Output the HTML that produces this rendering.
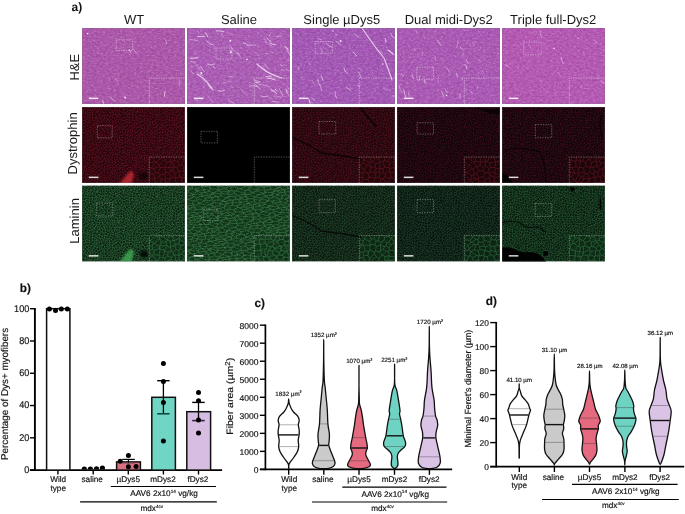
<!DOCTYPE html>
<html><head><meta charset="utf-8"><title>Figure</title>
<style>
html,body{margin:0;padding:0;background:#fff;}
body{width:685px;height:514px;overflow:hidden;}
svg{display:block;font-family:'Liberation Sans', sans-serif;text-rendering:geometricPrecision;}
g.ch text{stroke:#111;stroke-width:0.16px;}
</style></head><body>
<svg width="685" height="514" viewBox="0 0 685 514">
<rect width="685" height="514" fill="#fff"/>
<defs>
<filter id="grain" x="0" y="0" width="100%" height="100%" color-interpolation-filters="sRGB"><feTurbulence type="fractalNoise" baseFrequency="0.3 0.5" numOctaves="3" seed="2" result="n"/><feColorMatrix in="n" type="matrix" values="0 0 0 0 0.4  0 0 0 0 0.12  0 0 0 0 0.42  -3 0 0 0 1.7"/></filter>
<filter id="mott" x="0" y="0" width="100%" height="100%" color-interpolation-filters="sRGB"><feTurbulence type="fractalNoise" baseFrequency="0.35 0.6" numOctaves="3" seed="12" result="n"/><feColorMatrix in="n" type="matrix" values="0 0 0 0 1  0 0 0 0 0.85  0 0 0 0 1  0 3 0 0 -1.45"/></filter>
<filter id="speck" x="0" y="0" width="100%" height="100%" color-interpolation-filters="sRGB"><feTurbulence type="fractalNoise" baseFrequency="0.7" numOctaves="2" seed="6" result="n"/><feColorMatrix in="n" type="matrix" values="0 0 0 0 1  0 0 0 0 0.92  0 0 0 0 1  9 0 0 0 -6.1"/></filter>
<filter id="speck2" x="0" y="0" width="100%" height="100%" color-interpolation-filters="sRGB"><feTurbulence type="fractalNoise" baseFrequency="0.5" numOctaves="2" seed="13" result="n"/><feColorMatrix in="n" type="matrix" values="0 0 0 0 1  0 0 0 0 0.92  0 0 0 0 1  9 0 0 0 -5.9"/></filter>
<filter id="dgrain" x="0" y="0" width="100%" height="100%" color-interpolation-filters="sRGB"><feTurbulence type="fractalNoise" baseFrequency="0.9" numOctaves="1" seed="21" result="n"/><feColorMatrix in="n" type="matrix" values="0 0 0 0 0  0 0 0 0 0  0 0 0 0 0  3 0 0 0 -1.2"/></filter>
<filter id="blur1"><feGaussianBlur stdDeviation="1.2"/></filter>
<filter id="blur2"><feGaussianBlur stdDeviation="2.5"/></filter>
<pattern id="pR" width="40" height="40" patternUnits="userSpaceOnUse"><path d="M29.8 22.9L27.4 22.8M29.8 22.9L30.3 24.5M27.9 24.9L27.4 22.8M27.9 24.9L29.9 25.4M30.3 24.5L29.9 25.4M31.0 14.9L29.5 12.9M31.0 14.9L32.0 14.6M32.0 14.6L32.2 12.8M29.5 12.9L32.2 12.8M29.9 36.2L30.7 33.7M29.9 36.2L30.0 36.3M30.7 33.7L33.2 34.6M30.0 36.3L32.3 37.2M32.3 37.2L33.3 34.7M33.2 34.6L33.3 34.7M31.6 39.6L32.5 37.8M31.6 39.6L32.7 41.7M32.5 37.8L34.3 38.1M34.3 38.1L35.2 40.1M35.2 40.1L32.7 41.7M25.2 21.1L25.5 21.8M25.2 21.1L26.9 19.2M25.5 21.8L26.5 22.5M26.5 22.5L26.8 22.5M26.8 22.5L28.3 20.1M28.3 20.1L26.9 19.2M25.5 21.8L22.9 23.2M22.9 23.2L22.7 24.1M26.5 22.5L25.7 24.6M25.7 24.6L22.7 24.1M31.8 31.9L32.3 30.0M31.8 31.9L30.3 32.8M32.3 30.0L32.0 29.8M32.0 29.8L29.7 30.0M30.3 32.8L29.9 32.6M29.9 32.6L29.0 30.6M29.0 30.6L29.7 30.0M30.7 33.7L30.3 32.8M33.1 32.4L33.2 34.6M33.1 32.4L31.8 31.9M31.6 27.3L30.1 26.9M31.6 27.3L32.0 29.8M30.1 26.9L29.7 30.0M29.9 36.2L27.4 35.5M27.8 33.9L27.4 35.5M27.8 33.9L29.9 32.6M33.3 17.0L32.5 14.8M33.3 17.0L35.0 17.3M35.0 17.3L35.5 14.8M32.5 14.8L34.4 14.2M35.5 14.8L34.4 14.2M4.4 3.3L5.9 2.2M4.4 3.3L5.4 6.0M7.1 3.1L7.0 5.4M7.1 3.1L6.3 2.4M6.3 2.4L5.9 2.2M5.4 6.0L7.0 5.4M0.1 -0.7L1.6 0.1M0.1 -0.7L-1.5 -0.0M-1.7 1.3L-0.2 2.6M1.6 0.1L-0.2 2.6M0.1 -0.7L-0.0 -1.2M24.3 11.0L23.2 10.6M24.3 11.0L25.3 8.7M24.6 7.9L25.3 8.7M24.6 7.9L22.8 8.9M23.2 10.6L22.8 8.9M22.5 5.0L21.3 1.8M22.5 5.0L22.2 5.1M22.2 5.1L19.8 5.5M19.8 2.0L21.3 1.8M19.8 2.0L19.1 4.4M19.1 4.4L19.8 5.5M19.4 6.4L21.9 7.9M19.4 6.4L19.0 7.1M19.0 7.1L20.0 9.6M20.0 9.6L22.0 8.7M21.9 7.9L22.0 8.7M22.2 5.1L21.9 7.9M19.8 5.5L19.4 6.4M17.4 7.2L19.0 7.1M17.4 7.2L16.4 4.7M16.4 4.7L16.9 4.0M16.9 4.0L19.1 4.4M24.7 6.9L24.6 7.9M24.7 6.9L23.6 5.0M23.6 5.0L22.5 5.0M22.8 8.9L22.0 8.7M19.3 29.6L21.8 28.8M19.3 29.6L21.1 32.2M21.8 28.8L22.6 30.1M22.6 30.1L22.4 32.1M21.1 32.2L22.4 32.1M24.3 11.0L25.2 12.1M25.2 12.1L24.4 13.1M23.2 10.6L21.9 11.8M24.4 13.1L21.9 11.8M19.7 10.3L20.0 9.6M19.7 10.3L20.8 12.1M20.8 12.1L21.9 11.8M25.2 21.1L24.4 20.2M26.9 19.2L26.3 17.6M26.3 17.6L25.5 17.3M25.5 17.3L24.4 20.2M28.5 15.6L27.6 14.0M28.5 15.6L28.1 17.0M27.6 14.0L25.0 15.7M26.3 17.6L28.1 17.0M25.5 17.3L25.3 17.1M25.0 15.7L25.3 17.1M5.0 28.9L5.0 27.4M5.0 28.9L3.9 29.9M5.0 27.4L1.5 27.4M3.9 29.9L3.7 30.0M0.9 27.7L1.5 27.4M0.9 27.7L3.3 29.9M3.3 29.9L3.7 30.0M5.1 26.3L3.2 25.5M5.1 26.3L5.2 26.6M5.2 26.6L5.0 27.4M3.2 25.5L1.5 27.4M0.4 31.6L-0.1 31.6M0.4 31.6L3.3 29.9M-0.5 30.3L-0.1 31.6M-0.5 30.3L-0.1 27.6M-0.1 27.6L0.9 27.7M0.4 31.6L3.0 33.3M3.0 33.3L3.3 32.9M3.3 32.9L3.7 30.0M3.3 32.9L5.5 32.8M3.9 29.9L5.8 32.1M5.5 32.8L5.8 32.1M29.7 40.7L31.1 39.6M29.7 40.7L27.6 39.3M31.1 39.6L29.0 38.5M29.0 38.5L27.6 39.1M27.6 39.3L27.6 39.1M27.1 41.0L27.2 40.4M27.2 40.4L27.6 39.3M31.6 39.6L31.1 39.6M30.0 36.3L29.0 38.5M32.5 37.8L32.3 37.2M27.2 35.6L27.4 35.5M27.2 35.6L26.9 38.2M26.9 38.2L27.6 39.1M35.0 17.3L35.3 17.6M37.6 15.4L36.6 14.1M37.6 15.4L36.9 18.1M35.5 14.8L36.6 14.1M35.3 17.6L36.9 18.1M33.1 32.4L34.8 31.3M32.3 30.0L35.0 29.9M35.0 29.9L35.0 29.9M34.8 31.3L35.0 29.9M36.0 36.8L34.3 38.1M36.0 36.8L37.1 37.2M35.2 40.1L35.4 40.2M35.4 40.2L37.3 39.2M37.1 37.2L37.3 39.2M27.8 33.9L26.6 32.6M29.0 30.6L27.9 30.3M26.6 32.6L27.9 30.3M24.4 38.1L22.4 36.1M24.4 38.1L25.3 35.2M22.4 36.1L25.2 35.1M25.3 35.2L25.2 35.1M27.2 35.6L25.3 35.2M26.9 38.2L24.5 38.3M24.5 38.3L24.4 38.1M24.3 32.8L23.2 32.7M24.3 32.8L25.2 35.1M23.2 32.7L21.9 35.9M21.9 35.9L22.4 36.1M24.3 32.8L24.7 32.6M26.6 32.6L24.7 32.6M16.8 35.9L18.5 34.7M16.8 35.9L17.1 37.2M19.5 34.8L18.5 34.7M19.5 34.8L19.7 34.9M17.1 37.2L19.2 37.9M19.2 37.9L19.7 34.9M23.2 32.7L22.4 32.1M21.9 35.9L21.9 36.0M21.1 32.2L20.7 32.6M20.7 32.6L19.5 34.8M19.7 34.9L21.9 36.0M31.8 20.2L30.7 20.6M31.8 20.2L32.1 17.7M30.7 20.6L29.5 19.8M29.5 19.8L29.3 18.0M29.3 18.0L30.9 17.0M32.1 17.7L30.9 17.0M33.3 17.0L32.1 17.7M32.5 20.4L31.8 20.2M32.5 20.4L34.0 20.2M34.0 20.2L35.3 17.6M29.8 22.9L30.5 21.8M27.4 22.8L26.8 22.5M30.5 21.8L30.7 20.6M28.3 20.1L29.5 19.8M28.1 17.0L29.3 18.0M30.6 15.4L28.5 15.6M30.6 15.4L30.9 17.0M30.6 15.4L31.0 14.9M32.5 14.8L32.0 14.6M30.0 26.8L30.1 26.9M30.0 26.8L27.3 27.6M27.9 30.3L27.1 29.5M27.3 27.6L27.1 29.5M24.7 32.6L25.4 29.8M27.1 29.5L25.4 29.8M22.6 30.1L24.9 29.5M24.9 29.5L25.4 29.8M23.9 27.2L24.1 27.4M23.9 27.2L23.9 26.8M23.9 26.8L25.8 25.2M24.1 27.4L27.1 27.3M27.1 27.3L26.7 25.8M26.7 25.8L25.8 25.2M22.0 28.2L21.8 28.8M22.0 28.2L23.9 27.2M24.9 29.5L24.1 27.4M25.7 24.6L25.8 25.2M22.5 24.4L22.7 24.1M22.5 24.4L23.9 26.8M27.3 27.6L27.1 27.3M27.9 24.9L26.7 25.8M29.9 25.4L30.0 26.8M34.4 14.2L33.9 12.4M36.6 14.1L36.7 14.0M36.7 14.0L35.0 11.4M35.0 11.4L33.9 12.4M36.7 14.0L37.9 13.0M37.9 13.0L36.7 10.2M35.3 10.4L36.7 10.2M35.3 10.4L35.2 10.5M35.0 11.4L35.2 10.5M32.2 12.8L32.4 12.4M33.9 12.4L32.4 12.4M25.3 8.7L27.4 9.7M25.2 12.1L27.4 11.9M27.4 9.7L27.4 11.9M29.5 12.9L28.8 12.3M27.6 14.0L27.9 12.3M28.8 12.3L27.9 12.3M24.4 13.1L23.9 14.6M25.0 15.7L23.9 14.6M27.4 11.9L27.9 12.3M37.3 -0.8L38.5 -0.0M38.5 -0.0L40.1 -0.7M40.1 -0.7L40.0 -1.2M38.3 1.3L36.5 2.3M38.3 1.3L38.5 -0.0M35.4 0.2L36.5 2.3M35.4 0.2L37.3 -0.8M34.3 -1.9L35.2 0.1M35.2 0.1L35.4 0.2M41.6 0.1L39.8 2.6M41.6 0.1L40.1 -0.7M38.3 1.3L39.8 2.6M3.0 33.3L3.0 33.5M5.8 33.9L5.5 32.8M5.8 33.9L4.6 35.1M3.0 33.5L4.6 35.1M2.4 0.5L1.9 0.1M2.4 0.5L5.2 0.6M5.4 0.2L5.2 0.6M4.4 3.3L2.8 3.3M5.9 2.2L5.2 0.6M2.8 3.3L2.4 0.5M1.6 0.1L1.9 0.1M7.0 -0.7L8.7 -0.2M7.0 -0.7L5.4 0.2M8.7 -0.2L6.3 2.4M7.1 3.1L9.4 2.6M7.0 5.4L7.4 5.6M7.4 5.6L9.8 4.8M9.4 2.6L9.8 4.8M7.4 5.6L8.6 7.7M10.5 7.4L8.6 7.7M10.5 7.4L10.9 5.7M10.9 5.7L9.8 4.8M8.7 -0.2L8.7 -0.2M9.4 2.6L9.6 2.4M9.6 2.4L9.1 0.3M8.7 -0.2L9.1 0.3M16.4 4.7L15.2 5.0M16.9 4.0L16.7 3.2M15.2 5.0L14.2 3.1M14.2 3.1L14.8 2.4M16.7 3.2L14.8 2.4M19.8 2.0L19.7 1.9M19.7 1.9L17.0 2.6M16.7 3.2L17.0 2.6M19.7 -1.4L18.5 0.1M21.3 1.8L21.6 1.5M18.5 0.1L19.7 1.9M21.6 1.5L20.5 -1.4M5.4 6.0L5.1 6.4M8.6 7.7L7.6 9.2M5.1 6.4L5.2 7.0M5.2 7.0L7.3 9.2M7.3 9.2L7.6 9.2M19.7 10.3L18.1 10.6M17.1 12.4L18.1 10.6M17.1 12.4L18.4 13.8M20.8 12.1L20.7 12.5M20.7 12.5L18.4 13.8M25.3 17.1L22.2 17.9M23.9 14.6L23.0 14.7M23.0 14.7L22.0 17.7M22.0 17.7L22.2 17.9M24.4 20.2L22.1 19.9M22.2 17.9L22.1 19.9M22.9 23.2L22.3 22.1M22.3 22.1L21.8 20.1M21.8 20.1L22.1 19.9M2.3 23.9L3.2 25.5M2.3 23.9L0.8 24.7M-0.1 27.6L-0.2 27.5M0.8 24.7L0.2 25.6M-0.2 27.5L0.2 25.6M-0.2 3.2L2.2 4.0M-0.2 3.2L-1.7 4.8M-0.7 5.8L1.9 5.1M2.2 4.0L2.2 4.6M2.2 4.6L1.9 5.1M2.8 3.3L2.2 4.0M-0.2 2.6L-0.2 3.2M0.0 8.0L1.6 7.2M0.0 8.0L-0.7 5.8M1.6 7.2L1.9 5.1M4.3 6.3L5.1 6.4M4.3 6.3L2.2 4.6M1.6 7.2L2.5 7.5M2.5 7.5L4.3 6.3M12.3 37.7L9.8 37.8M12.3 37.7L12.6 40.0M12.6 40.0L9.1 40.3M9.1 40.3L8.7 39.8M8.7 39.8L9.8 37.8M12.3 37.7L12.4 37.7M12.4 37.7L12.7 35.0M9.5 37.5L9.8 37.8M9.5 37.5L9.6 35.2M9.6 35.2L12.7 35.0M15.2 34.9L16.1 35.6M15.2 34.9L12.9 34.7M16.1 35.6L14.3 37.8M14.3 37.8L12.4 37.7M12.9 34.7L12.7 35.0M14.7 38.0L16.7 38.0M14.7 38.0L15.3 40.4M16.7 38.0L16.9 40.1M15.3 40.4L16.9 40.1M16.9 40.1L16.9 40.1M16.1 35.6L16.8 35.9M14.3 37.8L14.7 38.0M17.1 37.2L16.7 38.0M12.6 40.0L12.8 40.3M12.8 40.3L14.5 40.8M14.5 40.8L15.3 40.4M18.5 40.1L16.9 40.1M18.5 40.1L19.7 38.6M19.7 38.6L19.2 37.9M30.5 21.8L32.9 23.4M32.5 20.4L33.2 23.0M32.9 23.4L33.2 23.0M30.3 24.5L32.6 24.4M32.9 23.4L32.6 24.4M31.6 27.3L33.2 26.7M33.2 26.7L33.1 25.1M32.6 24.4L33.1 25.1M34.0 20.2L34.6 20.7M33.2 23.0L34.8 22.7M34.6 20.7L34.8 22.7M35.7 24.3L33.1 25.1M35.7 24.3L35.8 23.5M34.8 22.7L35.8 23.5M33.2 26.7L34.8 27.7M35.7 24.3L36.1 25.3M36.1 25.3L34.8 27.7M35.0 29.9L34.9 27.8M34.8 27.7L34.9 27.8M39.5 30.3L39.9 31.6M39.5 30.3L36.4 29.9M39.9 31.6L39.3 32.4M36.4 29.9L36.0 30.0M36.0 30.0L38.2 32.5M39.3 32.4L38.2 32.5M23.8 39.4L21.2 38.2M23.8 39.4L23.8 39.7M23.8 39.7L23.8 39.8M23.8 39.8L22.6 41.1M20.5 38.6L21.2 38.2M20.5 38.6L21.6 41.5M24.5 38.3L23.8 39.4M21.9 36.0L21.2 38.2M27.2 40.4L23.8 39.7M25.8 42.1L23.8 39.8M19.7 38.6L20.5 38.6M38.3 41.3L38.5 40.0M38.5 40.0L40.1 39.3M40.1 39.3L41.6 40.1M37.3 39.2L38.5 40.0M35.2 10.5L32.3 10.1M32.4 12.4L31.7 10.7M32.3 10.1L31.7 10.7M28.8 12.3L31.1 10.7M31.7 10.7L31.1 10.7M29.0 -1.5L31.1 -0.4M31.6 -0.4L31.1 -0.4M35.2 0.1L32.7 1.7M31.6 -0.4L32.7 1.7M33.7 4.3L33.1 4.3M33.7 4.3L36.4 3.1M33.1 4.3L32.4 2.4M36.4 3.1L36.4 2.7M36.4 2.7L32.7 1.7M32.4 2.4L32.7 1.7M37.7 4.8L38.3 4.8M37.7 4.8L36.4 3.1M39.8 2.6L39.8 3.2M36.5 2.3L36.4 2.7M38.3 4.8L39.8 3.2M32.7 1.7L32.7 1.7M31.1 -0.4L29.7 0.7M29.7 0.7L29.3 2.5M29.3 2.5L29.6 2.8M29.6 2.8L32.4 2.4M-0.2 8.4L0.0 8.0M-0.0 38.8L1.9 36.2M-0.0 38.8L-1.0 36.8M-1.0 36.8L0.5 35.2M0.5 35.2L1.2 35.3M1.2 35.3L1.9 36.2M3.3 37.3L1.9 40.1M3.3 37.3L1.9 36.2M1.9 40.1L1.6 40.1M0.1 39.3L1.6 40.1M0.1 39.3L-0.0 38.8M-0.7 32.4L-0.0 34.4M0.5 35.2L-0.0 34.4M-0.1 31.6L-0.7 32.4M3.0 33.5L1.2 35.3M0.1 39.3L-1.5 40.0M-0.2 27.5L-1.1 27.3M15.2 5.0L15.0 5.2M14.2 3.1L12.5 3.6M12.5 3.6L12.4 4.8M15.0 5.2L12.4 4.8M11.7 2.4L9.6 2.4M11.7 2.4L12.5 3.6M10.9 5.7L12.2 5.1M12.2 5.1L12.4 4.8M9.1 0.3L12.6 0.0M11.7 2.4L12.8 0.3M14.8 2.4L14.5 0.8M14.5 0.8L12.8 0.3M12.8 0.3L12.6 0.0M10.5 7.4L10.9 7.9M8.2 9.9L7.6 9.2M8.2 9.9L10.6 10.0M10.6 10.0L10.9 7.9M23.6 5.0L24.8 3.6M21.6 1.5L22.6 1.1M22.6 1.1L24.8 3.6M8.2 9.9L8.4 11.8M8.4 11.8L7.7 12.3M7.7 12.3L5.5 11.3M7.3 9.2L5.3 10.6M5.3 10.6L5.5 11.3M5.2 7.0L3.7 9.9M5.3 10.6L3.7 9.9M-0.2 8.4L-0.2 8.6M-0.2 8.6L3.5 10.0M2.5 7.5L3.6 9.9M3.5 10.0L3.6 9.9M3.6 9.9L3.7 9.9M-0.7 9.4L0.4 12.2M-0.2 12.9L0.4 12.2M-0.2 8.6L-0.7 9.4M3.5 10.0L2.1 11.9M2.1 11.9L0.4 12.2M0.3 15.0L-0.4 15.8M0.3 15.0L-0.2 12.9M0.8 24.7L-1.1 22.3M0.2 25.6L-1.7 24.1M9.1 16.7L9.4 17.3M9.1 16.7L8.0 15.9M8.0 15.9L7.1 18.4M9.4 17.3L9.3 19.8M7.1 18.4L9.3 19.8M9.3 19.8L9.3 19.8M6.4 14.9L7.3 14.9M6.4 14.9L5.0 18.0M5.0 18.0L5.5 18.6M5.5 18.6L7.1 18.4M7.6 15.1L7.3 14.9M7.6 15.1L8.0 15.9M5.5 18.6L5.4 19.6M7.9 20.5L5.4 19.6M7.9 20.5L9.3 19.8M11.7 19.5L11.2 19.9M11.7 19.5L12.4 17.1M12.4 17.1L12.2 16.8M12.2 16.8L9.4 17.3M9.3 19.8L9.8 20.1M9.8 20.1L11.2 19.9M20.4 16.3L19.3 15.7M20.4 16.3L21.8 14.3M19.3 15.7L21.0 13.2M21.8 14.3L21.0 13.2M20.7 12.5L21.0 13.2M18.4 13.8L18.2 15.3M18.2 15.3L18.3 15.4M18.3 15.4L19.3 15.7M23.0 14.7L21.8 14.3M22.0 17.7L21.1 17.2M20.4 16.3L20.5 16.4M20.5 16.4L21.1 17.2M7.0 21.9L5.0 22.1M7.0 21.9L8.0 23.0M5.8 24.3L4.9 22.5M5.8 24.3L8.1 24.1M4.9 22.5L5.0 22.1M8.1 24.1L8.0 23.0M7.9 20.5L7.0 21.9M5.4 19.6L4.7 21.1M4.7 21.1L5.0 22.1M9.8 20.1L9.7 21.4M9.7 21.4L8.0 23.0M5.1 26.3L5.8 24.3M2.4 23.8L4.9 22.5M2.4 23.8L2.3 23.9M2.4 40.5L1.9 40.1M8.7 39.8L8.7 39.8M2.4 40.5L5.2 40.6M9.9 32.6L10.4 33.1M9.9 32.6L8.0 33.0M10.4 33.1L9.2 34.8M8.0 33.0L7.8 34.4M7.8 34.4L9.2 34.8M9.6 35.2L9.2 34.8M12.6 33.5L10.4 33.1M12.6 33.5L12.9 34.7M7.7 34.5L5.8 33.9M7.7 34.5L7.8 34.4M7.4 31.6L8.0 33.0M7.4 31.6L5.8 32.1M7.7 34.5L7.0 36.6M9.5 37.5L7.0 36.6M36.1 25.3L37.4 25.6M34.9 27.8L38.7 27.2M37.4 25.6L38.7 27.2M39.9 27.6L39.5 30.3M39.9 27.6L39.8 27.5M36.4 29.9L38.9 27.3M39.8 27.5L38.9 27.3M35.0 29.9L36.0 30.0M38.9 27.3L38.7 27.2M34.8 31.3L35.7 33.6M38.2 32.5L37.2 33.2M37.2 33.2L35.7 33.6M33.3 34.7L35.1 34.6M35.7 33.6L35.1 34.6M36.0 36.8L35.4 35.1M35.4 35.1L35.1 34.6M39.3 32.4L40.0 34.4M37.2 33.2L37.8 34.9M40.0 34.4L37.8 34.9M37.1 37.2L37.8 36.8M35.4 35.1L37.8 35.0M37.8 36.8L37.8 35.0M37.8 35.0L37.8 34.9M34.4 7.9L36.6 7.4M34.4 7.9L34.1 7.7M34.1 7.7L35.2 5.8M35.2 5.8L36.9 5.8M36.9 5.8L36.9 6.8M36.9 6.8L36.6 7.4M35.3 10.4L34.4 7.9M37.1 9.8L36.7 10.2M37.1 9.8L36.6 7.4M32.3 10.1L32.5 7.4M32.5 7.4L34.1 7.7M37.7 4.8L36.9 5.8M33.7 4.3L35.2 5.8M39.8 8.4L36.9 6.8M39.8 8.4L39.8 8.6M37.1 9.8L39.3 9.4M39.8 8.6L39.3 9.4M32.5 7.4L32.1 7.0M33.1 4.3L32.6 5.1M32.6 5.1L32.1 7.0M29.6 2.8L29.5 4.4M32.6 5.1L29.5 4.4M41.6 7.2L40.0 8.0M41.9 5.1L39.3 5.8M40.0 8.0L39.3 5.8M39.8 8.4L40.0 8.0M38.3 4.8L39.3 5.8M13.7 8.0L15.2 9.8M13.7 8.0L13.9 7.5M13.9 7.5L14.7 6.9M14.7 6.9L17.0 7.5M17.0 7.5L16.5 9.4M16.5 9.4L15.2 9.8M12.2 5.1L13.9 7.5M10.9 7.9L13.0 8.3M13.0 8.3L13.7 8.0M15.0 5.2L14.7 6.9M17.4 7.2L17.0 7.5M18.1 10.6L16.5 9.4M15.3 0.4L14.7 -2.0M15.3 0.4L16.9 0.1M16.9 0.1L16.9 0.1M16.9 0.1L16.7 -2.0M14.5 0.8L15.3 0.4M17.0 2.6L16.9 0.1M18.5 0.1L16.9 0.1M29.7 0.7L27.6 -0.7M27.6 -0.9L27.6 -0.7M5.5 14.5L5.2 12.7M5.5 14.5L3.3 14.9M5.2 12.7L2.6 12.5M3.3 14.9L2.6 12.5M7.7 12.3L7.3 14.9M6.4 14.9L5.5 14.5M5.5 11.3L5.2 12.7M2.5 15.7L2.8 17.5M2.5 15.7L3.3 14.9M2.8 17.5L5.0 18.0M2.1 11.9L2.6 12.5M2.5 15.7L0.3 15.0M-2.4 20.6L0.5 19.8M0.5 19.8L-0.9 17.9M2.8 17.5L2.6 17.8M-0.4 15.8L-0.7 17.7M2.6 17.8L-0.7 17.7M-0.7 17.7L-0.9 17.9M7.6 15.1L10.1 14.1M9.1 16.7L11.2 15.1M10.1 14.1L11.2 15.1M12.2 16.8L12.2 15.6M11.2 15.1L12.2 15.6M12.4 10.9L11.0 10.7M12.4 10.9L12.4 10.9M12.4 10.9L12.2 12.9M11.0 10.7L10.0 12.2M12.2 12.9L10.3 13.1M10.0 12.2L10.3 13.1M10.6 10.0L11.0 10.7M13.0 8.3L12.4 10.9M14.6 11.3L12.4 10.9M14.6 11.3L15.2 9.8M8.4 11.8L10.0 12.2M10.1 14.1L10.3 13.1M15.4 14.8L13.1 14.6M15.4 14.8L15.9 12.6M15.9 12.6L14.7 11.7M14.7 11.7L13.0 13.7M13.1 14.6L13.0 13.7M17.1 12.4L15.9 12.6M18.2 15.3L15.8 15.4M15.8 15.4L15.4 14.8M14.6 11.3L14.7 11.7M12.2 12.9L13.0 13.7M12.2 15.6L13.1 14.6M11.2 19.9L12.8 23.3M9.7 21.4L10.5 23.0M10.5 23.0L12.7 23.4M12.8 23.3L12.7 23.4M22.0 28.2L20.3 25.8M22.5 24.4L20.4 25.0M20.3 25.8L20.4 25.0M22.3 22.1L19.3 22.9M19.3 22.9L19.8 24.5M20.4 25.0L19.8 24.5M20.7 32.6L17.1 31.6M18.5 34.7L17.0 31.8M17.1 31.6L17.0 31.8M15.2 34.9L16.4 32.0M17.0 31.8L16.4 32.0M11.7 19.5L14.7 20.5M12.8 23.3L14.8 21.1M14.7 20.5L14.8 21.1M5.4 40.2L7.0 39.3M5.4 40.2L4.2 37.1M7.0 39.3L6.5 36.9M6.5 36.9L4.6 36.7M4.6 36.7L4.2 37.1M8.7 39.8L7.0 39.3M5.2 40.6L5.4 40.2M3.3 37.3L4.2 37.1M7.0 36.6L6.5 36.9M4.6 35.1L4.6 36.7M34.6 20.7L37.6 20.8M35.8 23.5L38.0 22.1M37.6 20.8L38.0 22.1M36.9 18.1L37.5 18.5M37.6 20.8L37.6 20.6M37.5 18.5L37.6 20.6M40.3 15.0L39.8 12.9M39.8 12.9L40.4 12.2M37.6 15.4L39.6 15.8M37.9 13.0L39.8 12.9M39.6 15.8L40.3 15.0M39.3 9.4L40.4 12.2M38.3 24.1L40.2 25.6M38.3 24.1L38.2 22.2M38.2 22.2L38.9 22.3M38.9 22.3L40.8 24.7M40.8 24.7L40.2 25.6M37.4 25.6L38.3 24.1M39.8 27.5L40.2 25.6M38.0 22.1L38.2 22.2M40.9 27.7L39.9 27.6M38.9 22.2L38.9 22.3M38.9 22.2L41.5 22.1M39.9 31.6L40.4 31.6M40.0 38.8L39.0 36.8M40.0 38.8L41.9 36.2M39.0 36.8L40.5 35.2M40.5 35.2L41.2 35.3M40.1 39.3L40.0 38.8M37.8 36.8L39.0 36.8M40.0 34.4L40.5 35.2M31.1 10.7L29.7 8.8M32.1 7.0L30.6 7.3M30.6 7.3L29.7 8.8M27.4 9.7L27.7 9.4M27.7 9.4L29.7 8.8M23.8 -0.2L25.8 2.1M23.8 -0.2L23.8 -0.3M23.8 -0.3L27.2 0.4M25.8 2.1L27.1 1.0M27.1 1.0L27.2 0.4M22.6 1.1L23.8 -0.2M24.8 3.6L25.4 3.3M25.4 3.3L25.8 2.1M23.8 -0.6L23.8 -0.3M28.9 2.4L26.5 3.9M28.9 2.4L27.1 1.0M26.5 3.9L25.4 3.3M29.3 2.5L28.9 2.4M27.6 -0.7L27.2 0.4M0.6 19.8L2.0 20.1M0.6 19.8L-1.1 22.2M1.5 22.1L2.1 20.3M1.5 22.1L-1.1 22.2M2.1 20.3L2.0 20.1M0.5 19.8L0.6 19.8M2.6 17.8L2.0 20.1M2.4 23.8L1.5 22.1M4.7 21.1L2.1 20.3M15.5 26.0L16.7 25.4M15.5 26.0L13.5 24.5M13.5 24.5L16.3 23.6M16.3 23.6L16.8 25.1M16.7 25.4L16.8 25.1M14.8 27.9L14.5 28.2M14.8 27.9L15.5 26.0M12.6 26.7L13.1 24.4M12.6 26.7L14.2 28.1M13.1 24.4L13.5 24.5M14.2 28.1L14.5 28.2M12.7 23.4L12.9 24.1M13.1 24.4L12.9 24.1M16.6 22.6L14.8 21.1M16.6 22.6L16.3 23.6M5.2 26.6L7.2 26.6M8.1 24.1L8.4 24.4M7.2 26.6L8.4 24.4M10.5 23.0L9.2 24.6M12.9 24.1L9.8 25.5M9.8 25.5L9.2 24.6M8.4 24.4L9.2 24.6M19.3 26.7L17.6 26.8M19.3 26.7L19.3 29.6M17.6 26.8L17.0 27.9M17.0 27.9L18.2 29.9M19.3 29.6L18.2 29.9M20.3 25.8L19.3 26.7M19.8 24.5L16.8 25.1M16.7 25.4L17.6 26.8M19.3 29.6L19.3 29.6M14.8 27.9L17.0 27.9M17.3 30.9L14.6 29.0M17.3 30.9L18.2 29.9M14.5 28.2L14.6 29.0M17.3 30.9L17.1 31.6M10.8 29.9L11.7 29.8M10.8 29.9L12.7 33.0M11.7 29.8L13.9 30.6M12.7 33.0L14.0 31.8M14.0 31.8L13.9 30.6M14.2 28.1L11.7 29.8M14.6 29.0L13.9 30.6M12.6 33.5L12.7 33.0M16.4 32.0L14.0 31.8M21.8 20.1L19.8 20.4M21.1 17.2L18.7 19.2M18.7 19.2L19.8 20.4M19.3 22.9L19.0 22.5M19.8 20.4L19.0 22.5M16.6 22.6L17.0 22.4M19.0 22.5L17.0 22.4M40.6 19.8L40.5 19.8M40.5 19.8L39.1 17.9M42.6 17.8L39.3 17.7M39.3 17.7L39.1 17.9M38.9 22.2L40.6 19.8M37.6 20.6L40.5 19.8M37.5 18.5L39.1 17.9M39.6 15.8L39.3 17.7M29.1 5.0L30.0 6.8M29.1 5.0L27.5 5.2M30.0 6.8L27.7 7.3M27.5 5.2L27.0 6.3M27.0 6.3L27.7 7.3M29.5 4.4L29.1 5.0M30.6 7.3L30.0 6.8M26.5 3.9L27.5 5.2M27.7 9.4L27.7 7.3M24.7 6.9L27.0 6.3M8.3 27.5L10.2 27.0M8.3 27.5L7.6 29.8M10.7 27.4L10.2 27.0M10.7 27.4L10.8 29.9M7.6 29.8L7.9 30.3M7.9 30.3L9.9 30.4M9.9 30.4L10.8 29.9M7.2 26.6L8.3 27.5M9.8 25.5L10.2 27.0M5.0 28.9L7.6 29.8M12.6 26.7L10.7 27.4M10.8 29.9L10.8 29.9M7.4 31.6L7.9 30.3M9.9 32.6L9.9 30.4M17.8 19.3L18.3 19.0M17.8 19.3L15.2 19.7M18.0 18.0L15.4 17.0M18.0 18.0L18.2 18.5M18.2 18.5L18.3 19.0M15.2 19.7L14.8 17.6M14.8 17.6L15.4 17.0M18.7 19.2L18.3 19.0M17.0 22.4L17.8 19.3M14.7 20.5L15.2 19.7M18.3 15.4L18.0 18.0M15.8 15.4L15.4 17.0M20.5 16.4L18.2 18.5M12.4 17.1L14.8 17.6" fill="none" stroke="#9a2038" stroke-width="0.55"/></pattern>
<pattern id="pG" width="40" height="40" patternUnits="userSpaceOnUse"><path d="M29.8 22.9L27.4 22.8M29.8 22.9L30.3 24.5M27.9 24.9L27.4 22.8M27.9 24.9L29.9 25.4M30.3 24.5L29.9 25.4M31.0 14.9L29.5 12.9M31.0 14.9L32.0 14.6M32.0 14.6L32.2 12.8M29.5 12.9L32.2 12.8M29.9 36.2L30.7 33.7M29.9 36.2L30.0 36.3M30.7 33.7L33.2 34.6M30.0 36.3L32.3 37.2M32.3 37.2L33.3 34.7M33.2 34.6L33.3 34.7M31.6 39.6L32.5 37.8M31.6 39.6L32.7 41.7M32.5 37.8L34.3 38.1M34.3 38.1L35.2 40.1M35.2 40.1L32.7 41.7M25.2 21.1L25.5 21.8M25.2 21.1L26.9 19.2M25.5 21.8L26.5 22.5M26.5 22.5L26.8 22.5M26.8 22.5L28.3 20.1M28.3 20.1L26.9 19.2M25.5 21.8L22.9 23.2M22.9 23.2L22.7 24.1M26.5 22.5L25.7 24.6M25.7 24.6L22.7 24.1M31.8 31.9L32.3 30.0M31.8 31.9L30.3 32.8M32.3 30.0L32.0 29.8M32.0 29.8L29.7 30.0M30.3 32.8L29.9 32.6M29.9 32.6L29.0 30.6M29.0 30.6L29.7 30.0M30.7 33.7L30.3 32.8M33.1 32.4L33.2 34.6M33.1 32.4L31.8 31.9M31.6 27.3L30.1 26.9M31.6 27.3L32.0 29.8M30.1 26.9L29.7 30.0M29.9 36.2L27.4 35.5M27.8 33.9L27.4 35.5M27.8 33.9L29.9 32.6M33.3 17.0L32.5 14.8M33.3 17.0L35.0 17.3M35.0 17.3L35.5 14.8M32.5 14.8L34.4 14.2M35.5 14.8L34.4 14.2M4.4 3.3L5.9 2.2M4.4 3.3L5.4 6.0M7.1 3.1L7.0 5.4M7.1 3.1L6.3 2.4M6.3 2.4L5.9 2.2M5.4 6.0L7.0 5.4M0.1 -0.7L1.6 0.1M0.1 -0.7L-1.5 -0.0M-1.7 1.3L-0.2 2.6M1.6 0.1L-0.2 2.6M0.1 -0.7L-0.0 -1.2M24.3 11.0L23.2 10.6M24.3 11.0L25.3 8.7M24.6 7.9L25.3 8.7M24.6 7.9L22.8 8.9M23.2 10.6L22.8 8.9M22.5 5.0L21.3 1.8M22.5 5.0L22.2 5.1M22.2 5.1L19.8 5.5M19.8 2.0L21.3 1.8M19.8 2.0L19.1 4.4M19.1 4.4L19.8 5.5M19.4 6.4L21.9 7.9M19.4 6.4L19.0 7.1M19.0 7.1L20.0 9.6M20.0 9.6L22.0 8.7M21.9 7.9L22.0 8.7M22.2 5.1L21.9 7.9M19.8 5.5L19.4 6.4M17.4 7.2L19.0 7.1M17.4 7.2L16.4 4.7M16.4 4.7L16.9 4.0M16.9 4.0L19.1 4.4M24.7 6.9L24.6 7.9M24.7 6.9L23.6 5.0M23.6 5.0L22.5 5.0M22.8 8.9L22.0 8.7M19.3 29.6L21.8 28.8M19.3 29.6L21.1 32.2M21.8 28.8L22.6 30.1M22.6 30.1L22.4 32.1M21.1 32.2L22.4 32.1M24.3 11.0L25.2 12.1M25.2 12.1L24.4 13.1M23.2 10.6L21.9 11.8M24.4 13.1L21.9 11.8M19.7 10.3L20.0 9.6M19.7 10.3L20.8 12.1M20.8 12.1L21.9 11.8M25.2 21.1L24.4 20.2M26.9 19.2L26.3 17.6M26.3 17.6L25.5 17.3M25.5 17.3L24.4 20.2M28.5 15.6L27.6 14.0M28.5 15.6L28.1 17.0M27.6 14.0L25.0 15.7M26.3 17.6L28.1 17.0M25.5 17.3L25.3 17.1M25.0 15.7L25.3 17.1M5.0 28.9L5.0 27.4M5.0 28.9L3.9 29.9M5.0 27.4L1.5 27.4M3.9 29.9L3.7 30.0M0.9 27.7L1.5 27.4M0.9 27.7L3.3 29.9M3.3 29.9L3.7 30.0M5.1 26.3L3.2 25.5M5.1 26.3L5.2 26.6M5.2 26.6L5.0 27.4M3.2 25.5L1.5 27.4M0.4 31.6L-0.1 31.6M0.4 31.6L3.3 29.9M-0.5 30.3L-0.1 31.6M-0.5 30.3L-0.1 27.6M-0.1 27.6L0.9 27.7M0.4 31.6L3.0 33.3M3.0 33.3L3.3 32.9M3.3 32.9L3.7 30.0M3.3 32.9L5.5 32.8M3.9 29.9L5.8 32.1M5.5 32.8L5.8 32.1M29.7 40.7L31.1 39.6M29.7 40.7L27.6 39.3M31.1 39.6L29.0 38.5M29.0 38.5L27.6 39.1M27.6 39.3L27.6 39.1M27.1 41.0L27.2 40.4M27.2 40.4L27.6 39.3M31.6 39.6L31.1 39.6M30.0 36.3L29.0 38.5M32.5 37.8L32.3 37.2M27.2 35.6L27.4 35.5M27.2 35.6L26.9 38.2M26.9 38.2L27.6 39.1M35.0 17.3L35.3 17.6M37.6 15.4L36.6 14.1M37.6 15.4L36.9 18.1M35.5 14.8L36.6 14.1M35.3 17.6L36.9 18.1M33.1 32.4L34.8 31.3M32.3 30.0L35.0 29.9M35.0 29.9L35.0 29.9M34.8 31.3L35.0 29.9M36.0 36.8L34.3 38.1M36.0 36.8L37.1 37.2M35.2 40.1L35.4 40.2M35.4 40.2L37.3 39.2M37.1 37.2L37.3 39.2M27.8 33.9L26.6 32.6M29.0 30.6L27.9 30.3M26.6 32.6L27.9 30.3M24.4 38.1L22.4 36.1M24.4 38.1L25.3 35.2M22.4 36.1L25.2 35.1M25.3 35.2L25.2 35.1M27.2 35.6L25.3 35.2M26.9 38.2L24.5 38.3M24.5 38.3L24.4 38.1M24.3 32.8L23.2 32.7M24.3 32.8L25.2 35.1M23.2 32.7L21.9 35.9M21.9 35.9L22.4 36.1M24.3 32.8L24.7 32.6M26.6 32.6L24.7 32.6M16.8 35.9L18.5 34.7M16.8 35.9L17.1 37.2M19.5 34.8L18.5 34.7M19.5 34.8L19.7 34.9M17.1 37.2L19.2 37.9M19.2 37.9L19.7 34.9M23.2 32.7L22.4 32.1M21.9 35.9L21.9 36.0M21.1 32.2L20.7 32.6M20.7 32.6L19.5 34.8M19.7 34.9L21.9 36.0M31.8 20.2L30.7 20.6M31.8 20.2L32.1 17.7M30.7 20.6L29.5 19.8M29.5 19.8L29.3 18.0M29.3 18.0L30.9 17.0M32.1 17.7L30.9 17.0M33.3 17.0L32.1 17.7M32.5 20.4L31.8 20.2M32.5 20.4L34.0 20.2M34.0 20.2L35.3 17.6M29.8 22.9L30.5 21.8M27.4 22.8L26.8 22.5M30.5 21.8L30.7 20.6M28.3 20.1L29.5 19.8M28.1 17.0L29.3 18.0M30.6 15.4L28.5 15.6M30.6 15.4L30.9 17.0M30.6 15.4L31.0 14.9M32.5 14.8L32.0 14.6M30.0 26.8L30.1 26.9M30.0 26.8L27.3 27.6M27.9 30.3L27.1 29.5M27.3 27.6L27.1 29.5M24.7 32.6L25.4 29.8M27.1 29.5L25.4 29.8M22.6 30.1L24.9 29.5M24.9 29.5L25.4 29.8M23.9 27.2L24.1 27.4M23.9 27.2L23.9 26.8M23.9 26.8L25.8 25.2M24.1 27.4L27.1 27.3M27.1 27.3L26.7 25.8M26.7 25.8L25.8 25.2M22.0 28.2L21.8 28.8M22.0 28.2L23.9 27.2M24.9 29.5L24.1 27.4M25.7 24.6L25.8 25.2M22.5 24.4L22.7 24.1M22.5 24.4L23.9 26.8M27.3 27.6L27.1 27.3M27.9 24.9L26.7 25.8M29.9 25.4L30.0 26.8M34.4 14.2L33.9 12.4M36.6 14.1L36.7 14.0M36.7 14.0L35.0 11.4M35.0 11.4L33.9 12.4M36.7 14.0L37.9 13.0M37.9 13.0L36.7 10.2M35.3 10.4L36.7 10.2M35.3 10.4L35.2 10.5M35.0 11.4L35.2 10.5M32.2 12.8L32.4 12.4M33.9 12.4L32.4 12.4M25.3 8.7L27.4 9.7M25.2 12.1L27.4 11.9M27.4 9.7L27.4 11.9M29.5 12.9L28.8 12.3M27.6 14.0L27.9 12.3M28.8 12.3L27.9 12.3M24.4 13.1L23.9 14.6M25.0 15.7L23.9 14.6M27.4 11.9L27.9 12.3M37.3 -0.8L38.5 -0.0M38.5 -0.0L40.1 -0.7M40.1 -0.7L40.0 -1.2M38.3 1.3L36.5 2.3M38.3 1.3L38.5 -0.0M35.4 0.2L36.5 2.3M35.4 0.2L37.3 -0.8M34.3 -1.9L35.2 0.1M35.2 0.1L35.4 0.2M41.6 0.1L39.8 2.6M41.6 0.1L40.1 -0.7M38.3 1.3L39.8 2.6M3.0 33.3L3.0 33.5M5.8 33.9L5.5 32.8M5.8 33.9L4.6 35.1M3.0 33.5L4.6 35.1M2.4 0.5L1.9 0.1M2.4 0.5L5.2 0.6M5.4 0.2L5.2 0.6M4.4 3.3L2.8 3.3M5.9 2.2L5.2 0.6M2.8 3.3L2.4 0.5M1.6 0.1L1.9 0.1M7.0 -0.7L8.7 -0.2M7.0 -0.7L5.4 0.2M8.7 -0.2L6.3 2.4M7.1 3.1L9.4 2.6M7.0 5.4L7.4 5.6M7.4 5.6L9.8 4.8M9.4 2.6L9.8 4.8M7.4 5.6L8.6 7.7M10.5 7.4L8.6 7.7M10.5 7.4L10.9 5.7M10.9 5.7L9.8 4.8M8.7 -0.2L8.7 -0.2M9.4 2.6L9.6 2.4M9.6 2.4L9.1 0.3M8.7 -0.2L9.1 0.3M16.4 4.7L15.2 5.0M16.9 4.0L16.7 3.2M15.2 5.0L14.2 3.1M14.2 3.1L14.8 2.4M16.7 3.2L14.8 2.4M19.8 2.0L19.7 1.9M19.7 1.9L17.0 2.6M16.7 3.2L17.0 2.6M19.7 -1.4L18.5 0.1M21.3 1.8L21.6 1.5M18.5 0.1L19.7 1.9M21.6 1.5L20.5 -1.4M5.4 6.0L5.1 6.4M8.6 7.7L7.6 9.2M5.1 6.4L5.2 7.0M5.2 7.0L7.3 9.2M7.3 9.2L7.6 9.2M19.7 10.3L18.1 10.6M17.1 12.4L18.1 10.6M17.1 12.4L18.4 13.8M20.8 12.1L20.7 12.5M20.7 12.5L18.4 13.8M25.3 17.1L22.2 17.9M23.9 14.6L23.0 14.7M23.0 14.7L22.0 17.7M22.0 17.7L22.2 17.9M24.4 20.2L22.1 19.9M22.2 17.9L22.1 19.9M22.9 23.2L22.3 22.1M22.3 22.1L21.8 20.1M21.8 20.1L22.1 19.9M2.3 23.9L3.2 25.5M2.3 23.9L0.8 24.7M-0.1 27.6L-0.2 27.5M0.8 24.7L0.2 25.6M-0.2 27.5L0.2 25.6M-0.2 3.2L2.2 4.0M-0.2 3.2L-1.7 4.8M-0.7 5.8L1.9 5.1M2.2 4.0L2.2 4.6M2.2 4.6L1.9 5.1M2.8 3.3L2.2 4.0M-0.2 2.6L-0.2 3.2M0.0 8.0L1.6 7.2M0.0 8.0L-0.7 5.8M1.6 7.2L1.9 5.1M4.3 6.3L5.1 6.4M4.3 6.3L2.2 4.6M1.6 7.2L2.5 7.5M2.5 7.5L4.3 6.3M12.3 37.7L9.8 37.8M12.3 37.7L12.6 40.0M12.6 40.0L9.1 40.3M9.1 40.3L8.7 39.8M8.7 39.8L9.8 37.8M12.3 37.7L12.4 37.7M12.4 37.7L12.7 35.0M9.5 37.5L9.8 37.8M9.5 37.5L9.6 35.2M9.6 35.2L12.7 35.0M15.2 34.9L16.1 35.6M15.2 34.9L12.9 34.7M16.1 35.6L14.3 37.8M14.3 37.8L12.4 37.7M12.9 34.7L12.7 35.0M14.7 38.0L16.7 38.0M14.7 38.0L15.3 40.4M16.7 38.0L16.9 40.1M15.3 40.4L16.9 40.1M16.9 40.1L16.9 40.1M16.1 35.6L16.8 35.9M14.3 37.8L14.7 38.0M17.1 37.2L16.7 38.0M12.6 40.0L12.8 40.3M12.8 40.3L14.5 40.8M14.5 40.8L15.3 40.4M18.5 40.1L16.9 40.1M18.5 40.1L19.7 38.6M19.7 38.6L19.2 37.9M30.5 21.8L32.9 23.4M32.5 20.4L33.2 23.0M32.9 23.4L33.2 23.0M30.3 24.5L32.6 24.4M32.9 23.4L32.6 24.4M31.6 27.3L33.2 26.7M33.2 26.7L33.1 25.1M32.6 24.4L33.1 25.1M34.0 20.2L34.6 20.7M33.2 23.0L34.8 22.7M34.6 20.7L34.8 22.7M35.7 24.3L33.1 25.1M35.7 24.3L35.8 23.5M34.8 22.7L35.8 23.5M33.2 26.7L34.8 27.7M35.7 24.3L36.1 25.3M36.1 25.3L34.8 27.7M35.0 29.9L34.9 27.8M34.8 27.7L34.9 27.8M39.5 30.3L39.9 31.6M39.5 30.3L36.4 29.9M39.9 31.6L39.3 32.4M36.4 29.9L36.0 30.0M36.0 30.0L38.2 32.5M39.3 32.4L38.2 32.5M23.8 39.4L21.2 38.2M23.8 39.4L23.8 39.7M23.8 39.7L23.8 39.8M23.8 39.8L22.6 41.1M20.5 38.6L21.2 38.2M20.5 38.6L21.6 41.5M24.5 38.3L23.8 39.4M21.9 36.0L21.2 38.2M27.2 40.4L23.8 39.7M25.8 42.1L23.8 39.8M19.7 38.6L20.5 38.6M38.3 41.3L38.5 40.0M38.5 40.0L40.1 39.3M40.1 39.3L41.6 40.1M37.3 39.2L38.5 40.0M35.2 10.5L32.3 10.1M32.4 12.4L31.7 10.7M32.3 10.1L31.7 10.7M28.8 12.3L31.1 10.7M31.7 10.7L31.1 10.7M29.0 -1.5L31.1 -0.4M31.6 -0.4L31.1 -0.4M35.2 0.1L32.7 1.7M31.6 -0.4L32.7 1.7M33.7 4.3L33.1 4.3M33.7 4.3L36.4 3.1M33.1 4.3L32.4 2.4M36.4 3.1L36.4 2.7M36.4 2.7L32.7 1.7M32.4 2.4L32.7 1.7M37.7 4.8L38.3 4.8M37.7 4.8L36.4 3.1M39.8 2.6L39.8 3.2M36.5 2.3L36.4 2.7M38.3 4.8L39.8 3.2M32.7 1.7L32.7 1.7M31.1 -0.4L29.7 0.7M29.7 0.7L29.3 2.5M29.3 2.5L29.6 2.8M29.6 2.8L32.4 2.4M-0.2 8.4L0.0 8.0M-0.0 38.8L1.9 36.2M-0.0 38.8L-1.0 36.8M-1.0 36.8L0.5 35.2M0.5 35.2L1.2 35.3M1.2 35.3L1.9 36.2M3.3 37.3L1.9 40.1M3.3 37.3L1.9 36.2M1.9 40.1L1.6 40.1M0.1 39.3L1.6 40.1M0.1 39.3L-0.0 38.8M-0.7 32.4L-0.0 34.4M0.5 35.2L-0.0 34.4M-0.1 31.6L-0.7 32.4M3.0 33.5L1.2 35.3M0.1 39.3L-1.5 40.0M-0.2 27.5L-1.1 27.3M15.2 5.0L15.0 5.2M14.2 3.1L12.5 3.6M12.5 3.6L12.4 4.8M15.0 5.2L12.4 4.8M11.7 2.4L9.6 2.4M11.7 2.4L12.5 3.6M10.9 5.7L12.2 5.1M12.2 5.1L12.4 4.8M9.1 0.3L12.6 0.0M11.7 2.4L12.8 0.3M14.8 2.4L14.5 0.8M14.5 0.8L12.8 0.3M12.8 0.3L12.6 0.0M10.5 7.4L10.9 7.9M8.2 9.9L7.6 9.2M8.2 9.9L10.6 10.0M10.6 10.0L10.9 7.9M23.6 5.0L24.8 3.6M21.6 1.5L22.6 1.1M22.6 1.1L24.8 3.6M8.2 9.9L8.4 11.8M8.4 11.8L7.7 12.3M7.7 12.3L5.5 11.3M7.3 9.2L5.3 10.6M5.3 10.6L5.5 11.3M5.2 7.0L3.7 9.9M5.3 10.6L3.7 9.9M-0.2 8.4L-0.2 8.6M-0.2 8.6L3.5 10.0M2.5 7.5L3.6 9.9M3.5 10.0L3.6 9.9M3.6 9.9L3.7 9.9M-0.7 9.4L0.4 12.2M-0.2 12.9L0.4 12.2M-0.2 8.6L-0.7 9.4M3.5 10.0L2.1 11.9M2.1 11.9L0.4 12.2M0.3 15.0L-0.4 15.8M0.3 15.0L-0.2 12.9M0.8 24.7L-1.1 22.3M0.2 25.6L-1.7 24.1M9.1 16.7L9.4 17.3M9.1 16.7L8.0 15.9M8.0 15.9L7.1 18.4M9.4 17.3L9.3 19.8M7.1 18.4L9.3 19.8M9.3 19.8L9.3 19.8M6.4 14.9L7.3 14.9M6.4 14.9L5.0 18.0M5.0 18.0L5.5 18.6M5.5 18.6L7.1 18.4M7.6 15.1L7.3 14.9M7.6 15.1L8.0 15.9M5.5 18.6L5.4 19.6M7.9 20.5L5.4 19.6M7.9 20.5L9.3 19.8M11.7 19.5L11.2 19.9M11.7 19.5L12.4 17.1M12.4 17.1L12.2 16.8M12.2 16.8L9.4 17.3M9.3 19.8L9.8 20.1M9.8 20.1L11.2 19.9M20.4 16.3L19.3 15.7M20.4 16.3L21.8 14.3M19.3 15.7L21.0 13.2M21.8 14.3L21.0 13.2M20.7 12.5L21.0 13.2M18.4 13.8L18.2 15.3M18.2 15.3L18.3 15.4M18.3 15.4L19.3 15.7M23.0 14.7L21.8 14.3M22.0 17.7L21.1 17.2M20.4 16.3L20.5 16.4M20.5 16.4L21.1 17.2M7.0 21.9L5.0 22.1M7.0 21.9L8.0 23.0M5.8 24.3L4.9 22.5M5.8 24.3L8.1 24.1M4.9 22.5L5.0 22.1M8.1 24.1L8.0 23.0M7.9 20.5L7.0 21.9M5.4 19.6L4.7 21.1M4.7 21.1L5.0 22.1M9.8 20.1L9.7 21.4M9.7 21.4L8.0 23.0M5.1 26.3L5.8 24.3M2.4 23.8L4.9 22.5M2.4 23.8L2.3 23.9M2.4 40.5L1.9 40.1M8.7 39.8L8.7 39.8M2.4 40.5L5.2 40.6M9.9 32.6L10.4 33.1M9.9 32.6L8.0 33.0M10.4 33.1L9.2 34.8M8.0 33.0L7.8 34.4M7.8 34.4L9.2 34.8M9.6 35.2L9.2 34.8M12.6 33.5L10.4 33.1M12.6 33.5L12.9 34.7M7.7 34.5L5.8 33.9M7.7 34.5L7.8 34.4M7.4 31.6L8.0 33.0M7.4 31.6L5.8 32.1M7.7 34.5L7.0 36.6M9.5 37.5L7.0 36.6M36.1 25.3L37.4 25.6M34.9 27.8L38.7 27.2M37.4 25.6L38.7 27.2M39.9 27.6L39.5 30.3M39.9 27.6L39.8 27.5M36.4 29.9L38.9 27.3M39.8 27.5L38.9 27.3M35.0 29.9L36.0 30.0M38.9 27.3L38.7 27.2M34.8 31.3L35.7 33.6M38.2 32.5L37.2 33.2M37.2 33.2L35.7 33.6M33.3 34.7L35.1 34.6M35.7 33.6L35.1 34.6M36.0 36.8L35.4 35.1M35.4 35.1L35.1 34.6M39.3 32.4L40.0 34.4M37.2 33.2L37.8 34.9M40.0 34.4L37.8 34.9M37.1 37.2L37.8 36.8M35.4 35.1L37.8 35.0M37.8 36.8L37.8 35.0M37.8 35.0L37.8 34.9M34.4 7.9L36.6 7.4M34.4 7.9L34.1 7.7M34.1 7.7L35.2 5.8M35.2 5.8L36.9 5.8M36.9 5.8L36.9 6.8M36.9 6.8L36.6 7.4M35.3 10.4L34.4 7.9M37.1 9.8L36.7 10.2M37.1 9.8L36.6 7.4M32.3 10.1L32.5 7.4M32.5 7.4L34.1 7.7M37.7 4.8L36.9 5.8M33.7 4.3L35.2 5.8M39.8 8.4L36.9 6.8M39.8 8.4L39.8 8.6M37.1 9.8L39.3 9.4M39.8 8.6L39.3 9.4M32.5 7.4L32.1 7.0M33.1 4.3L32.6 5.1M32.6 5.1L32.1 7.0M29.6 2.8L29.5 4.4M32.6 5.1L29.5 4.4M41.6 7.2L40.0 8.0M41.9 5.1L39.3 5.8M40.0 8.0L39.3 5.8M39.8 8.4L40.0 8.0M38.3 4.8L39.3 5.8M13.7 8.0L15.2 9.8M13.7 8.0L13.9 7.5M13.9 7.5L14.7 6.9M14.7 6.9L17.0 7.5M17.0 7.5L16.5 9.4M16.5 9.4L15.2 9.8M12.2 5.1L13.9 7.5M10.9 7.9L13.0 8.3M13.0 8.3L13.7 8.0M15.0 5.2L14.7 6.9M17.4 7.2L17.0 7.5M18.1 10.6L16.5 9.4M15.3 0.4L14.7 -2.0M15.3 0.4L16.9 0.1M16.9 0.1L16.9 0.1M16.9 0.1L16.7 -2.0M14.5 0.8L15.3 0.4M17.0 2.6L16.9 0.1M18.5 0.1L16.9 0.1M29.7 0.7L27.6 -0.7M27.6 -0.9L27.6 -0.7M5.5 14.5L5.2 12.7M5.5 14.5L3.3 14.9M5.2 12.7L2.6 12.5M3.3 14.9L2.6 12.5M7.7 12.3L7.3 14.9M6.4 14.9L5.5 14.5M5.5 11.3L5.2 12.7M2.5 15.7L2.8 17.5M2.5 15.7L3.3 14.9M2.8 17.5L5.0 18.0M2.1 11.9L2.6 12.5M2.5 15.7L0.3 15.0M-2.4 20.6L0.5 19.8M0.5 19.8L-0.9 17.9M2.8 17.5L2.6 17.8M-0.4 15.8L-0.7 17.7M2.6 17.8L-0.7 17.7M-0.7 17.7L-0.9 17.9M7.6 15.1L10.1 14.1M9.1 16.7L11.2 15.1M10.1 14.1L11.2 15.1M12.2 16.8L12.2 15.6M11.2 15.1L12.2 15.6M12.4 10.9L11.0 10.7M12.4 10.9L12.4 10.9M12.4 10.9L12.2 12.9M11.0 10.7L10.0 12.2M12.2 12.9L10.3 13.1M10.0 12.2L10.3 13.1M10.6 10.0L11.0 10.7M13.0 8.3L12.4 10.9M14.6 11.3L12.4 10.9M14.6 11.3L15.2 9.8M8.4 11.8L10.0 12.2M10.1 14.1L10.3 13.1M15.4 14.8L13.1 14.6M15.4 14.8L15.9 12.6M15.9 12.6L14.7 11.7M14.7 11.7L13.0 13.7M13.1 14.6L13.0 13.7M17.1 12.4L15.9 12.6M18.2 15.3L15.8 15.4M15.8 15.4L15.4 14.8M14.6 11.3L14.7 11.7M12.2 12.9L13.0 13.7M12.2 15.6L13.1 14.6M11.2 19.9L12.8 23.3M9.7 21.4L10.5 23.0M10.5 23.0L12.7 23.4M12.8 23.3L12.7 23.4M22.0 28.2L20.3 25.8M22.5 24.4L20.4 25.0M20.3 25.8L20.4 25.0M22.3 22.1L19.3 22.9M19.3 22.9L19.8 24.5M20.4 25.0L19.8 24.5M20.7 32.6L17.1 31.6M18.5 34.7L17.0 31.8M17.1 31.6L17.0 31.8M15.2 34.9L16.4 32.0M17.0 31.8L16.4 32.0M11.7 19.5L14.7 20.5M12.8 23.3L14.8 21.1M14.7 20.5L14.8 21.1M5.4 40.2L7.0 39.3M5.4 40.2L4.2 37.1M7.0 39.3L6.5 36.9M6.5 36.9L4.6 36.7M4.6 36.7L4.2 37.1M8.7 39.8L7.0 39.3M5.2 40.6L5.4 40.2M3.3 37.3L4.2 37.1M7.0 36.6L6.5 36.9M4.6 35.1L4.6 36.7M34.6 20.7L37.6 20.8M35.8 23.5L38.0 22.1M37.6 20.8L38.0 22.1M36.9 18.1L37.5 18.5M37.6 20.8L37.6 20.6M37.5 18.5L37.6 20.6M40.3 15.0L39.8 12.9M39.8 12.9L40.4 12.2M37.6 15.4L39.6 15.8M37.9 13.0L39.8 12.9M39.6 15.8L40.3 15.0M39.3 9.4L40.4 12.2M38.3 24.1L40.2 25.6M38.3 24.1L38.2 22.2M38.2 22.2L38.9 22.3M38.9 22.3L40.8 24.7M40.8 24.7L40.2 25.6M37.4 25.6L38.3 24.1M39.8 27.5L40.2 25.6M38.0 22.1L38.2 22.2M40.9 27.7L39.9 27.6M38.9 22.2L38.9 22.3M38.9 22.2L41.5 22.1M39.9 31.6L40.4 31.6M40.0 38.8L39.0 36.8M40.0 38.8L41.9 36.2M39.0 36.8L40.5 35.2M40.5 35.2L41.2 35.3M40.1 39.3L40.0 38.8M37.8 36.8L39.0 36.8M40.0 34.4L40.5 35.2M31.1 10.7L29.7 8.8M32.1 7.0L30.6 7.3M30.6 7.3L29.7 8.8M27.4 9.7L27.7 9.4M27.7 9.4L29.7 8.8M23.8 -0.2L25.8 2.1M23.8 -0.2L23.8 -0.3M23.8 -0.3L27.2 0.4M25.8 2.1L27.1 1.0M27.1 1.0L27.2 0.4M22.6 1.1L23.8 -0.2M24.8 3.6L25.4 3.3M25.4 3.3L25.8 2.1M23.8 -0.6L23.8 -0.3M28.9 2.4L26.5 3.9M28.9 2.4L27.1 1.0M26.5 3.9L25.4 3.3M29.3 2.5L28.9 2.4M27.6 -0.7L27.2 0.4M0.6 19.8L2.0 20.1M0.6 19.8L-1.1 22.2M1.5 22.1L2.1 20.3M1.5 22.1L-1.1 22.2M2.1 20.3L2.0 20.1M0.5 19.8L0.6 19.8M2.6 17.8L2.0 20.1M2.4 23.8L1.5 22.1M4.7 21.1L2.1 20.3M15.5 26.0L16.7 25.4M15.5 26.0L13.5 24.5M13.5 24.5L16.3 23.6M16.3 23.6L16.8 25.1M16.7 25.4L16.8 25.1M14.8 27.9L14.5 28.2M14.8 27.9L15.5 26.0M12.6 26.7L13.1 24.4M12.6 26.7L14.2 28.1M13.1 24.4L13.5 24.5M14.2 28.1L14.5 28.2M12.7 23.4L12.9 24.1M13.1 24.4L12.9 24.1M16.6 22.6L14.8 21.1M16.6 22.6L16.3 23.6M5.2 26.6L7.2 26.6M8.1 24.1L8.4 24.4M7.2 26.6L8.4 24.4M10.5 23.0L9.2 24.6M12.9 24.1L9.8 25.5M9.8 25.5L9.2 24.6M8.4 24.4L9.2 24.6M19.3 26.7L17.6 26.8M19.3 26.7L19.3 29.6M17.6 26.8L17.0 27.9M17.0 27.9L18.2 29.9M19.3 29.6L18.2 29.9M20.3 25.8L19.3 26.7M19.8 24.5L16.8 25.1M16.7 25.4L17.6 26.8M19.3 29.6L19.3 29.6M14.8 27.9L17.0 27.9M17.3 30.9L14.6 29.0M17.3 30.9L18.2 29.9M14.5 28.2L14.6 29.0M17.3 30.9L17.1 31.6M10.8 29.9L11.7 29.8M10.8 29.9L12.7 33.0M11.7 29.8L13.9 30.6M12.7 33.0L14.0 31.8M14.0 31.8L13.9 30.6M14.2 28.1L11.7 29.8M14.6 29.0L13.9 30.6M12.6 33.5L12.7 33.0M16.4 32.0L14.0 31.8M21.8 20.1L19.8 20.4M21.1 17.2L18.7 19.2M18.7 19.2L19.8 20.4M19.3 22.9L19.0 22.5M19.8 20.4L19.0 22.5M16.6 22.6L17.0 22.4M19.0 22.5L17.0 22.4M40.6 19.8L40.5 19.8M40.5 19.8L39.1 17.9M42.6 17.8L39.3 17.7M39.3 17.7L39.1 17.9M38.9 22.2L40.6 19.8M37.6 20.6L40.5 19.8M37.5 18.5L39.1 17.9M39.6 15.8L39.3 17.7M29.1 5.0L30.0 6.8M29.1 5.0L27.5 5.2M30.0 6.8L27.7 7.3M27.5 5.2L27.0 6.3M27.0 6.3L27.7 7.3M29.5 4.4L29.1 5.0M30.6 7.3L30.0 6.8M26.5 3.9L27.5 5.2M27.7 9.4L27.7 7.3M24.7 6.9L27.0 6.3M8.3 27.5L10.2 27.0M8.3 27.5L7.6 29.8M10.7 27.4L10.2 27.0M10.7 27.4L10.8 29.9M7.6 29.8L7.9 30.3M7.9 30.3L9.9 30.4M9.9 30.4L10.8 29.9M7.2 26.6L8.3 27.5M9.8 25.5L10.2 27.0M5.0 28.9L7.6 29.8M12.6 26.7L10.7 27.4M10.8 29.9L10.8 29.9M7.4 31.6L7.9 30.3M9.9 32.6L9.9 30.4M17.8 19.3L18.3 19.0M17.8 19.3L15.2 19.7M18.0 18.0L15.4 17.0M18.0 18.0L18.2 18.5M18.2 18.5L18.3 19.0M15.2 19.7L14.8 17.6M14.8 17.6L15.4 17.0M18.7 19.2L18.3 19.0M17.0 22.4L17.8 19.3M14.7 20.5L15.2 19.7M18.3 15.4L18.0 18.0M15.8 15.4L15.4 17.0M20.5 16.4L18.2 18.5M12.4 17.1L14.8 17.6" fill="none" stroke="#5aae6c" stroke-width="0.6"/></pattern>
<pattern id="pG2" width="36" height="36" patternUnits="userSpaceOnUse" patternTransform="scale(1.6 0.7) rotate(-25)"><path d="M1.8 7.5L1.0 4.0M1.8 7.5L1.6 7.7M1.6 7.7L1.1 10.9M1.1 10.9L0.3 11.4M29.8 26.8L26.6 28.3M29.8 26.8L30.7 25.5M26.6 28.3L26.5 28.3M26.5 28.3L26.3 23.0M26.3 23.0L27.9 21.7M27.9 21.7L30.7 25.5M5.5 9.3L9.5 7.5M5.5 9.3L3.4 7.7M3.4 7.7L5.9 3.4M9.5 7.5L9.4 5.1M9.4 5.1L8.3 3.5M8.3 3.5L5.9 3.4M14.1 7.3L14.7 5.6M14.1 7.3L13.2 8.1M13.1 3.6L14.7 5.6M13.1 3.6L9.4 5.1M13.2 8.1L10.3 8.2M10.3 8.2L9.5 7.5M1.0 3.8L3.9 1.9M1.0 3.8L-0.3 0.4M-0.3 0.4L1.8 -1.1M1.8 -1.1L3.8 1.2M3.8 1.2L3.9 1.9M1.8 7.5L3.4 7.7M1.0 4.0L1.0 3.8M5.9 3.4L3.9 1.9M35.7 36.4L37.8 34.9M34.3 31.1L35.4 28.5M34.3 31.1L32.7 32.0M29.8 26.8L32.7 32.0M30.7 25.5L30.9 25.4M30.9 25.4L35.2 28.1M35.2 28.1L35.4 28.5M26.6 28.3L29.1 32.3M32.7 32.0L32.1 32.7M32.1 32.7L29.1 32.3M34.3 31.1L37.8 33.2M35.7 36.4L32.3 36.1M32.1 32.7L32.3 36.1M16.1 33.0L19.1 35.7M16.1 33.0L14.6 33.0M19.1 35.7L18.0 37.9M14.1 37.5L14.6 33.0M14.8 10.9L12.7 12.2M14.8 10.9L18.1 11.7M12.7 12.2L14.5 15.1M14.5 15.1L17.7 13.6M18.1 11.7L17.7 13.6M13.2 8.1L14.8 10.9M10.3 8.2L10.8 12.1M10.8 12.1L12.7 12.2M16.3 20.4L14.7 19.8M16.3 20.4L18.1 14.3M13.9 16.0L14.5 15.1M13.9 16.0L14.6 19.8M18.1 14.3L17.7 13.6M14.6 19.8L14.7 19.8M14.1 7.3L18.8 9.1M14.7 5.6L18.1 4.7M18.1 4.7L18.9 8.7M18.8 9.1L18.9 8.7M18.1 11.7L18.7 11.0M18.8 9.1L18.7 11.0M18.1 4.7L18.5 3.8M18.5 3.8L21.9 4.3M18.9 8.7L23.1 6.7M21.9 4.3L23.1 6.7M18.7 11.0L22.2 11.7M23.7 7.0L23.1 6.7M23.7 7.0L22.8 11.2M22.8 11.2L22.2 11.7M32.3 36.1L32.0 36.7M21.0 30.9L16.5 32.4M21.0 30.9L22.0 28.5M21.8 28.2L22.0 28.5M21.8 28.2L17.7 28.2M17.7 28.2L16.5 32.4M16.1 33.0L16.5 32.4M20.5 35.1L19.1 35.7M20.5 35.1L21.0 30.9M26.5 28.3L23.4 28.9M26.3 23.0L24.1 23.4M23.4 28.9L22.0 28.5M21.8 26.8L24.1 23.4M21.8 26.8L21.8 28.2M16.5 27.6L16.0 24.3M16.5 27.6L17.7 28.2M17.4 21.3L16.0 24.3M17.4 21.3L18.4 21.3M21.8 26.8L18.4 21.3M16.5 27.6L14.2 28.4M14.2 28.4L13.5 32.4M14.6 33.0L13.5 32.4M13.5 32.4L10.6 32.8M10.6 32.8L9.8 35.6M13.8 37.6L9.8 35.6M0.2 15.3L-1.9 15.2M0.2 15.3L0.3 11.4M27.9 21.7L28.2 19.7M30.9 25.4L33.5 22.9M33.5 22.9L31.8 19.3M31.8 19.3L28.2 19.7M35.2 28.1L36.8 23.5M33.5 22.9L36.7 23.4M36.8 23.5L36.7 23.4M23.8 0.2L20.5 -0.9M23.8 0.2L25.6 -1.2M27.8 3.2L31.1 6.7M27.8 3.2L25.9 3.6M25.9 3.6L25.4 6.9M31.1 6.7L31.0 7.0M31.0 7.0L27.1 8.0M27.1 8.0L25.4 6.9M23.8 0.2L23.9 1.6M28.6 1.1L25.9 -1.2M28.6 1.1L27.8 3.2M23.9 1.6L25.9 3.6M23.9 1.6L21.9 4.3M23.7 7.0L25.4 6.9M26.6 10.5L22.8 11.2M26.6 10.5L27.1 8.0M23.6 14.4L26.8 15.5M23.6 14.4L20.8 16.7M20.8 16.7L21.0 19.6M27.0 18.3L26.8 15.5M27.0 18.3L21.6 19.8M21.0 19.6L21.6 19.8M18.1 14.3L20.8 16.7M22.2 11.7L23.6 14.4M16.3 20.4L17.4 21.3M18.4 21.3L21.0 19.6M24.1 23.4L21.6 19.8M28.2 19.7L27.0 18.3M28.6 37.1L25.9 34.8M25.6 34.8L23.8 36.2M25.6 34.8L25.9 34.8M23.8 36.2L23.9 37.6M32.0 36.7L28.6 37.1M29.1 32.3L25.9 34.8M23.4 28.9L25.6 34.8M20.5 35.1L23.8 36.2M3.8 37.2L6.0 35.0M6.0 35.0L9.3 36.0M1.8 34.9L-0.3 36.4M1.8 34.9L3.8 37.2M9.8 35.6L9.3 36.0M10.6 32.8L10.4 32.6M6.0 35.0L5.2 32.3M10.4 32.6L5.2 32.3M0.2 15.3L0.8 15.5M0.1 19.8L0.8 15.5M6.2 23.9L8.2 21.5M6.2 23.9L9.1 27.9M8.2 21.5L11.6 23.2M11.3 26.9L9.1 27.9M11.3 26.9L12.0 24.8M12.0 24.8L11.6 23.2M4.4 24.0L4.0 23.8M4.4 24.0L6.2 23.9M8.2 21.4L4.0 18.1M8.2 21.4L8.2 21.5M4.0 18.1L3.7 18.7M4.0 23.8L3.7 18.7M14.6 19.8L9.5 18.8M14.7 19.8L11.6 23.2M9.5 18.8L8.2 21.4M14.2 28.4L11.3 26.9M9.0 28.1L10.4 32.6M9.0 28.1L9.1 27.9M16.0 24.3L12.0 24.8M-1.7 31.1L1.8 33.2M-0.6 28.5L3.4 28.6M1.8 33.2L4.6 31.8M3.4 28.6L4.8 30.2M4.6 31.8L4.8 30.2M1.8 34.9L1.8 33.2M5.2 32.3L4.6 31.8M4.4 24.0L3.4 28.6M9.0 28.1L4.8 30.2M-0.8 28.1L0.8 23.5M0.8 23.5L0.7 23.4M0.7 23.4L-2.5 22.9M4.0 23.8L0.8 23.5M-0.6 28.5L-0.8 28.1M0.5 20.4L3.7 18.7M0.5 20.4L0.7 23.4M0.1 19.8L0.5 20.4M26.6 10.5L27.9 13.8M31.0 7.0L32.3 8.5M32.4 11.3L32.3 8.5M32.4 11.3L32.2 12.1M32.2 12.1L27.9 13.8M26.8 15.5L27.5 14.5M27.9 13.8L27.5 14.5M32.4 11.3L36.3 11.4M36.3 11.4L36.2 15.3M32.2 12.1L34.1 15.2M36.2 15.3L34.1 15.2M27.5 14.5L33.0 16.8M34.1 15.2L33.0 16.8M31.8 19.3L32.3 18.9M32.3 18.9L33.0 16.8M18.5 3.8L18.0 1.9M20.5 -0.9L19.1 -0.3M18.0 1.9L19.1 -0.3M9.4 15.2L9.2 14.3M9.4 15.2L9.0 16.6M9.0 16.6L4.0 17.6M9.2 14.3L5.5 12.4M5.5 12.4L3.7 13.6M3.7 13.6L2.6 15.4M2.6 15.4L4.0 17.6M13.9 16.0L9.4 15.2M10.8 12.1L9.2 14.3M9.5 18.8L9.0 16.6M4.0 18.1L4.0 17.6M5.5 9.3L5.5 12.4M1.1 10.9L3.7 13.6M0.8 15.5L2.6 15.4M32.3 8.5L37.6 7.7M36.3 11.4L37.1 10.9M36.7 23.4L36.5 20.4M32.3 18.9L36.1 19.8M36.5 20.4L36.1 19.8M36.2 15.3L36.8 15.5M36.1 19.8L36.8 15.5M18.0 1.9L14.1 1.5M14.6 -3.0L14.1 1.5M13.1 3.6L13.8 1.6M13.8 1.6L14.1 1.5M6.0 -1.0L9.3 0.0M9.3 0.0L9.8 -0.4M8.3 3.5L9.3 0.0M3.8 1.2L6.0 -1.0M13.8 1.6L9.8 -0.4M35.7 0.4L37.0 3.8M35.7 0.4L32.3 0.1M32.5 3.8L37.0 4.0M32.5 3.8L32.0 0.7M37.0 4.0L37.0 3.8M32.0 0.7L32.3 0.1M31.1 6.7L32.5 3.8M28.6 1.1L32.0 0.7M35.7 0.4L37.8 -1.1" fill="none" stroke="#64b874" stroke-width="0.6"/></pattern>
<clipPath id="cp00"><rect x="82" y="28" width="103" height="76"/></clipPath>
<clipPath id="ci00"><rect x="149.3" y="78" width="35.7" height="26"/></clipPath>
<clipPath id="cp01"><rect x="187" y="28" width="103" height="76"/></clipPath>
<clipPath id="ci01"><rect x="254.3" y="78" width="35.7" height="26"/></clipPath>
<clipPath id="cp02"><rect x="292" y="28" width="103" height="76"/></clipPath>
<clipPath id="ci02"><rect x="359.3" y="78" width="35.7" height="26"/></clipPath>
<clipPath id="cp03"><rect x="397" y="28" width="103" height="76"/></clipPath>
<clipPath id="ci03"><rect x="464.3" y="78" width="35.7" height="26"/></clipPath>
<clipPath id="cp04"><rect x="502" y="28" width="103" height="76"/></clipPath>
<clipPath id="ci04"><rect x="569.3" y="78" width="35.7" height="26"/></clipPath>
<clipPath id="cp10"><rect x="82" y="107" width="103" height="76"/></clipPath>
<clipPath id="ci10"><rect x="149.3" y="157" width="35.7" height="26"/></clipPath>
<clipPath id="cp11"><rect x="187" y="107" width="103" height="76"/></clipPath>
<clipPath id="ci11"><rect x="254.3" y="157" width="35.7" height="26"/></clipPath>
<clipPath id="cp12"><rect x="292" y="107" width="103" height="76"/></clipPath>
<clipPath id="ci12"><rect x="359.3" y="157" width="35.7" height="26"/></clipPath>
<clipPath id="cp13"><rect x="397" y="107" width="103" height="76"/></clipPath>
<clipPath id="ci13"><rect x="464.3" y="157" width="35.7" height="26"/></clipPath>
<clipPath id="cp14"><rect x="502" y="107" width="103" height="76"/></clipPath>
<clipPath id="ci14"><rect x="569.3" y="157" width="35.7" height="26"/></clipPath>
<clipPath id="cp20"><rect x="82" y="185.5" width="103" height="76"/></clipPath>
<clipPath id="ci20"><rect x="149.3" y="235.5" width="35.7" height="26"/></clipPath>
<clipPath id="cp21"><rect x="187" y="185.5" width="103" height="76"/></clipPath>
<clipPath id="ci21"><rect x="254.3" y="235.5" width="35.7" height="26"/></clipPath>
<clipPath id="cp22"><rect x="292" y="185.5" width="103" height="76"/></clipPath>
<clipPath id="ci22"><rect x="359.3" y="235.5" width="35.7" height="26"/></clipPath>
<clipPath id="cp23"><rect x="397" y="185.5" width="103" height="76"/></clipPath>
<clipPath id="ci23"><rect x="464.3" y="235.5" width="35.7" height="26"/></clipPath>
<clipPath id="cp24"><rect x="502" y="185.5" width="103" height="76"/></clipPath>
<clipPath id="ci24"><rect x="569.3" y="235.5" width="35.7" height="26"/></clipPath>
</defs>
<g clip-path="url(#cp00)">
<rect x="82" y="28" width="103" height="76" fill="#ac57aa"/>
<rect x="82" y="28" width="103" height="76" filter="url(#grain)" opacity="0.22"/>
<rect x="82" y="28" width="103" height="76" filter="url(#mott)" opacity="0.22"/>
<rect x="82" y="28" width="103" height="76" filter="url(#speck)" opacity="0.15"/>
<g transform="translate(82 28)" fill="none" stroke="#f8eaf8" stroke-linecap="round">
<path d="M51.3 21.2Q52.9 23.1 54.5 25.2" stroke-width="0.99" opacity="0.48"/>
<path d="M33.4 50.7Q34.0 51.8 35.1 52.4" stroke-width="0.99" opacity="0.58"/>
<path d="M20.7 72.0Q21.0 73.8 21.6 75.5" stroke-width="0.82" opacity="0.82"/>
<path d="M97.3 51.9Q96.9 55.0 97.4 58.0" stroke-width="0.72" opacity="0.54"/>
<path d="M28.4 69.0Q29.7 71.6 32.5 72.6" stroke-width="0.64" opacity="0.73"/>
<path d="M47.5 21.4Q48.1 22.8 48.4 24.3" stroke-width="0.81" opacity="0.73"/>
<path d="M83.1 63.4Q82.7 65.9 82.2 68.5" stroke-width="0.94" opacity="0.78"/>
<path d="M82.9 11.0Q84.7 12.9 84.6 15.6" stroke-width="0.68" opacity="0.66"/>
<circle cx="5.6" cy="5.6" r="0.9" fill="#fbf0fb" stroke="none" opacity="0.9"/>
<circle cx="43.2" cy="69.6" r="1.0" fill="#fbf0fb" stroke="none" opacity="0.9"/>
</g>
</g>
<rect x="116.2" y="39.8" width="16.4" height="10.7" fill="none" stroke="#e8e0e8" stroke-width="0.7" stroke-dasharray="1.4 1.1" opacity="0.75"/>
<path d="M149.3 104 V78 H185" fill="none" stroke="#e8e0e8" stroke-width="0.7" stroke-dasharray="1.4 1.1" opacity="0.75"/>
<rect x="88.8" y="97.6" width="9.6" height="1.5" fill="#ffffff" opacity="0.85"/>
<rect x="82.3" y="28.3" width="102.4" height="75.4" fill="none" stroke="#777" stroke-opacity="0.35" stroke-width="0.6"/>
<g clip-path="url(#cp01)">
<rect x="187" y="28" width="103" height="76" fill="#ab5db5"/>
<rect x="187" y="28" width="103" height="76" filter="url(#grain)" opacity="0.22"/>
<rect x="187" y="28" width="103" height="76" filter="url(#mott)" opacity="0.22"/>
<rect x="187" y="28" width="103" height="76" filter="url(#speck)" opacity="0.15"/>
<g transform="translate(187 28)" fill="none" stroke="#f8eaf8" stroke-linecap="round">
<path d="M26.1 38.2Q27.4 39.1 28.1 40.6" stroke-width="0.78" opacity="0.82"/>
<path d="M41.3 71.7Q44.1 74.0 47.4 75.5" stroke-width="0.79" opacity="0.59"/>
<path d="M100.7 31.1Q105.0 33.4 106.0 38.2" stroke-width="0.63" opacity="0.64"/>
<path d="M82.6 14.8Q85.3 16.7 88.6 16.9" stroke-width="0.96" opacity="0.75"/>
<path d="M21.1 56.7Q22.8 58.7 24.3 60.7" stroke-width="0.95" opacity="0.84"/>
<path d="M83.6 61.5Q87.5 62.7 89.9 65.9" stroke-width="0.99" opacity="0.64"/>
<path d="M3.6 33.3Q5.9 34.7 8.5 34.0" stroke-width="0.56" opacity="0.81"/>
<path d="M56.4 14.9Q58.8 15.0 60.5 16.8" stroke-width="0.88" opacity="0.71"/>
<path d="M99.2 61.8Q99.5 65.8 102.7 68.4" stroke-width="0.82" opacity="0.67"/>
<path d="M53.8 60.6Q55.4 64.8 59.1 67.2" stroke-width="0.51" opacity="0.62"/>
<path d="M10.6 44.1Q12.6 46.7 15.7 47.4" stroke-width="0.61" opacity="0.74"/>
<path d="M60.1 17.3Q64.5 17.0 68.9 17.0" stroke-width="0.77" opacity="0.69"/>
<path d="M99.2 41.7Q103.2 42.7 107.2 43.8" stroke-width="0.57" opacity="0.71"/>
<path d="M43.8 58.5Q44.8 59.7 46.3 59.7" stroke-width="0.51" opacity="0.71"/>
<path d="M69.1 54.3Q71.0 56.9 74.2 57.1" stroke-width="0.64" opacity="0.73"/>
<path d="M68.2 54.4Q70.9 55.0 73.5 54.0" stroke-width="0.64" opacity="0.76"/>
<path d="M99.7 57.9Q101.4 59.7 102.6 61.8" stroke-width="0.66" opacity="0.68"/>
<path d="M66.7 51.4Q69.1 53.2 72.1 53.6" stroke-width="0.66" opacity="0.69"/>
<path d="M2.5 11.4Q6.6 11.7 10.5 12.7" stroke-width="0.53" opacity="0.76"/>
<path d="M34.5 5.5Q35.1 7.5 36.6 8.9" stroke-width="0.50" opacity="0.83"/>
<path d="M9.2 36.9Q11.8 38.3 13.0 41.1" stroke-width="0.91" opacity="0.56"/>
<path d="M75.1 68.7Q78.2 68.9 81.2 68.1" stroke-width="0.72" opacity="0.74"/>
<path d="M79.7 9.7Q81.2 12.6 84.3 13.5" stroke-width="0.81" opacity="0.70"/>
<path d="M78.1 13.5Q81.1 16.2 84.7 18.0" stroke-width="0.58" opacity="0.66"/>
<path d="M42.5 16.8Q45.3 20.1 47.8 23.6" stroke-width="0.54" opacity="0.84"/>
<path d="M13.7 38.5Q15.1 41.2 17.2 43.3" stroke-width="0.80" opacity="0.66"/>
<path d="M98.9 61.0Q99.6 63.4 101.8 64.4" stroke-width="0.74" opacity="0.48"/>
<path d="M8.6 71.7Q10.2 72.6 10.9 74.3" stroke-width="0.61" opacity="0.51"/>
<path d="M82.7 8.6Q84.4 10.7 86.1 12.7" stroke-width="0.50" opacity="0.46"/>
<path d="M84.3 23.6Q85.2 24.6 86.5 24.9" stroke-width="0.65" opacity="0.50"/>
<path d="M20.4 36.1Q24.1 37.1 27.8 36.1" stroke-width="0.84" opacity="0.67"/>
<path d="M39.9 4.3Q42.3 5.8 45.0 6.4" stroke-width="0.53" opacity="0.52"/>
<path d="M3.9 37.0Q4.9 37.6 5.9 38.3" stroke-width="0.67" opacity="0.53"/>
<path d="M93.2 36.6Q94.1 37.7 95.4 38.1" stroke-width="0.74" opacity="0.81"/>
<path d="M85.0 51.0Q86.0 51.4 87.0 51.8" stroke-width="0.58" opacity="0.65"/>
<path d="M68.1 56.2Q71.2 58.3 73.3 61.4" stroke-width="0.81" opacity="0.65"/>
<path d="M77.1 10.8Q78.0 12.1 79.4 13.0" stroke-width="0.61" opacity="0.76"/>
<path d="M78.8 48.6Q81.4 47.8 84.1 48.4" stroke-width="0.88" opacity="0.82"/>
<path d="M18.3 4.6Q20.0 6.2 20.6 8.5" stroke-width="0.97" opacity="0.76"/>
<path d="M85.2 73.3Q88.5 73.6 91.8 74.3" stroke-width="0.70" opacity="0.72"/>
<path d="M37.0 54.7Q38.1 54.5 39.2 55.0" stroke-width="0.59" opacity="0.75"/>
<path d="M88.7 8.8Q91.3 7.9 94.0 8.3" stroke-width="0.57" opacity="0.73"/>
<path d="M84.8 62.7Q86.8 62.9 88.4 64.2" stroke-width="0.83" opacity="0.54"/>
<path d="M77.9 35.9Q78.6 39.0 81.3 40.6" stroke-width="0.63" opacity="0.74"/>
<path d="M29.0 2.8Q33.1 2.4 36.9 3.8" stroke-width="0.86" opacity="0.79"/>
<path d="M40.5 53.5Q42.9 53.5 45.2 53.2" stroke-width="0.59" opacity="0.53"/>
<path d="M42.4 48.4Q44.1 48.8 45.9 48.9" stroke-width="0.64" opacity="0.67"/>
<path d="M68.7 24.1Q72.4 26.8 72.8 31.3" stroke-width="0.53" opacity="0.49"/>
<path d="M50.6 23.7Q52.5 26.7 54.0 30.0" stroke-width="0.64" opacity="0.54"/>
<path d="M92.2 60.7Q94.2 64.2 95.9 67.9" stroke-width="0.87" opacity="0.58"/>
<path d="M15.9 51.9Q17.8 53.2 19.8 54.3" stroke-width="0.62" opacity="0.46"/>
<path d="M75.7 56.8Q79.4 57.3 82.7 58.9" stroke-width="0.81" opacity="0.60"/>
<path d="M75.8 39.4Q78.4 41.0 79.3 44.0" stroke-width="0.61" opacity="0.66"/>
<path d="M86.5 68.1Q90.6 67.9 94.5 69.2" stroke-width="0.62" opacity="0.54"/>
<path d="M19.7 13.0Q22.1 16.5 26.3 16.9" stroke-width="0.81" opacity="0.75"/>
<path d="M94.3 41.4Q96.1 42.0 97.7 42.8" stroke-width="0.58" opacity="0.67"/>
<path d="M78.5 25.5Q79.6 25.4 80.7 25.5" stroke-width="0.60" opacity="0.64"/>
<path d="M97.9 18.7Q100.1 19.4 101.5 21.3" stroke-width="0.94" opacity="0.84"/>
<path d="M3.3 30.3Q7.1 30.2 10.9 29.7" stroke-width="0.90" opacity="0.83"/>
<path d="M21.0 68.7Q23.7 70.3 25.3 73.1" stroke-width="0.52" opacity="0.64"/>
<path d="M99.2 20.3Q101.5 24.1 103.4 28.1" stroke-width="0.73" opacity="0.83"/>
<path d="M4.5 43.7Q5.7 44.8 6.8 46.0" stroke-width="0.81" opacity="0.61"/>
<path d="M88.4 61.5Q89.5 61.8 90.2 62.6" stroke-width="0.97" opacity="0.82"/>
<path d="M80.4 50.2Q84.6 50.2 88.5 51.9" stroke-width="0.96" opacity="0.71"/>
<path d="M30.9 62.9Q34.3 64.1 37.5 62.3" stroke-width="0.87" opacity="0.74"/>
<path d="M10.3 3.1Q11.6 3.7 12.1 5.0" stroke-width="0.64" opacity="0.58"/>
<path d="M42.6 22.2Q44.0 22.4 44.9 23.5" stroke-width="0.70" opacity="0.56"/>
<path d="M10.6 8.6Q14.2 8.6 17.7 8.5" stroke-width="0.81" opacity="0.81"/>
<path d="M62.5 58.3Q66.6 56.7 70.5 58.7" stroke-width="0.91" opacity="0.56"/>
<path d="M48.9 25.1Q50.4 25.6 51.8 26.2" stroke-width="0.91" opacity="0.54"/>
<path d="M10 46 q10 6 16 16" stroke-width="1.1" opacity="0.8"/>
<path d="M70 36 q10 10 25 14" stroke-width="1.1" opacity="0.8"/>
<circle cx="14.4" cy="44.9" r="1.0" fill="#fbf0fb" stroke="none" opacity="0.9"/>
<circle cx="43.8" cy="24.2" r="1.0" fill="#fbf0fb" stroke="none" opacity="0.9"/>
<circle cx="82.6" cy="7.1" r="0.6" fill="#fbf0fb" stroke="none" opacity="0.9"/>
<circle cx="59.9" cy="31.4" r="0.8" fill="#fbf0fb" stroke="none" opacity="0.9"/>
<circle cx="43.3" cy="12.7" r="1.0" fill="#fbf0fb" stroke="none" opacity="0.9"/>
</g>
</g>
<rect x="216" y="48" width="16" height="11" fill="none" stroke="#e8e0e8" stroke-width="0.7" stroke-dasharray="1.4 1.1" opacity="0.75"/>
<path d="M254.3 104 V78 H290" fill="none" stroke="#e8e0e8" stroke-width="0.7" stroke-dasharray="1.4 1.1" opacity="0.75"/>
<rect x="193.8" y="97.6" width="9.6" height="1.5" fill="#ffffff" opacity="0.85"/>
<rect x="187.3" y="28.3" width="102.4" height="75.4" fill="none" stroke="#777" stroke-opacity="0.35" stroke-width="0.6"/>
<g clip-path="url(#cp02)">
<rect x="292" y="28" width="103" height="76" fill="#a458b6"/>
<rect x="292" y="28" width="103" height="76" filter="url(#grain)" opacity="0.22"/>
<rect x="292" y="28" width="103" height="76" filter="url(#mott)" opacity="0.22"/>
<rect x="292" y="28" width="103" height="76" filter="url(#speck)" opacity="0.15"/>
<g transform="translate(292 28)" fill="none" stroke="#f8eaf8" stroke-linecap="round">
<path d="M98.9 5.9Q99.7 8.9 102.4 10.3" stroke-width="0.70" opacity="0.82"/>
<path d="M17.8 73.6Q19.7 74.4 21.3 75.6" stroke-width="0.82" opacity="0.46"/>
<path d="M40.3 2.8Q41.5 3.1 42.4 3.9" stroke-width="0.64" opacity="0.76"/>
<path d="M43.2 63.7Q42.4 67.2 44.5 70.1" stroke-width="0.79" opacity="0.72"/>
<path d="M89.3 41.1Q90.1 42.3 90.9 43.3" stroke-width="0.59" opacity="0.49"/>
<path d="M20.3 52.2Q21.9 54.8 23.1 57.6" stroke-width="0.51" opacity="0.45"/>
<path d="M66.8 40.1Q69.1 40.5 70.6 42.2" stroke-width="0.59" opacity="0.50"/>
<path d="M61.3 24.1Q62.9 25.9 64.6 27.6" stroke-width="0.87" opacity="0.76"/>
<path d="M16.8 71.1Q17.8 74.1 18.6 77.1" stroke-width="0.98" opacity="0.77"/>
<path d="M25.7 51.5Q25.6 54.8 27.9 57.3" stroke-width="0.76" opacity="0.72"/>
<path d="M9.5 49.8Q9.6 51.3 10.6 52.3" stroke-width="0.69" opacity="0.48"/>
<path d="M6.3 39.2Q6.7 40.5 7.3 41.8" stroke-width="0.75" opacity="0.72"/>
<path d="M16.9 35.0Q17.3 36.1 18.2 36.8" stroke-width="0.58" opacity="0.73"/>
<path d="M100.4 25.3Q101.4 26.6 102.9 27.0" stroke-width="0.54" opacity="0.76"/>
<path d="M27.9 56.4Q29.7 59.3 29.5 62.7" stroke-width="0.77" opacity="0.58"/>
<path d="M88.6 23.2Q90.1 23.8 90.7 25.3" stroke-width="0.61" opacity="0.73"/>
<path d="M34.4 15.3Q36.5 18.0 39.8 19.1" stroke-width="0.84" opacity="0.67"/>
<path d="M66.2 43.8Q68.2 46.3 68.8 49.4" stroke-width="0.83" opacity="0.65"/>
<path d="M93.3 10.4Q94.5 12.4 93.8 14.6" stroke-width="0.86" opacity="0.81"/>
<path d="M62.3 6.1Q64.7 7.9 67.1 9.5" stroke-width="0.91" opacity="0.58"/>
<path d="M26.2 10.4Q27.7 11.5 29.6 11.9" stroke-width="0.91" opacity="0.47"/>
<path d="M54.2 59.0Q56.6 60.8 59.0 62.4" stroke-width="0.84" opacity="0.66"/>
<path d="M100.9 67.6Q104.7 67.6 107.1 70.5" stroke-width="0.79" opacity="0.68"/>
<path d="M28.3 19.5Q30.6 21.9 30.1 25.2" stroke-width="0.56" opacity="0.74"/>
<path d="M43.8 13.1Q47.3 14.2 49.0 17.4" stroke-width="0.71" opacity="0.61"/>
<path d="M66.0 57.1Q66.4 58.3 67.6 59.0" stroke-width="0.74" opacity="0.81"/>
<path d="M91.1 59.9Q93.0 62.2 95.9 62.1" stroke-width="0.65" opacity="0.57"/>
<path d="M51.9 40.5Q52.6 43.6 55.3 45.3" stroke-width="0.89" opacity="0.71"/>
<path d="M29.2 47.8Q30.5 49.8 30.8 52.0" stroke-width="0.90" opacity="0.74"/>
<path d="M19.7 69.6Q21.5 70.9 22.7 72.8" stroke-width="0.69" opacity="0.77"/>
<path d="M70 0 q12 18 22 30 q4 10 8 22" stroke-width="1.1" opacity="0.8"/>
<path d="M96 22 l5 4" stroke-width="1.1" opacity="0.8"/>
<circle cx="90.8" cy="36.0" r="0.8" fill="#fbf0fb" stroke="none" opacity="0.9"/>
<circle cx="48.6" cy="13.1" r="1.0" fill="#fbf0fb" stroke="none" opacity="0.9"/>
<circle cx="44.1" cy="6.8" r="0.6" fill="#fbf0fb" stroke="none" opacity="0.9"/>
</g>
</g>
<rect x="315.2" y="41.5" width="17.2" height="11.8" fill="none" stroke="#e8e0e8" stroke-width="0.7" stroke-dasharray="1.4 1.1" opacity="0.75"/>
<path d="M359.3 104 V78 H395" fill="none" stroke="#e8e0e8" stroke-width="0.7" stroke-dasharray="1.4 1.1" opacity="0.75"/>
<rect x="298.8" y="97.6" width="9.6" height="1.5" fill="#ffffff" opacity="0.85"/>
<rect x="292.3" y="28.3" width="102.4" height="75.4" fill="none" stroke="#777" stroke-opacity="0.35" stroke-width="0.6"/>
<g clip-path="url(#cp03)">
<rect x="397" y="28" width="103" height="76" fill="#aa5ab5"/>
<rect x="397" y="28" width="103" height="76" filter="url(#grain)" opacity="0.22"/>
<rect x="397" y="28" width="103" height="76" filter="url(#mott)" opacity="0.22"/>
<rect x="397" y="28" width="103" height="76" filter="url(#speck)" opacity="0.15"/>
<g transform="translate(397 28)" fill="none" stroke="#f8eaf8" stroke-linecap="round">
<path d="M63.1 66.1Q62.2 68.2 63.2 70.4" stroke-width="0.76" opacity="0.74"/>
<path d="M74.1 63.8Q74.3 65.0 75.4 65.5" stroke-width="0.87" opacity="0.55"/>
<path d="M75.5 14.2Q76.6 15.8 76.8 17.8" stroke-width="0.57" opacity="0.65"/>
<path d="M66.1 24.9Q66.4 27.8 64.5 30.0" stroke-width="0.64" opacity="0.49"/>
<path d="M69.1 31.7Q69.7 33.8 71.3 35.2" stroke-width="0.88" opacity="0.63"/>
<path d="M83.7 18.6Q83.6 20.6 82.6 22.2" stroke-width="0.57" opacity="0.46"/>
<path d="M68.6 61.1Q69.0 62.1 69.2 63.2" stroke-width="0.66" opacity="0.54"/>
<path d="M40.1 12.2Q41.9 14.9 44.0 17.5" stroke-width="0.82" opacity="0.71"/>
<path d="M49.0 39.7Q51.8 41.7 53.1 44.9" stroke-width="0.65" opacity="0.75"/>
<path d="M43.9 30.1Q44.6 31.1 45.5 31.9" stroke-width="0.61" opacity="0.63"/>
<path d="M25.5 24.4Q25.0 25.8 24.9 27.3" stroke-width="0.74" opacity="0.54"/>
<path d="M84.8 42.4Q85.2 43.8 86.4 44.5" stroke-width="0.66" opacity="0.61"/>
<path d="M11.5 64.9Q11.5 66.6 12.2 68.1" stroke-width="0.77" opacity="0.60"/>
<path d="M27.8 51.9Q27.2 53.7 28.2 55.2" stroke-width="0.96" opacity="0.72"/>
<path d="M61.0 13.4Q60.8 16.4 59.7 19.3" stroke-width="0.53" opacity="0.66"/>
<path d="M44.7 63.2Q45.6 65.9 46.7 68.6" stroke-width="0.74" opacity="0.71"/>
<path d="M65.3 49.5Q65.9 51.1 65.0 52.6" stroke-width="0.63" opacity="0.67"/>
<path d="M4.5 45.4Q6.0 46.7 6.1 48.6" stroke-width="0.69" opacity="0.68"/>
<path d="M6.8 62.2Q7.5 65.6 8.5 68.9" stroke-width="0.91" opacity="0.71"/>
<path d="M67.9 36.2Q69.7 37.9 69.8 40.4" stroke-width="0.89" opacity="0.72"/>
<path d="M2.4 58.0Q2.3 61.8 5.0 64.5" stroke-width="0.61" opacity="0.70"/>
<path d="M81.2 31.2Q82.3 32.6 83.5 33.9" stroke-width="0.65" opacity="0.64"/>
<path d="M63.0 18.9Q64.2 20.5 65.9 21.6" stroke-width="0.87" opacity="0.57"/>
<path d="M22.8 47.8Q22.0 49.8 22.3 52.0" stroke-width="0.73" opacity="0.62"/>
<path d="M59.5 45.1Q60.2 47.2 60.4 49.4" stroke-width="0.85" opacity="0.64"/>
<path d="M15.1 47.5Q15.8 49.2 16.7 50.7" stroke-width="0.94" opacity="0.61"/>
<path d="M41.8 48.0Q40.0 51.0 41.2 54.2" stroke-width="0.53" opacity="0.66"/>
<path d="M37.9 28.3Q37.8 30.1 38.5 31.8" stroke-width="0.83" opacity="0.48"/>
<path d="M48.2 61.5Q49.4 63.1 50.2 64.9" stroke-width="0.81" opacity="0.57"/>
<path d="M19.3 2.9Q19.9 4.2 19.4 5.5" stroke-width="0.66" opacity="0.56"/>
<circle cx="80.5" cy="59.7" r="0.5" fill="#fbf0fb" stroke="none" opacity="0.9"/>
<circle cx="17.8" cy="21.8" r="0.6" fill="#fbf0fb" stroke="none" opacity="0.9"/>
<circle cx="49.5" cy="67.2" r="0.7" fill="#fbf0fb" stroke="none" opacity="0.9"/>
</g>
</g>
<rect x="416.7" y="67.1" width="16.9" height="12.2" fill="none" stroke="#e8e0e8" stroke-width="0.7" stroke-dasharray="1.4 1.1" opacity="0.75"/>
<path d="M464.3 104 V78 H500" fill="none" stroke="#e8e0e8" stroke-width="0.7" stroke-dasharray="1.4 1.1" opacity="0.75"/>
<rect x="403.8" y="97.6" width="9.6" height="1.5" fill="#ffffff" opacity="0.85"/>
<rect x="397.3" y="28.3" width="102.4" height="75.4" fill="none" stroke="#777" stroke-opacity="0.35" stroke-width="0.6"/>
<g clip-path="url(#cp04)">
<rect x="502" y="28" width="103" height="76" fill="#b559b4"/>
<rect x="502" y="28" width="103" height="76" filter="url(#grain)" opacity="0.22"/>
<rect x="502" y="28" width="103" height="76" filter="url(#mott)" opacity="0.22"/>
<rect x="502" y="28" width="103" height="76" filter="url(#speck)" opacity="0.15"/>
<g transform="translate(502 28)" fill="none" stroke="#f8eaf8" stroke-linecap="round">
<path d="M92.5 11.9Q93.4 14.4 95.9 15.3" stroke-width="0.69" opacity="0.63"/>
<path d="M59.2 29.5Q59.5 32.9 61.2 35.7" stroke-width="0.53" opacity="0.85"/>
<path d="M56.3 45.0Q57.2 47.4 59.6 48.5" stroke-width="0.64" opacity="0.51"/>
<path d="M101.0 20.8Q101.8 22.4 103.5 23.1" stroke-width="0.69" opacity="0.46"/>
<path d="M28.3 18.5Q28.4 19.6 28.9 20.5" stroke-width="0.57" opacity="0.55"/>
<path d="M99.1 52.4Q99.6 54.7 101.7 55.7" stroke-width="0.62" opacity="0.70"/>
<path d="M3.6 36.9Q5.0 37.7 6.2 38.7" stroke-width="0.71" opacity="0.81"/>
<path d="M38.1 3.4Q37.9 6.6 39.7 9.3" stroke-width="0.65" opacity="0.59"/>
<circle cx="76.2" cy="10.4" r="0.5" fill="#fbf0fb" stroke="none" opacity="0.9"/>
<circle cx="52.0" cy="20.2" r="0.8" fill="#fbf0fb" stroke="none" opacity="0.9"/>
</g>
</g>
<rect x="523.7" y="42.1" width="17.5" height="12.7" fill="none" stroke="#e8e0e8" stroke-width="0.7" stroke-dasharray="1.4 1.1" opacity="0.75"/>
<path d="M569.3 104 V78 H605" fill="none" stroke="#e8e0e8" stroke-width="0.7" stroke-dasharray="1.4 1.1" opacity="0.75"/>
<rect x="508.8" y="97.6" width="9.6" height="1.5" fill="#ffffff" opacity="0.85"/>
<rect x="502.3" y="28.3" width="102.4" height="75.4" fill="none" stroke="#777" stroke-opacity="0.35" stroke-width="0.6"/>
<g clip-path="url(#cp10)">
<rect x="82" y="107" width="103" height="76" fill="#29030a"/>
<rect x="42" y="67" width="183" height="156" fill="url(#pR)" opacity="0.75" transform="translate(0 0)"/>
<rect x="42" y="67" width="183" height="156" filter="url(#dgrain)" opacity="0.5"/>
<g clip-path="url(#ci10)"><rect x="149.3" y="157" width="35.7" height="26" fill="#1a0304" opacity="0.5"/><path d="M149.2 169.5L149.0 172.8M149.0 172.8L-17.6 178.4M149.0 172.8L149.0 173.0M138.4 180.5L148.2 176.1M149.0 173.0L148.2 176.1M188.3 183.4L186.9 182.2M186.9 182.2L182.0 182.4M182.8 189.7L180.7 184.0M180.7 184.0L182.0 182.4M174.4 186.1L176.3 183.6M176.3 183.6L180.7 184.0M174.7 177.9L176.3 183.6M174.7 177.9L179.6 177.0M182.0 182.4L181.2 177.4M179.6 177.0L181.2 177.4M174.7 177.9L174.2 177.6M174.2 177.6L174.9 173.5M179.6 177.0L178.9 171.2M178.9 171.2L178.6 171.0M174.9 173.5L178.6 171.0M153.5 174.5L154.8 179.1M153.5 174.5L149.0 173.0M148.2 176.1L149.6 178.7M154.8 179.1L154.8 179.1M149.6 178.7L154.8 179.1M138.4 180.5L147.9 183.4M149.6 178.7L147.9 183.4M159.8 174.9L164.5 174.0M159.8 174.9L159.6 176.1M159.6 176.1L161.7 179.5M164.5 174.0L165.7 178.2M161.7 179.5L164.8 178.9M165.7 178.2L164.8 178.9M153.5 174.5L156.1 172.5M154.8 179.1L159.6 176.1M156.1 172.5L158.4 172.5M158.4 172.5L159.8 174.9M159.9 183.7L161.7 179.5M159.9 183.7L155.7 183.3M155.7 183.3L154.8 179.1M164.2 184.0L167.3 187.0M164.2 184.0L165.4 182.5M165.4 182.5L169.3 182.5M167.3 187.0L169.8 184.5M169.8 184.5L169.3 182.5M164.2 201.7L160.4 184.2M160.4 184.2L164.2 184.0M159.9 183.7L160.4 184.2M164.8 178.9L165.4 182.5M170.1 178.7L169.3 182.5M170.1 178.7L165.7 178.2M174.4 186.1L169.8 184.5M171.4 177.7L174.2 177.6M171.4 177.7L170.1 178.7M185.0 172.6L181.7 177.0M185.0 172.6L189.9 173.3M181.7 177.0L186.8 179.4M189.9 173.3L186.8 179.4M181.2 177.4L181.7 177.0M178.9 171.2L183.8 171.2M183.8 171.2L185.0 172.6M186.9 182.2L186.8 179.4M156.1 172.5L153.5 168.8M158.4 172.5L160.5 167.5M160.5 167.5L159.5 166.5M159.5 166.5L153.5 168.8M163.5 157.5L162.4 157.2M163.5 157.5L166.3 155.2M166.3 155.2L173.6 112.6M162.4 157.2L156.8 147.8M92.7 146.3L149.8 157.3M154.3 133.8L149.8 157.3M183.5 166.6L181.2 165.2M183.5 166.6L187.1 164.8M181.2 165.2L184.1 159.5M187.2 164.6L186.2 160.0M187.2 164.6L187.1 164.8M186.2 160.0L184.1 159.5M183.8 171.2L183.5 166.6M177.1 167.1L178.6 171.0M177.1 167.1L179.1 165.0M179.1 165.0L181.2 165.2M190.3 173.2L187.1 164.8M181.6 157.5L184.1 159.5M134.9 335.2L155.6 183.4M134.9 335.2L148.7 184.4M148.7 184.4L155.6 183.4M155.7 183.3L155.6 183.4M147.9 183.4L148.7 184.4M180.8 157.5L177.9 161.6M180.8 157.5L179.4 156.4M179.4 156.4L174.6 157.7M177.9 161.6L174.1 160.6M174.1 160.6L174.6 157.7M179.1 165.0L177.9 161.6M181.6 157.5L180.8 157.5M162.4 157.2L159.0 159.4M156.8 147.8L155.0 155.3M159.0 159.4L155.0 155.3M163.5 157.5L164.7 159.8M164.7 159.8L158.9 165.1M158.9 165.1L156.9 162.5M159.0 159.4L156.9 162.5M177.1 167.1L174.1 167.2M174.9 173.5L172.9 170.5M174.1 167.2L172.9 170.5M173.7 155.5L170.2 157.1M173.7 155.5L174.9 148.4M174.8 147.9L169.2 156.0M169.2 156.0L170.2 157.1M170.5 161.3L171.7 161.8M170.5 161.3L170.2 157.1M171.7 161.8L174.1 160.6M174.6 157.7L173.7 155.5M179.4 156.4L174.9 148.4M166.3 155.2L169.2 156.0M164.7 159.8L166.6 161.9M166.6 161.9L170.5 161.3M149.8 157.3L150.2 157.8M155.0 155.3L153.1 157.9M150.2 157.8L153.1 157.9M171.7 161.8L171.8 162.3M174.1 167.2L173.9 167.0M171.8 162.3L173.9 167.0M168.8 172.9L171.1 171.0M168.8 172.9L165.9 171.8M171.1 171.0L169.0 167.6M165.9 171.8L164.7 167.8M164.7 167.8L164.9 167.5M164.9 167.5L168.7 167.5M168.7 167.5L169.0 167.6M171.4 177.7L168.8 172.9M172.9 170.5L171.1 171.0M164.5 174.0L165.9 171.8M173.9 167.0L169.0 167.6M160.5 167.5L164.7 167.8M158.9 165.1L159.5 166.5M166.6 161.9L164.9 167.5M171.8 162.3L168.7 167.5M156.6 162.5L154.9 161.5M156.6 162.5L151.1 168.1M154.9 161.5L148.8 163.6M150.0 168.2L148.6 163.7M150.0 168.2L151.1 168.1M148.6 163.7L148.8 163.6M156.9 162.5L156.6 162.5M153.1 157.9L154.9 161.5M153.5 168.8L151.1 168.1M150.2 157.8L148.8 163.6M149.2 169.5L150.0 168.2M92.7 146.3L148.6 163.7" fill="none" stroke="#a02838" stroke-width="0.75" opacity="0.45"/></g>
<path d="M118 186 L124 178 L129 172 L132 171 L134 175 L131 186 Z" fill="#d8303a" opacity="0.7" filter="url(#blur1)"/>
<ellipse cx="143" cy="176" rx="5" ry="4" fill="#000" opacity="0.6" filter="url(#blur1)"/>
</g>
<rect x="97.3" y="125.6" width="14.9" height="12.3" fill="none" stroke="#e8e0e8" stroke-width="0.7" stroke-dasharray="1.4 1.1" opacity="0.5"/>
<path d="M149.3 183 V157 H185" fill="none" stroke="#e8e0e8" stroke-width="0.7" stroke-dasharray="1.4 1.1" opacity="0.5"/>
<rect x="88.8" y="176.6" width="9.6" height="1.5" fill="#ffffff" opacity="0.85"/>
<rect x="82.3" y="107.3" width="102.4" height="75.4" fill="none" stroke="#777" stroke-opacity="0.35" stroke-width="0.6"/>
<g clip-path="url(#cp11)">
<rect x="187" y="107" width="103" height="76" fill="#000000"/>
</g>
<rect x="201" y="131.3" width="16.4" height="11.6" fill="none" stroke="#e8e0e8" stroke-width="0.7" stroke-dasharray="1.4 1.1" opacity="0.5"/>
<path d="M254.3 183 V157 H290" fill="none" stroke="#e8e0e8" stroke-width="0.7" stroke-dasharray="1.4 1.1" opacity="0.5"/>
<rect x="193.8" y="176.6" width="9.6" height="1.5" fill="#ffffff" opacity="0.85"/>
<rect x="187.3" y="107.3" width="102.4" height="75.4" fill="none" stroke="#777" stroke-opacity="0.35" stroke-width="0.6"/>
<g clip-path="url(#cp12)">
<rect x="292" y="107" width="103" height="76" fill="#20050b"/>
<rect x="252" y="67" width="183" height="156" fill="url(#pR)" opacity="0.6" transform="translate(14 10)"/>
<rect x="252" y="67" width="183" height="156" filter="url(#dgrain)" opacity="0.5"/>
<g clip-path="url(#ci12)"><rect x="359.3" y="157" width="35.7" height="26" fill="#1a0304" opacity="0.5"/><path d="M327.5 173.1L357.2 179.5M351.7 170.9L358.4 173.0M358.4 173.0L358.2 177.1M357.2 179.5L358.2 177.1M362.9 172.6L362.8 177.5M362.9 172.6L358.5 172.9M358.5 172.9L358.4 173.0M358.2 177.1L362.8 177.5M390.4 155.7L391.5 156.8M390.4 155.7L385.1 157.6M384.1 160.6L385.1 157.6M384.1 160.6L388.2 161.7M388.2 161.7L391.5 156.8M382.6 115.9L390.4 155.7M394.9 157.9L394.5 158.1M391.5 156.8L394.5 158.1M358.9 151.3L361.9 157.6M370.6 87.0L365.2 157.6M365.2 157.6L363.8 158.6M361.9 157.6L363.8 158.6M355.0 160.4L356.3 161.0M361.9 157.6L356.3 161.0M351.7 170.9L358.9 164.8M356.3 161.0L358.9 164.8M358.5 172.9L359.8 165.1M359.8 165.1L358.9 164.8M394.9 157.9L519.3 173.3M394.5 159.8L394.5 158.1M394.5 159.8L401.2 166.5M388.2 161.7L389.4 164.3M394.5 159.8L393.8 161.3M393.8 161.3L389.4 164.3M401.2 166.5L394.6 167.4M393.8 161.3L394.6 167.4M420.9 170.7L396.6 173.6M396.6 173.6L395.9 173.0M395.9 173.0L394.3 167.6M394.6 167.4L394.3 167.6M384.1 160.6L382.7 161.6M385.1 157.6L382.9 154.5M382.7 161.6L380.1 161.4M380.1 161.4L379.1 159.4M379.1 159.4L382.9 154.5M381.7 149.0L382.9 154.5M381.7 149.0L377.4 157.8M371.9 150.7L377.4 157.8M379.1 159.4L377.4 157.8M377.4 157.8L377.4 157.8M385.2 167.0L382.8 168.6M385.2 167.0L389.0 167.7M382.8 168.6L383.5 172.4M389.5 171.1L389.6 168.5M389.5 171.1L385.3 173.7M385.3 173.7L383.5 172.4M389.0 167.7L389.6 168.5M382.7 161.6L385.2 167.0M380.2 168.5L382.8 168.6M380.2 168.5L379.4 162.2M379.4 162.2L380.1 161.4M389.4 164.3L389.0 167.7M379.5 168.9L379.3 172.0M379.5 168.9L380.2 168.5M379.3 172.0L380.1 173.7M380.1 173.7L383.5 172.4M390.1 172.0L395.9 173.0M390.1 172.0L389.5 171.1M394.3 167.6L389.6 168.5M374.5 172.7L374.2 172.4M374.5 172.7L379.3 172.0M379.5 168.9L375.9 168.3M375.9 168.3L374.2 172.4M362.9 172.6L364.1 171.8M359.8 165.1L360.1 165.1M364.1 171.8L364.1 170.1M360.1 165.1L364.1 170.1M390.1 172.0L391.3 177.9M396.6 173.6L393.3 178.3M391.3 177.9L393.3 178.3M438.1 172.1L395.0 179.9M395.2 182.6L395.0 179.9M395.0 179.9L393.3 178.3M362.8 177.5L363.5 179.5M364.1 171.8L368.2 173.4M368.2 173.4L369.0 177.0M369.0 177.0L367.9 179.2M363.5 179.5L367.9 179.2M374.5 172.7L376.0 177.4M368.2 173.4L370.2 172.0M369.0 177.0L375.0 178.0M374.2 172.4L370.2 172.0M376.0 177.4L375.0 178.0M380.1 173.7L379.2 178.0M376.0 177.4L379.2 178.0M367.9 179.2L369.3 183.2M369.3 183.2L373.2 182.1M375.0 178.0L373.2 182.1M384.8 177.0L382.0 178.9M384.8 177.0L390.4 178.5M382.0 178.9L388.0 183.2M390.4 178.5L388.4 183.0M388.0 183.2L388.4 183.0M385.3 173.7L384.8 177.0M379.2 178.0L380.5 179.3M380.5 179.3L382.0 178.9M391.3 177.9L390.4 178.5M371.9 150.7L370.5 155.9M377.4 157.8L375.7 158.4M375.7 158.4L370.5 155.9M365.2 157.6L370.0 156.8M370.0 156.8L370.5 155.9M375.9 168.3L375.2 167.2M370.2 172.0L370.7 167.2M370.7 167.2L375.2 167.2M375.7 158.4L372.5 161.7M370.0 156.8L371.2 161.6M371.2 161.6L372.5 161.7M379.4 162.2L375.9 163.8M372.5 161.7L375.9 163.8M375.9 163.8L375.2 167.2M395.2 182.6L393.9 185.7M388.4 183.0L389.7 184.1M393.9 185.7L389.7 184.1M378.5 184.1L380.2 181.8M378.5 184.1L383.9 197.7M380.2 181.8L385.0 186.2M380.5 179.3L380.2 181.8M373.2 182.1L376.0 184.8M376.0 184.8L378.5 184.1M388.0 183.2L385.0 186.2M389.7 184.1L385.4 218.3M370.1 162.7L369.2 165.2M370.1 162.7L364.0 159.7M369.2 165.2L367.3 165.7M367.3 165.7L363.2 162.9M364.0 159.7L363.2 162.9M370.7 167.2L369.2 165.2M371.2 161.6L370.1 162.7M363.8 158.6L364.0 159.7M364.1 170.1L367.3 165.7M360.1 165.1L363.2 162.9M369.3 183.2L368.9 184.4M376.0 184.8L372.1 192.0M368.9 184.4L372.1 192.0M364.8 185.1L362.3 190.4M364.8 185.1L361.7 181.8M362.3 190.4L358.7 182.9M361.7 181.8L359.0 182.3M359.0 182.3L358.7 182.9M368.9 184.4L364.8 185.1M363.5 179.5L361.7 181.8M357.2 179.5L359.0 182.3" fill="none" stroke="#a02838" stroke-width="0.75" opacity="0.45"/></g>
<path d="M291 137 q20 8 30 16 q20 2 40 6 M360 107 q8 10 16 20" stroke="#000" stroke-width="1.3" fill="none" opacity="0.75"/>
</g>
<rect x="319" y="121.5" width="16.8" height="12.4" fill="none" stroke="#e8e0e8" stroke-width="0.7" stroke-dasharray="1.4 1.1" opacity="0.5"/>
<path d="M359.3 183 V157 H395" fill="none" stroke="#e8e0e8" stroke-width="0.7" stroke-dasharray="1.4 1.1" opacity="0.5"/>
<rect x="298.8" y="176.6" width="9.6" height="1.5" fill="#ffffff" opacity="0.85"/>
<rect x="292.3" y="107.3" width="102.4" height="75.4" fill="none" stroke="#777" stroke-opacity="0.35" stroke-width="0.6"/>
<g clip-path="url(#cp13)">
<rect x="397" y="107" width="103" height="76" fill="#10040b"/>
<rect x="357" y="67" width="183" height="156" fill="url(#pR)" opacity="0.45" transform="translate(21 15)"/>
<rect x="357" y="67" width="183" height="156" filter="url(#dgrain)" opacity="0.5"/>
<g clip-path="url(#ci13)"><rect x="464.3" y="157" width="35.7" height="26" fill="#1a0304" opacity="0.5"/><path d="M455.6 180.7L464.4 183.4M455.6 180.7L462.4 177.8M464.4 183.4L465.4 182.5M465.4 182.5L462.4 177.8M463.1 163.2L463.6 167.5M463.1 163.2L441.4 167.6M463.6 167.5L449.6 169.3M303.3 163.7L461.8 156.4M461.8 156.4L464.3 159.5M464.3 159.5L464.0 162.4M464.0 162.4L463.1 163.2M462.4 177.8L464.2 173.3M464.2 173.3L449.6 169.3M498.6 168.5L500.7 172.5M498.6 168.5L501.1 166.6M500.7 172.5L518.4 167.1M501.1 166.6L507.7 165.5M499.6 160.5L497.2 161.4M499.6 160.5L507.7 165.5M497.2 161.4L501.1 166.6M495.5 168.1L494.9 171.7M495.5 168.1L498.6 168.5M494.9 171.7L495.5 172.8M500.7 172.5L499.6 174.5M499.6 174.5L495.5 172.8M464.0 162.4L468.7 164.8M463.6 167.5L465.1 170.8M468.7 164.8L465.1 170.8M464.2 173.3L464.7 173.1M464.7 173.1L465.1 172.7M465.1 170.8L465.1 172.7M494.9 171.7L488.7 173.2M488.7 173.2L490.0 175.5M495.5 172.8L493.5 176.9M490.0 175.5L493.5 176.9M465.4 182.5L467.1 182.2M471.3 191.6L467.1 182.2M464.7 173.1L469.1 180.6M467.1 182.2L469.1 180.6M502.5 156.3L501.6 157.2M502.5 156.3L497.3 147.7M501.6 157.2L495.0 155.9M497.3 147.7L495.0 155.9M575.9 166.5L502.5 156.3M499.6 160.5L501.6 157.2M499.6 174.5L499.7 175.3M507.3 178.4L499.7 175.3M497.2 161.4L495.9 161.4M495.0 155.9L494.2 157.5M494.2 157.5L495.9 161.4M495.5 168.1L494.9 167.4M494.9 167.4L495.6 161.8M495.9 161.4L495.6 161.8M472.1 161.8L474.1 161.7M472.1 161.8L469.5 164.7M474.1 161.7L476.5 166.6M469.5 164.7L472.1 168.8M476.5 166.6L472.7 169.0M472.1 168.8L472.7 169.0M464.3 159.5L468.6 157.5M468.6 157.5L470.3 159.0M468.7 164.8L469.5 164.7M470.3 159.0L472.1 161.8M480.7 162.4L475.0 160.9M480.7 162.4L479.9 165.0M479.9 165.0L477.4 166.8M475.0 160.9L474.1 161.7M477.4 166.8L476.5 166.6M467.1 172.6L465.1 172.7M467.1 172.6L472.1 168.8M467.1 172.6L471.7 175.2M473.3 174.5L471.7 175.2M473.3 174.5L474.9 173.3M474.9 173.3L472.7 169.0M474.2 156.0L476.3 157.2M474.2 156.0L470.0 150.6M478.3 156.2L476.3 157.2M478.3 156.2L483.0 122.6M470.3 159.0L474.2 156.0M475.0 160.9L476.3 157.2M468.6 157.5L470.0 150.6M461.8 156.4L468.5 141.3M481.3 161.9L479.7 157.1M481.3 161.9L480.7 162.4M479.7 157.1L478.3 156.2M479.7 157.1L484.2 156.3M485.6 153.4L484.2 156.3M485.6 153.4L490.1 157.4M490.9 157.2L490.1 157.4M490.9 157.2L483.7 75.4M494.2 157.5L490.9 157.2M483.2 176.6L478.8 177.7M483.2 176.6L485.0 172.9M485.0 172.9L483.0 171.1M483.0 171.1L479.2 171.0M479.2 171.0L476.7 173.6M478.8 177.7L476.7 173.6M479.9 165.0L483.1 167.7M483.1 167.7L483.0 171.1M477.4 166.8L479.2 171.0M474.9 173.3L476.7 173.6M484.9 179.4L484.9 182.1M484.9 179.4L489.1 178.0M489.1 178.0L490.7 183.0M485.4 182.8L484.9 182.1M485.4 182.8L490.5 183.2M490.5 183.2L490.7 183.0M488.7 173.2L487.9 172.6M490.0 175.5L489.1 178.0M487.9 172.6L485.0 172.9M483.2 176.6L484.9 179.4M503.0 292.6L490.5 183.2M482.2 190.1L485.4 182.8M471.3 191.6L473.9 184.6M482.2 190.1L478.1 183.7M473.9 184.6L478.1 183.7M484.9 182.1L478.8 181.6M478.1 183.7L478.8 181.6M478.8 177.7L478.3 179.0M478.3 179.0L478.8 181.6M499.3 176.0L500.2 182.7M499.3 176.0L494.5 178.2M494.5 178.2L494.4 181.3M500.0 183.1L494.7 181.4M500.0 183.1L500.2 182.7M494.7 181.4L494.4 181.3M507.3 178.4L500.2 182.7M499.7 175.3L499.3 176.0M493.5 176.9L494.5 178.2M490.7 183.0L494.4 181.3M503.0 292.6L494.7 181.4M487.1 161.4L489.3 163.0M487.1 161.4L485.7 161.5M485.7 161.5L485.7 161.5M485.7 161.5L485.2 165.9M489.3 163.0L490.3 167.7M485.2 165.9L489.3 168.6M490.3 167.7L489.3 168.6M495.6 161.8L489.3 163.0M490.1 157.4L487.1 161.4M484.2 156.3L485.7 161.5M481.3 161.9L485.7 161.5M483.1 167.7L485.2 165.9M494.9 167.4L490.3 167.7M487.9 172.6L489.3 168.6M472.1 182.1L477.0 179.0M472.1 182.1L470.0 180.5M470.0 180.5L470.6 179.6M470.6 179.6L474.5 178.3M474.5 178.3L477.0 179.0M473.9 184.6L472.1 182.1M478.3 179.0L477.0 179.0M469.1 180.6L470.0 180.5M471.7 175.2L470.6 179.6M473.3 174.5L474.5 178.3" fill="none" stroke="#a02838" stroke-width="0.75" opacity="0.45"/></g>
<path d="M476 107 q12 5 24 1 l1 0 l0 6 q-13 1 -25 -7 Z" fill="#000" opacity="0.6"/>
</g>
<rect x="417.1" y="122.8" width="16.4" height="11.2" fill="none" stroke="#e8e0e8" stroke-width="0.7" stroke-dasharray="1.4 1.1" opacity="0.5"/>
<path d="M464.3 183 V157 H500" fill="none" stroke="#e8e0e8" stroke-width="0.7" stroke-dasharray="1.4 1.1" opacity="0.5"/>
<rect x="403.8" y="176.6" width="9.6" height="1.5" fill="#ffffff" opacity="0.85"/>
<rect x="397.3" y="107.3" width="102.4" height="75.4" fill="none" stroke="#777" stroke-opacity="0.35" stroke-width="0.6"/>
<g clip-path="url(#cp14)">
<rect x="502" y="107" width="103" height="76" fill="#0f040a"/>
<rect x="462" y="67" width="183" height="156" fill="url(#pR)" opacity="0.5" transform="translate(28 20)"/>
<rect x="462" y="67" width="183" height="156" filter="url(#dgrain)" opacity="0.5"/>
<g clip-path="url(#ci14)"><rect x="569.3" y="157" width="35.7" height="26" fill="#1a0304" opacity="0.5"/><path d="M599.4 195.4L600.8 182.8M600.8 182.8L601.2 182.1M604.5 181.8L601.2 182.1M570.1 162.5L571.0 167.4M570.1 162.5L552.7 165.3M571.0 167.4L569.9 168.3M569.9 168.3L552.7 165.3M582.2 202.8L576.3 183.0M576.3 183.0L570.0 187.6M567.4 180.7L569.2 182.0M570.0 187.6L569.2 182.0M604.5 181.8L606.8 180.4M570.1 162.5L570.8 161.2M570.8 161.2L570.7 161.0M567.0 156.6L570.7 161.0M598.6 147.6L593.9 156.4M593.9 156.4L593.3 156.5M584.8 150.1L593.3 156.5M607.6 156.1L599.5 149.3M607.6 156.1L605.0 159.2M599.5 149.3L601.5 157.3M601.5 157.3L605.0 159.2M655.7 169.4L605.3 162.0M605.3 162.0L605.0 159.2M576.1 166.8L575.7 160.8M576.1 166.8L578.7 168.1M579.7 167.5L578.7 168.1M579.7 167.5L580.3 161.3M580.3 161.3L576.2 160.5M575.7 160.8L576.2 160.5M570.8 161.2L575.7 160.8M571.0 167.4L571.9 167.7M571.9 167.7L576.1 166.8M583.8 167.9L584.3 172.5M583.8 167.9L579.7 167.5M578.7 168.1L577.9 173.0M577.9 173.0L584.3 172.5M571.9 167.7L574.7 173.0M574.7 173.0L574.8 173.2M577.9 173.0L577.7 173.3M574.8 173.2L577.7 173.3M568.3 176.8L569.9 176.2M568.3 176.8L564.2 173.8M569.9 176.2L570.1 172.3M564.2 173.8L569.2 170.6M569.2 170.6L570.1 172.3M567.4 180.7L568.3 176.8M569.2 182.0L574.3 180.3M574.3 180.3L571.7 176.5M571.7 176.5L569.9 176.2M574.7 173.0L570.1 172.3M571.7 176.5L574.8 173.2M569.9 168.3L569.2 170.6M572.8 155.5L572.2 152.5M572.8 155.5L576.3 158.6M576.3 158.6L577.5 155.9M577.5 155.9L575.8 143.9M567.0 156.6L572.2 152.5M570.7 161.0L572.8 155.5M576.2 160.5L576.3 158.6M591.3 162.8L589.8 159.2M591.3 162.8L590.9 167.1M589.0 159.1L589.8 159.2M589.0 159.1L585.2 163.0M590.9 167.1L590.6 167.2M590.6 167.2L586.1 166.1M586.1 166.1L585.2 163.0M580.4 156.6L580.4 161.2M580.4 156.6L584.6 154.0M585.0 155.4L584.6 154.0M585.0 155.4L582.5 161.1M582.5 161.1L580.4 161.2M580.3 161.3L580.4 161.2M577.5 155.9L580.4 156.6M584.8 150.1L584.6 154.0M593.3 156.5L589.8 159.2M589.0 159.1L585.0 155.4M585.2 163.0L582.5 161.1M583.8 167.9L586.1 166.1M614.4 171.7L604.8 165.1M605.3 162.0L604.9 162.7M604.8 165.1L604.9 162.7M610.5 172.6L602.8 168.8M604.8 165.1L602.8 168.8M593.9 156.4L595.9 158.9M591.3 162.8L596.2 160.9M596.2 160.9L595.9 158.9M601.5 157.3L601.5 157.4M595.9 158.9L601.5 157.4M593.2 167.5L594.6 171.5M593.2 167.5L590.9 167.1M594.6 171.5L593.6 174.1M590.6 167.2L589.1 172.6M589.1 172.6L593.6 174.1M575.6 180.8L578.0 174.5M575.6 180.8L576.6 182.2M578.6 182.0L576.6 182.2M578.6 182.0L581.0 176.7M581.0 176.7L578.0 174.5M574.3 180.3L575.6 180.8M577.7 173.3L578.0 174.5M576.3 183.0L576.6 182.2M584.4 190.9L583.4 184.1M582.1 182.6L583.4 184.1M582.1 182.6L578.6 182.0M603.0 175.5L603.1 175.3M603.0 175.5L606.7 180.0M603.1 175.3L609.1 173.7M606.7 180.0L609.1 173.7M598.1 172.3L600.2 169.1M598.1 172.3L598.5 176.6M598.5 176.6L600.1 177.3M600.1 177.3L603.0 175.5M600.2 169.1L601.9 169.3M601.9 169.3L603.1 175.3M601.2 182.1L600.1 177.3M606.8 180.4L606.7 180.0M602.8 168.8L601.9 169.3M602.0 162.9L597.7 166.8M602.0 162.9L599.4 161.6M599.4 161.6L596.8 161.8M596.8 161.8L596.6 166.3M596.6 166.3L597.7 166.8M604.9 162.7L602.0 162.9M600.2 169.1L597.7 166.8M601.5 157.4L599.4 161.6M596.2 160.9L596.8 161.8M593.2 167.5L596.6 166.3M598.1 172.3L594.6 171.5M582.1 182.6L583.7 178.7M581.0 176.7L582.8 177.0M583.7 178.7L582.8 177.0M584.3 172.5L585.1 173.3M582.8 177.0L585.1 173.3M589.1 172.6L587.8 173.9M585.1 173.3L587.8 173.9M589.3 181.1L589.1 179.0M589.3 181.1L591.0 183.6M589.1 179.0L589.2 178.9M589.2 178.9L594.7 176.8M595.0 182.0L592.6 184.2M595.0 182.0L595.4 177.1M595.4 177.1L594.7 176.8M592.6 184.2L591.0 183.6M583.4 184.1L589.3 181.1M583.7 178.7L589.1 179.0M584.4 190.9L591.0 183.6M587.8 173.9L589.2 178.9M593.6 174.1L594.7 176.8M599.4 195.4L592.6 184.2M600.8 182.8L595.0 182.0M598.5 176.6L595.4 177.1" fill="none" stroke="#a02838" stroke-width="0.75" opacity="0.45"/></g>
<path d="M503 150 q20 -4 37 2 q6 12 6 33" stroke="#000" stroke-width="1.2" fill="none" opacity="0.6"/>
<path d="M502 185 L502 172 q5 2 8 6 q2 4 4 7 Z" fill="#000" opacity="0.8"/>
<path d="M601 116 q-2 10 1 24" stroke="#000" stroke-width="1.5" fill="none" opacity="0.6"/>
</g>
<rect x="535.3" y="124.6" width="16.4" height="13.1" fill="none" stroke="#e8e0e8" stroke-width="0.7" stroke-dasharray="1.4 1.1" opacity="0.5"/>
<path d="M569.3 183 V157 H605" fill="none" stroke="#e8e0e8" stroke-width="0.7" stroke-dasharray="1.4 1.1" opacity="0.5"/>
<rect x="508.8" y="176.6" width="9.6" height="1.5" fill="#ffffff" opacity="0.85"/>
<rect x="502.3" y="107.3" width="102.4" height="75.4" fill="none" stroke="#777" stroke-opacity="0.35" stroke-width="0.6"/>
<g clip-path="url(#cp20)">
<rect x="82" y="185.5" width="103" height="76" fill="#0b2713"/>
<rect x="42" y="145.5" width="183" height="156" fill="url(#pG)" opacity="0.6" transform="translate(0 0)"/>
<rect x="42" y="145.5" width="183" height="156" filter="url(#dgrain)" opacity="0.4"/>
<g clip-path="url(#ci20)"><rect x="149.3" y="235.5" width="35.7" height="26" fill="#0c2612" opacity="0.5"/><path d="M186.4 250.0L183.6 251.4M186.4 250.0L193.2 253.1M183.6 251.4L182.3 254.2M182.3 254.2L184.1 256.2M184.1 256.2L193.2 253.1M221.8 257.5L185.4 260.1M187.9 329.3L185.4 260.1M184.1 256.2L183.8 259.3M185.4 260.1L183.8 259.3M148.2 246.1L149.3 250.0M148.2 246.1L152.4 245.9M152.4 245.9L152.6 249.3M149.3 250.0L152.6 249.3M178.8 255.0L179.7 261.3M178.8 255.0L174.5 255.0M174.5 255.0L176.0 260.4M176.0 260.4L179.7 261.4M179.7 261.4L179.7 261.3M179.3 254.4L182.3 254.2M179.3 254.4L178.8 255.0M183.8 259.3L179.7 261.3M181.3 291.7L179.7 261.4M133.5 245.3L149.9 240.1M147.8 235.1L149.9 240.1M147.9 245.8L133.5 245.3M147.9 245.8L150.5 240.5M149.9 240.1L150.5 240.5M148.2 246.1L147.9 245.8M152.4 245.9L153.4 243.3M153.4 243.3L150.6 240.5M150.6 240.5L150.5 240.5M184.1 195.7L184.4 234.6M205.2 238.7L184.4 234.6M170.7 229.0L174.5 234.9M184.1 195.7L177.9 234.5M174.5 234.9L177.9 234.5M184.4 234.6L183.1 235.9M183.1 235.9L179.8 236.5M177.9 234.5L179.8 236.5M149.3 250.0L148.3 251.0M142.9 252.7L148.3 251.0M171.2 259.4L165.5 261.8M171.2 259.4L173.0 261.5M172.3 264.6L165.6 262.3M172.3 264.6L173.0 261.5M165.6 262.3L165.5 262.1M165.5 262.1L165.5 261.8M176.0 260.4L173.0 261.5M164.3 258.3L165.5 261.8M164.3 258.3L167.7 256.1M171.2 259.4L171.3 257.5M171.3 257.5L167.7 256.1M174.5 255.0L174.0 254.8M171.3 257.5L174.0 254.8M164.7 250.8L163.2 257.6M164.7 250.8L168.2 252.5M163.2 257.6L164.3 258.3M168.2 252.5L167.7 256.1M170.7 229.0L168.5 234.1M174.5 234.9L173.2 236.5M173.2 236.5L169.2 235.7M168.5 234.1L169.2 235.7M153.4 243.3L154.5 243.4M159.5 248.5L154.0 250.1M159.5 248.5L159.5 246.8M152.6 249.3L154.0 250.1M154.5 243.4L159.5 246.8M159.3 237.2L159.3 238.1M159.3 237.2L156.1 236.0M156.1 236.0L150.6 240.5M154.5 243.4L159.3 238.1M166.3 245.0L166.3 241.8M166.3 245.0L159.8 246.2M166.3 241.8L161.0 242.2M159.8 246.2L161.0 242.2M160.0 249.2L164.4 250.4M160.0 249.2L159.5 248.5M164.4 250.4L167.2 246.6M167.2 246.6L166.3 245.0M159.5 246.8L159.8 246.2M159.3 238.1L161.0 242.2M164.4 250.4L164.7 250.8M167.2 246.6L170.4 247.2M168.2 252.5L171.2 251.3M170.4 247.2L171.2 251.3M174.0 254.8L173.0 252.3M173.0 252.3L171.2 251.3M155.3 218.3L155.2 234.4M155.3 218.3L149.3 234.1M149.3 234.1L155.2 234.4M147.8 235.1L149.3 234.1M156.1 236.0L155.2 234.4M199.3 239.8L185.7 240.6M199.3 239.8L185.2 246.4M185.7 240.6L184.5 241.8M184.5 241.8L183.5 245.1M185.2 246.4L183.5 245.1M183.1 235.9L185.7 240.6M186.4 250.0L185.2 246.4M179.8 236.5L179.3 238.6M184.5 241.8L179.6 239.7M179.6 239.7L179.3 238.6M160.0 249.2L159.1 255.4M163.2 257.6L160.2 257.0M159.1 255.4L160.2 257.0M154.0 250.1L153.9 254.9M159.1 255.4L153.9 254.9M159.7 236.9L163.2 236.6M159.7 236.9L162.3 224.2M163.2 236.6L165.1 234.1M162.3 224.2L165.1 234.1M159.3 237.2L159.7 236.9M167.4 240.4L166.3 241.8M167.4 240.4L167.3 239.9M167.3 239.9L163.2 236.6M167.3 239.9L169.2 235.7M168.5 234.1L165.1 234.1M183.6 251.4L180.1 248.7M179.3 254.4L178.5 250.0M180.1 248.7L178.5 250.0M183.5 245.1L180.7 245.6M180.1 248.7L180.7 245.6M179.6 239.7L178.9 244.3M180.7 245.6L178.9 244.3M173.0 252.3L175.9 249.7M178.5 250.0L175.9 249.7M170.6 247.0L175.0 245.5M170.6 247.0L170.4 241.2M170.4 241.2L173.3 240.5M175.0 245.5L175.6 244.5M175.6 244.5L173.5 240.7M173.3 240.5L173.5 240.7M170.4 247.2L170.6 247.0M175.9 249.7L175.0 245.5M167.4 240.4L170.4 241.2M173.2 236.5L173.3 240.5M178.9 244.3L175.6 244.5M179.3 238.6L173.5 240.7M165.5 262.1L158.9 264.4M160.2 257.0L157.9 260.4M157.9 260.4L158.9 264.4M156.4 270.5L158.9 264.4M153.5 261.6L156.0 260.2M153.5 261.6L149.6 260.5M156.0 260.2L152.8 255.8M149.6 260.5L149.1 259.3M152.3 256.0L149.1 258.9M152.3 256.0L152.8 255.8M149.1 259.3L149.1 258.9M157.9 260.4L156.0 260.2M156.4 270.5L153.5 261.6M117.7 475.5L149.6 260.5M153.9 254.9L152.8 255.8M142.9 252.7L149.1 258.9M148.3 251.0L152.3 256.0" fill="none" stroke="#48a860" stroke-width="0.75" opacity="0.45"/></g>
<path d="M118 264 L124 256 L129 250 L132 249 L134 253 L131 264 Z" fill="#50d068" opacity="0.6" filter="url(#blur1)"/>
<ellipse cx="144" cy="254" rx="4" ry="3.5" fill="#000" opacity="0.8" filter="url(#blur1)"/>
</g>
<rect x="96.7" y="203.1" width="16.1" height="12.9" fill="none" stroke="#e8e0e8" stroke-width="0.7" stroke-dasharray="1.4 1.1" opacity="0.5"/>
<path d="M149.3 261.5 V235.5 H185" fill="none" stroke="#e8e0e8" stroke-width="0.7" stroke-dasharray="1.4 1.1" opacity="0.5"/>
<rect x="88.8" y="255.1" width="9.6" height="1.5" fill="#ffffff" opacity="0.85"/>
<rect x="82.3" y="185.8" width="102.4" height="75.4" fill="none" stroke="#777" stroke-opacity="0.35" stroke-width="0.6"/>
<g clip-path="url(#cp21)">
<rect x="187" y="185.5" width="103" height="76" fill="#15401f"/>
<rect x="187" y="185.5" width="103" height="76" fill="url(#pG2)" opacity="0.7"/>
<rect x="147" y="145.5" width="183" height="156" filter="url(#dgrain)" opacity="0.4"/>
<g clip-path="url(#ci21)"><rect x="254.3" y="235.5" width="35.7" height="26" fill="#0c2612" opacity="0.5"/><path d="M286.6 229.8L292.3 235.0M292.3 235.0L290.8 237.9M290.8 237.9L298.5 243.5M292.2 262.1L289.7 258.0M289.7 258.0L289.7 257.8M289.7 257.8L294.6 255.1M253.7 255.0L254.9 256.1M253.7 255.0L201.8 271.4M201.8 271.4L255.0 261.4M254.9 256.1L255.0 261.4M256.2 262.3L255.0 261.4M279.5 239.7L279.0 234.8M279.5 239.7L276.8 241.3M276.8 241.3L274.3 240.9M274.3 240.9L275.8 236.4M275.8 236.4L279.0 234.8M294.6 255.1L291.7 250.0M291.7 250.0L293.1 246.1M290.4 238.0L287.9 241.0M290.4 238.0L284.9 233.7M283.5 239.4L284.2 234.3M283.5 239.4L285.4 241.9M285.4 241.9L287.9 241.0M284.9 233.7L284.2 234.3M290.8 237.9L290.4 238.0M294.1 245.2L287.9 241.0M286.6 229.8L284.9 233.7M279.6 233.9L279.0 234.8M279.6 233.9L284.2 234.3M279.5 239.7L283.5 239.4M211.9 238.0L254.6 246.9M211.9 238.0L254.7 250.9M254.6 246.9L254.7 250.9M253.7 255.0L254.9 251.1M254.9 251.1L254.7 250.9M292.2 262.1L288.4 267.1M289.7 258.0L286.2 263.5M286.2 263.5L288.4 267.1M255.9 244.5L254.6 246.9M255.9 244.5L254.0 241.8M231.9 238.0L254.0 241.8M279.6 233.9L275.5 227.8M275.8 236.4L274.0 233.2M274.0 233.2L275.5 227.8M259.6 244.3L255.9 244.5M259.6 244.3L259.7 239.3M254.0 241.8L255.9 238.8M259.7 239.3L255.9 238.8M231.9 238.0L254.6 235.0M255.9 238.8L254.6 235.0M289.7 257.8L289.0 257.3M291.7 250.0L287.4 251.0M287.4 251.0L289.0 257.3M269.8 260.9L269.3 262.9M269.8 260.9L274.2 260.1M274.2 260.1L274.9 262.5M274.9 262.5L269.6 267.1M269.6 267.1L269.3 262.9M268.0 325.0L280.1 263.9M280.1 263.9L274.9 262.5M263.4 260.4L264.1 256.8M263.4 260.4L262.6 261.3M262.6 261.3L260.2 262.5M258.5 257.0L259.2 261.9M258.5 257.0L261.5 255.5M259.2 261.9L260.2 262.5M261.5 255.5L264.1 256.8M268.8 256.9L269.8 260.9M268.8 256.9L267.6 256.3M267.6 256.3L265.7 256.3M265.7 256.3L264.1 256.8M269.3 262.9L263.4 260.4M269.2 269.3L262.6 261.3M267.9 323.3L260.2 262.5M254.9 256.1L258.5 257.0M256.2 262.3L259.2 261.9M260.6 250.6L254.9 251.1M260.6 250.6L261.5 255.5M260.6 250.6L260.8 250.3M259.6 244.3L260.2 244.6M260.2 244.6L260.8 250.3M265.7 256.3L264.5 249.9M260.8 250.3L264.5 249.9M276.8 241.3L280.4 246.3M274.3 240.9L273.9 241.0M273.9 241.0L273.1 246.3M280.4 246.3L274.4 248.6M273.1 246.3L274.4 248.6M254.6 235.0L254.9 234.7M256.2 229.2L254.9 234.7M259.7 239.3L260.1 238.9M254.9 234.7L260.3 235.5M260.1 238.9L260.3 235.5M260.2 244.6L265.0 243.6M265.0 243.6L265.1 239.7M260.1 238.9L265.1 239.7M273.1 240.7L266.3 244.7M273.1 240.7L271.2 238.9M271.2 238.9L265.7 238.9M265.0 243.6L266.3 244.7M265.1 239.7L265.7 238.9M256.2 229.2L261.0 234.7M261.0 234.7L260.3 235.5M265.9 229.3L271.1 235.3M265.9 229.3L264.5 233.1M264.5 233.1L265.1 234.9M265.1 234.9L270.9 236.5M271.1 235.3L270.9 236.5M274.0 233.2L271.1 235.3M261.0 234.7L264.5 233.1M265.7 238.9L265.1 234.9M271.2 238.9L270.9 236.5M273.9 241.0L273.1 240.7M286.8 250.6L285.8 251.1M286.8 250.6L285.5 246.0M285.8 251.1L280.6 250.2M284.7 245.3L285.5 246.0M284.7 245.3L281.0 246.5M281.0 246.5L280.6 250.2M293.1 246.1L285.5 246.0M287.4 251.0L286.8 250.6M285.4 241.9L284.7 245.3M280.4 246.3L281.0 246.5M289.0 257.3L284.1 257.0M285.8 251.1L282.0 255.1M284.1 257.0L282.0 255.1M286.2 263.5L281.8 263.0M284.1 257.0L281.8 263.0M280.1 263.9L280.2 263.8M281.8 263.0L280.2 263.8M272.6 251.4L274.4 248.7M272.6 251.4L273.2 254.9M274.4 248.7L279.5 253.1M273.2 254.9L276.8 256.5M276.8 256.5L276.9 256.5M276.9 256.5L279.7 254.5M279.5 253.1L279.7 254.5M274.4 248.6L274.4 248.7M280.6 250.2L279.5 253.1M268.8 256.9L273.2 254.9M274.2 260.1L276.8 256.5M280.2 263.8L276.9 256.5M282.0 255.1L279.7 254.5M266.8 246.0L266.0 249.1M266.8 246.0L270.2 246.8M270.2 246.8L269.9 250.7M266.0 249.1L268.2 251.0M268.2 251.0L269.9 250.7M264.5 249.9L266.0 249.1M266.3 244.7L266.8 246.0M273.1 246.3L270.2 246.8M272.6 251.4L269.9 250.7M267.6 256.3L268.2 251.0" fill="none" stroke="#48a860" stroke-width="0.75" opacity="0.45"/></g>
</g>
<rect x="203.6" y="209.5" width="14.4" height="11" fill="none" stroke="#e8e0e8" stroke-width="0.7" stroke-dasharray="1.4 1.1" opacity="0.5"/>
<path d="M254.3 261.5 V235.5 H290" fill="none" stroke="#e8e0e8" stroke-width="0.7" stroke-dasharray="1.4 1.1" opacity="0.5"/>
<rect x="193.8" y="255.1" width="9.6" height="1.5" fill="#ffffff" opacity="0.85"/>
<rect x="187.3" y="185.8" width="102.4" height="75.4" fill="none" stroke="#777" stroke-opacity="0.35" stroke-width="0.6"/>
<g clip-path="url(#cp22)">
<rect x="292" y="185.5" width="103" height="76" fill="#0b1a10"/>
<rect x="252" y="145.5" width="183" height="156" fill="url(#pG)" opacity="0.4" transform="translate(10 18)"/>
<rect x="252" y="145.5" width="183" height="156" filter="url(#dgrain)" opacity="0.4"/>
<g clip-path="url(#ci22)"><rect x="359.3" y="235.5" width="35.7" height="26" fill="#0c2612" opacity="0.5"/><path d="M395.3 260.3L395.0 259.7M395.0 259.7L395.1 256.9M444.0 245.9L395.2 256.8M395.1 256.9L395.2 256.8M357.9 259.2L360.0 263.0M357.9 259.0L350.9 251.6M357.9 259.0L357.9 259.2M420.9 246.6L395.3 244.7M420.9 246.6L394.4 251.1M395.3 244.7L393.9 250.7M394.4 251.1L393.9 250.7M395.2 256.8L394.4 251.1M363.5 245.3L369.9 245.1M363.5 245.3L362.6 244.7M363.4 240.6L362.6 244.7M363.4 240.6L364.7 239.0M369.9 245.1L370.3 244.5M370.3 244.5L369.8 241.7M364.7 239.0L369.8 241.7M361.6 245.2L344.6 243.9M361.6 245.2L361.9 244.9M361.9 244.9L356.7 240.2M344.6 243.9L356.7 240.2M350.9 251.6L358.4 251.1M358.4 251.1L361.6 245.2M363.4 240.6L357.8 239.3M362.6 244.7L361.9 244.9M357.8 239.3L356.7 240.2M359.5 234.9L357.8 239.3M357.9 259.0L360.0 258.0M358.4 251.1L359.7 251.8M360.0 258.0L359.7 251.8M360.0 263.0L364.8 263.1M360.0 258.0L363.3 258.1M363.3 258.1L365.8 261.8M364.8 263.1L365.8 261.8M369.7 258.6L369.4 261.1M369.7 258.6L374.2 253.2M374.2 253.2L375.9 256.4M375.9 256.4L370.9 261.5M369.4 261.1L369.9 261.4M370.9 261.5L369.9 261.4M368.6 251.1L365.2 250.9M368.6 251.1L368.0 255.3M368.0 255.3L363.9 255.7M365.2 250.9L363.0 252.5M363.0 252.5L363.9 255.7M363.5 245.3L365.2 250.9M370.1 250.3L369.9 245.1M370.1 250.3L368.6 251.1M370.1 250.3L374.1 252.2M374.1 252.2L374.2 253.2M369.7 258.6L368.0 255.3M363.3 258.1L363.9 255.7M365.8 261.8L369.4 261.1M359.7 251.8L363.0 252.5M369.9 261.4L376.8 333.7M370.9 261.5L375.7 263.2M376.8 333.7L375.7 263.2M375.6 251.3L374.1 252.2M375.6 251.3L379.7 251.5M375.9 256.4L378.9 258.6M379.7 251.5L381.8 255.1M381.8 255.1L378.9 258.6M375.7 263.2L379.0 261.2M378.9 258.6L379.0 261.2M388.7 260.0L384.9 260.4M388.7 260.0L389.0 256.0M389.0 255.9L389.0 256.0M389.0 255.9L384.7 256.7M384.7 256.7L384.9 260.4M395.0 259.7L389.4 260.8M395.1 256.9L389.0 256.0M389.4 260.8L388.7 260.0M388.6 251.3L389.5 250.3M388.6 251.3L389.0 255.9M389.5 250.3L393.9 250.7M388.6 251.3L386.2 251.5M386.2 251.5L382.7 255.1M382.7 255.1L384.7 256.7M370.3 244.5L374.6 244.5M375.6 251.3L376.2 246.2M376.2 246.2L374.6 244.5M395.3 244.7L394.1 243.5M400.6 237.4L396.3 239.1M396.3 239.1L393.8 240.7M394.1 243.5L393.8 240.7M386.2 251.5L383.6 249.7M379.7 251.5L380.5 250.5M382.7 255.1L381.8 255.1M380.5 250.5L383.6 249.7M376.2 246.2L380.5 245.4M380.5 250.5L380.5 245.4M391.4 304.7L379.1 261.3M389.1 272.4L383.5 262.1M383.5 262.1L379.1 261.3M379.0 261.2L379.1 261.3M395.3 260.3L389.5 273.7M389.4 260.8L389.1 272.4M384.9 260.4L383.5 262.1M369.8 241.7L371.3 239.4M374.6 244.5L376.3 241.0M376.3 241.0L373.8 238.6M371.3 239.4L373.8 238.6M379.2 236.0L378.1 240.7M379.2 236.0L375.2 234.5M376.3 241.0L378.1 240.7M373.8 238.6L375.2 234.5M381.2 235.4L383.2 235.8M381.2 235.4L376.8 220.1M383.2 235.8L396.9 186.0M379.2 236.0L381.2 235.4M375.2 234.5L374.7 233.8M374.7 233.8L376.8 220.1M359.5 234.9L360.1 234.7M360.1 234.7L365.0 218.0M400.6 237.4L394.8 234.8M392.7 222.7L394.8 234.8M396.3 239.1L394.4 235.5M394.8 234.8L394.4 235.5M389.5 250.3L388.8 247.8M394.1 243.5L391.2 244.6M388.8 247.8L391.2 244.6M383.2 235.8L384.6 237.1M392.7 222.7L389.0 236.3M384.6 237.1L389.0 236.3M393.8 240.7L391.0 238.4M391.2 244.6L388.3 242.3M388.3 242.3L391.0 238.4M394.4 235.5L390.9 238.1M389.0 236.3L390.9 238.1M391.0 238.4L390.9 238.1M367.1 230.5L368.6 234.4M367.1 230.5L362.1 235.7M364.6 238.2L368.6 234.4M364.6 238.2L362.1 235.7M368.6 234.4L368.6 234.4M374.7 233.8L368.6 234.4M360.1 234.7L362.1 235.7M364.7 239.0L364.6 238.2M371.3 239.4L368.6 234.4M386.5 242.7L384.0 240.2M386.5 242.7L386.2 245.9M384.3 246.5L380.8 245.0M384.3 246.5L386.2 245.9M384.0 240.2L381.0 242.4M381.0 242.4L380.8 245.0M384.6 237.1L384.0 240.2M388.3 242.3L386.5 242.7M388.8 247.8L386.2 245.9M383.6 249.7L384.3 246.5M380.5 245.4L380.8 245.0M378.1 240.7L381.0 242.4" fill="none" stroke="#48a860" stroke-width="0.75" opacity="0.45"/></g>
<path d="M291 215 q20 8 30 16 q20 2 40 6" stroke="#000" stroke-width="1.3" fill="none" opacity="0.7"/>
</g>
<rect x="319" y="199.6" width="16.3" height="13.1" fill="none" stroke="#e8e0e8" stroke-width="0.7" stroke-dasharray="1.4 1.1" opacity="0.5"/>
<path d="M359.3 261.5 V235.5 H395" fill="none" stroke="#e8e0e8" stroke-width="0.7" stroke-dasharray="1.4 1.1" opacity="0.5"/>
<rect x="298.8" y="255.1" width="9.6" height="1.5" fill="#ffffff" opacity="0.85"/>
<rect x="292.3" y="185.8" width="102.4" height="75.4" fill="none" stroke="#777" stroke-opacity="0.35" stroke-width="0.6"/>
<g clip-path="url(#cp23)">
<rect x="397" y="185.5" width="103" height="76" fill="#081510"/>
<rect x="357" y="145.5" width="183" height="156" fill="url(#pG)" opacity="0.38" transform="translate(15 27)"/>
<rect x="357" y="145.5" width="183" height="156" filter="url(#dgrain)" opacity="0.4"/>
<g clip-path="url(#ci23)"><rect x="464.3" y="235.5" width="35.7" height="26" fill="#0c2612" opacity="0.5"/><path d="M498.2 233.9L499.5 234.7M581.8 226.2L499.5 234.7M581.8 226.2L502.0 240.5M499.5 234.7L500.0 239.2M502.0 240.5L500.0 239.2M501.9 256.4L500.4 259.5M464.0 234.6L470.9 221.0M463.7 251.5L458.0 251.2M463.7 251.5L465.0 254.7M455.2 251.9L463.7 257.4M465.0 254.7L463.7 257.4M464.4 259.7L463.7 257.4M496.4 240.5L500.0 239.2M496.4 240.5L497.2 245.2M502.0 240.5L499.6 245.9M497.2 245.2L499.6 245.9M1109.6 151.0L499.7 246.1M499.7 246.1L499.6 245.9M463.7 251.5L465.6 250.6M458.0 251.2L463.8 243.8M465.6 250.6L463.8 243.8M464.0 234.6L464.7 236.1M470.9 221.0L470.9 234.5M470.9 234.5L464.7 236.1M479.1 184.5L485.8 235.6M490.9 229.2L488.6 235.8M485.8 235.6L488.6 235.8M478.7 222.1L479.9 235.4M479.9 235.4L483.6 237.0M485.8 235.6L483.6 237.0M465.0 254.7L468.7 256.8M464.4 259.7L467.0 260.6M468.7 256.8L467.0 260.6M467.0 260.6L467.1 260.9M490.7 250.4L490.9 246.1M490.7 250.4L495.9 251.9M495.9 251.9L494.5 246.2M490.9 246.1L494.5 246.2M501.5 255.5L496.2 254.3M501.5 255.5L502.6 251.0M502.6 251.0L500.4 249.1M500.4 249.1L496.3 252.3M496.2 254.3L496.3 252.3M501.9 256.4L501.5 255.5M500.4 259.5L499.0 260.2M499.0 260.2L494.9 260.3M494.2 256.4L494.9 260.3M494.2 256.4L496.2 254.3M2356.2 -31.0L502.6 251.0M499.7 246.1L500.4 249.1M497.2 245.2L494.5 246.2M495.9 251.9L496.3 252.3M494.2 256.4L490.1 254.8M490.7 250.4L490.0 251.9M490.0 251.9L490.1 254.8M499.0 260.2L527.5 358.9M494.9 260.3L493.8 262.2M493.8 262.2L527.5 358.9M467.6 261.2L467.1 260.9M467.6 261.2L477.5 308.9M473.5 262.3L467.6 261.2M473.5 262.3L477.7 305.3M495.7 240.0L496.6 234.3M495.7 240.0L490.9 239.7M490.9 239.7L490.7 238.3M490.7 238.3L494.8 233.9M496.6 234.3L494.8 233.9M498.2 233.9L496.6 234.3M496.4 240.5L495.7 240.0M490.9 229.2L494.8 233.9M488.6 235.8L490.7 238.3M464.7 236.1L464.6 239.8M463.7 240.8L464.6 239.8M463.8 243.8L464.1 243.1M463.7 240.8L464.1 243.1M465.6 250.6L469.1 250.0M469.1 250.0L469.2 248.8M469.2 248.8L468.2 246.1M464.1 243.1L468.2 246.1M483.6 237.0L484.2 240.3M490.9 239.7L489.7 242.0M484.2 240.3L489.7 242.0M484.7 250.5L484.7 250.5M484.7 250.5L485.7 246.8M490.9 246.1L489.9 245.1M490.0 251.9L484.7 250.5M485.7 246.8L489.9 245.1M489.9 245.1L489.7 242.0M478.7 222.1L474.3 235.5M479.9 235.4L479.3 236.0M479.3 236.0L474.3 235.5M470.9 234.5L472.2 236.5M474.3 235.5L472.2 236.5M476.6 255.6L470.9 251.5M476.6 255.6L472.7 257.5M472.7 257.5L469.9 255.8M469.9 255.8L470.7 251.5M470.7 251.5L470.9 251.5M473.5 262.3L473.6 262.3M473.6 262.3L472.7 257.5M468.7 256.8L469.9 255.8M469.1 250.0L470.7 251.5M469.2 248.8L473.9 244.3M473.9 244.3L475.7 244.8M474.6 249.8L475.7 244.8M474.6 249.8L470.9 251.5M478.5 242.7L477.9 244.1M478.5 242.7L482.9 241.8M477.9 244.1L479.7 246.6M479.7 246.6L484.6 246.2M484.6 246.2L482.9 241.8M484.2 240.3L482.9 241.8M479.3 236.0L477.8 239.7M477.8 239.7L478.5 242.7M474.6 249.8L478.4 251.3M479.8 249.3L478.4 251.3M479.8 249.3L479.7 246.6M475.7 244.8L477.9 244.1M484.7 250.5L479.8 249.3M485.7 246.8L484.6 246.2M472.2 236.9L475.9 239.3M472.2 236.9L470.2 240.3M475.9 239.3L471.9 242.2M470.2 240.3L471.1 241.7M471.9 242.2L471.1 241.7M477.8 239.7L475.9 239.3M472.2 236.5L472.2 236.9M464.6 239.8L470.2 240.3M473.9 244.3L471.9 242.2M468.2 246.1L471.1 241.7M488.9 262.2L480.5 287.9M488.9 262.2L488.5 261.8M488.5 261.8L485.2 262.1M485.2 262.1L480.7 281.6M493.8 262.2L488.9 262.2M490.1 254.8L487.1 256.8M487.1 256.8L488.5 261.8M483.5 255.4L484.3 256.0M483.5 255.4L479.1 255.6M484.3 256.0L483.1 261.6M478.9 255.8L479.1 255.6M478.9 255.8L478.2 260.0M478.2 260.0L480.8 262.8M480.8 262.8L483.1 261.6M484.7 250.5L483.5 255.4M487.1 256.8L484.3 256.0M478.4 251.3L479.1 255.6M485.2 262.1L483.1 261.6M476.6 255.6L478.9 255.8M473.6 262.3L478.2 260.0M480.7 281.6L480.8 262.8" fill="none" stroke="#48a860" stroke-width="0.75" opacity="0.45"/></g>
</g>
<rect x="417.1" y="199.6" width="16.4" height="13.1" fill="none" stroke="#e8e0e8" stroke-width="0.7" stroke-dasharray="1.4 1.1" opacity="0.5"/>
<path d="M464.3 261.5 V235.5 H500" fill="none" stroke="#e8e0e8" stroke-width="0.7" stroke-dasharray="1.4 1.1" opacity="0.5"/>
<rect x="403.8" y="255.1" width="9.6" height="1.5" fill="#ffffff" opacity="0.85"/>
<rect x="397.3" y="185.8" width="102.4" height="75.4" fill="none" stroke="#777" stroke-opacity="0.35" stroke-width="0.6"/>
<g clip-path="url(#cp24)">
<rect x="502" y="185.5" width="103" height="76" fill="#071f0f"/>
<rect x="462" y="145.5" width="183" height="156" fill="url(#pG)" opacity="0.5" transform="translate(20 36)"/>
<rect x="462" y="145.5" width="183" height="156" filter="url(#dgrain)" opacity="0.4"/>
<g clip-path="url(#ci24)"><rect x="569.3" y="235.5" width="35.7" height="26" fill="#0c2612" opacity="0.5"/><path d="M584.5 265.2L580.5 262.1M584.4 285.6L578.0 263.2M580.5 262.1L578.0 263.2M618.4 249.5L605.2 258.0M605.9 251.4L616.2 249.3M605.9 251.4L603.0 255.4M603.0 255.4L605.2 258.0M569.1 255.3L568.8 250.1M569.1 255.3L568.9 255.5M568.9 255.5L555.9 253.9M568.8 250.1L555.9 253.9M569.4 249.0L553.2 239.0M569.4 249.0L568.8 250.1M568.9 255.5L568.1 259.8M590.9 220.4L584.9 234.3M591.6 225.7L589.5 236.8M589.5 236.8L586.3 236.5M584.9 234.3L586.3 236.5M590.3 237.4L589.5 236.8M590.3 237.4L590.2 240.5M583.6 240.7L586.3 236.5M583.6 240.7L584.8 243.0M590.2 240.5L584.8 243.0M571.1 235.9L574.1 236.0M574.1 236.0L577.6 229.1M554.6 239.1L570.6 236.4M570.6 236.4L571.1 235.9M580.7 233.8L584.9 234.3M580.7 233.8L577.6 229.1M580.7 233.8L579.2 238.8M574.1 236.0L575.2 237.3M575.2 237.3L579.2 238.8M605.9 251.4L602.7 248.9M616.2 249.3L606.7 245.0M606.7 245.0L602.7 248.9M590.2 240.5L591.5 242.2M589.2 247.8L584.9 245.7M589.2 247.8L591.3 246.3M584.8 243.0L584.9 245.7M591.5 242.2L591.3 246.3M606.7 245.0L604.4 242.5M604.4 242.5L604.6 241.7M620.4 233.5L604.6 241.7M620.4 233.5L604.2 236.5M602.0 229.3L604.2 236.5M604.6 241.7L603.9 236.9M604.2 236.5L603.9 236.9M598.7 240.5L599.9 237.4M598.7 240.5L597.3 241.3M596.1 240.6L597.3 241.3M596.1 240.6L593.8 237.0M599.9 237.4L598.4 234.9M598.4 234.9L595.3 234.8M593.8 237.0L595.3 234.8M604.4 242.5L604.1 242.5M604.1 242.5L598.7 240.5M603.9 236.9L599.9 237.4M597.3 241.7L593.0 246.3M597.3 241.7L597.3 241.3M591.5 242.2L596.1 240.6M593.0 246.3L591.3 246.3M590.3 237.4L593.8 237.0M602.0 229.3L598.4 234.9M591.6 225.7L595.3 234.8M584.5 265.2L586.8 262.4M586.8 262.4L587.1 262.1M592.7 265.3L587.1 262.1M586.8 262.4L581.2 256.6M580.5 262.1L580.7 256.8M581.2 256.6L580.7 256.8M608.1 262.0L605.3 258.6M605.3 258.6L599.7 262.8M600.0 267.0L599.7 263.0M599.7 263.0L599.7 262.8M605.2 258.0L605.3 258.6M603.0 255.4L600.2 255.0M600.2 255.0L599.1 255.9M599.1 255.9L599.7 262.8M573.8 261.3L574.5 263.0M573.8 261.3L570.4 260.8M568.1 259.8L570.4 260.8M578.0 263.2L574.5 263.0M580.4 247.0L580.0 250.8M580.4 247.0L583.5 246.6M583.5 246.6L583.3 252.7M580.0 250.8L583.0 253.6M583.3 252.7L583.0 253.6M589.4 249.2L589.2 247.8M589.4 249.2L583.3 252.7M584.9 245.7L583.5 246.6M583.6 240.7L579.8 239.4M579.2 238.8L579.4 239.1M579.8 239.4L579.4 239.1M580.4 247.0L579.0 246.6M579.8 239.4L579.0 246.6M570.6 236.4L570.8 239.6M575.2 237.3L572.9 242.3M572.9 242.3L570.8 239.6M565.9 241.8L570.8 239.6M598.8 245.5L595.9 247.8M598.8 245.5L600.7 246.2M600.7 246.2L601.6 248.7M601.6 248.7L599.5 251.1M599.5 251.1L596.6 250.0M595.9 247.8L596.6 250.0M597.3 241.7L598.8 245.5M593.0 246.3L595.9 247.8M604.1 242.5L600.7 246.2M602.7 248.9L601.6 248.7M600.2 255.0L599.5 251.1M599.1 255.9L595.4 256.0M595.5 251.0L595.4 256.0M595.5 251.0L596.6 250.0M589.4 249.2L590.1 251.5M590.1 251.5L595.5 251.0M575.2 252.1L579.7 250.9M575.2 252.1L575.5 255.8M579.7 250.9L578.7 256.3M578.7 256.3L575.5 255.9M575.5 255.8L575.5 255.9M583.0 255.1L581.2 256.6M583.0 255.1L583.0 253.6M580.7 256.8L578.7 256.3M580.0 250.8L579.7 250.9M573.8 261.3L575.5 255.9M569.1 255.3L575.5 255.8M594.4 256.5L589.9 254.5M594.4 256.5L594.2 260.0M594.2 260.0L593.2 260.9M593.2 260.9L588.2 260.3M588.2 260.3L588.3 255.8M588.3 255.8L589.9 254.5M590.1 251.5L589.9 254.5M595.4 256.0L594.4 256.5M599.7 263.0L594.2 260.0M592.7 265.3L593.2 260.9M587.1 262.1L588.2 260.3M583.0 255.1L588.3 255.8M574.8 243.9L577.5 246.7M574.8 243.9L573.0 243.5M573.0 243.5L571.2 244.7M571.2 244.7L569.9 248.7M577.5 246.7L574.8 251.0M569.9 248.7L574.8 251.0M579.4 239.1L574.8 243.9M579.0 246.6L577.5 246.7M572.9 242.3L573.0 243.5M565.9 241.8L571.2 244.7M569.4 249.0L569.9 248.7M575.2 252.1L574.8 251.0" fill="none" stroke="#48a860" stroke-width="0.75" opacity="0.45"/></g>
<path d="M502 262 L502 248 q6 -2 12 1 q8 4 14 3 q8 0 12 3 q4 3 6 7 Z M543 252 q3 -2 5 0 q1 3 -2 4 q-3 0 -3 -4 Z M570 188 q3 -2 5 1 q-1 3 -4 2 Z M600 196 q2 6 1 14 l-1 0 q-1 -8 0 -14 Z" fill="#000" opacity="0.95"/>
<path d="M502 223 q10 -4 18 0 q8 6 14 4 q6 -2 12 6" stroke="#000" stroke-width="1.2" fill="none" opacity="0.7"/>
</g>
<rect x="535.3" y="203.4" width="16.4" height="13" fill="none" stroke="#e8e0e8" stroke-width="0.7" stroke-dasharray="1.4 1.1" opacity="0.5"/>
<path d="M569.3 261.5 V235.5 H605" fill="none" stroke="#e8e0e8" stroke-width="0.7" stroke-dasharray="1.4 1.1" opacity="0.5"/>
<rect x="508.8" y="255.1" width="9.6" height="1.5" fill="#ffffff" opacity="0.85"/>
<rect x="502.3" y="185.8" width="102.4" height="75.4" fill="none" stroke="#777" stroke-opacity="0.35" stroke-width="0.6"/>
<text x="134.1" y="24.2" font-size="13" text-anchor="middle" fill="#1a1a1a">WT</text>
<text x="239" y="24.2" font-size="13" text-anchor="middle" fill="#1a1a1a">Saline</text>
<text x="341.8" y="24.2" font-size="13" text-anchor="middle" fill="#1a1a1a">Single µDys5</text>
<text x="448.75" y="24.2" font-size="13" text-anchor="middle" fill="#1a1a1a">Dual midi-Dys2</text>
<text x="553.2" y="24.2" font-size="13" text-anchor="middle" fill="#1a1a1a">Triple full-Dys2</text>
<text transform="translate(78.7 67.2) rotate(-90)" x="0" y="0" font-size="13" text-anchor="middle" fill="#1a1a1a">H&amp;E</text>
<text transform="translate(77.1 143.4) rotate(-90)" x="0" y="0" font-size="13" text-anchor="middle" fill="#1a1a1a">Dystrophin</text>
<text transform="translate(78.6 220.9) rotate(-90)" x="0" y="0" font-size="13" text-anchor="middle" fill="#1a1a1a">Laminin</text>
<text x="71.6" y="10.7" font-size="12" font-weight="bold" fill="#111">a)</text>
<g class="ch">
<text x="19.8" y="291.7" font-size="11.8" font-weight="bold" fill="#111">b)</text>
<line x1="34.9" y1="308" x2="34.9" y2="470.9" stroke="#000" stroke-width="1.9"/>
<line x1="29.9" y1="470.1" x2="34.9" y2="470.1" stroke="#000" stroke-width="1.4"/>
<text transform="translate(29.3 472.93) scale(0.93 1)" font-size="9.8" text-anchor="end" fill="#111">0</text>
<line x1="29.9" y1="437.82" x2="34.9" y2="437.82" stroke="#000" stroke-width="1.4"/>
<text transform="translate(29.3 440.65) scale(0.93 1)" font-size="9.8" text-anchor="end" fill="#111">20</text>
<line x1="29.9" y1="405.54" x2="34.9" y2="405.54" stroke="#000" stroke-width="1.4"/>
<text transform="translate(29.3 408.37) scale(0.93 1)" font-size="9.8" text-anchor="end" fill="#111">40</text>
<line x1="29.9" y1="373.26" x2="34.9" y2="373.26" stroke="#000" stroke-width="1.4"/>
<text transform="translate(29.3 376.09) scale(0.93 1)" font-size="9.8" text-anchor="end" fill="#111">60</text>
<line x1="29.9" y1="340.98" x2="34.9" y2="340.98" stroke="#000" stroke-width="1.4"/>
<text transform="translate(29.3 343.81) scale(0.93 1)" font-size="9.8" text-anchor="end" fill="#111">80</text>
<line x1="29.9" y1="308.7" x2="34.9" y2="308.7" stroke="#000" stroke-width="1.4"/>
<text transform="translate(29.3 311.53) scale(0.93 1)" font-size="9.8" text-anchor="end" fill="#111">100</text>
<line x1="29.9" y1="470.1" x2="222.1" y2="470.1" stroke="#000" stroke-width="1.9"/>
<line x1="57.9" y1="470.1" x2="57.9" y2="474.5" stroke="#000" stroke-width="1.4"/>
<text x="58.2" y="482.3" font-size="8.2" text-anchor="middle" fill="#111" >Wild</text>
<line x1="93.2" y1="470.1" x2="93.2" y2="474.5" stroke="#000" stroke-width="1.4"/>
<text x="92.2" y="482.3" font-size="8.2" text-anchor="middle" fill="#111" >saline</text>
<line x1="128.3" y1="470.1" x2="128.3" y2="474.5" stroke="#000" stroke-width="1.4"/>
<text x="128.3" y="482.3" font-size="8.2" text-anchor="middle" fill="#111" >µDys5</text>
<line x1="163.4" y1="470.1" x2="163.4" y2="474.5" stroke="#000" stroke-width="1.4"/>
<text x="163" y="482.3" font-size="8.2" text-anchor="middle" fill="#111" >mDys2</text>
<line x1="198.5" y1="470.1" x2="198.5" y2="474.5" stroke="#000" stroke-width="1.4"/>
<text x="197.9" y="482.3" font-size="8.2" text-anchor="middle" fill="#111" >fDys2</text>
<text x="58.2" y="491.2" font-size="8.2" text-anchor="middle" fill="#111" >type</text>
<line x1="110.8" y1="486.5" x2="216" y2="486.5" stroke="#000" stroke-width="1.2"/>
<line x1="80.1" y1="501.8" x2="216.8" y2="501.8" stroke="#000" stroke-width="1.2"/>
<text x="164.05" y="496.2" font-size="8.2" text-anchor="middle" fill="#111">AAV6 2x10<tspan font-size="4.76" dy="-3.2">14</tspan><tspan dy="3.2"> vg/kg</tspan></text>
<text x="151.75" y="511" font-size="8.2" text-anchor="middle" fill="#111">mdx<tspan font-size="4.51" dy="-3">4cv</tspan></text>
<text transform="translate(7.9 394) rotate(-90)" font-size="9.85" text-anchor="middle" fill="#111">Percentage of Dys+ myofibers</text>
<rect x="46.6" y="308.7" width="23.3" height="161.4" fill="#ffffff" stroke="#111" stroke-width="1.5"/>
<rect x="116.6" y="461.9" width="23.8" height="8.2" fill="#d9707f" stroke="#111" stroke-width="1.5"/>
<rect x="151.8" y="397.3" width="23.6" height="72.8" fill="#6fd5c5" stroke="#111" stroke-width="1.5"/>
<rect x="186.8" y="411.7" width="23.8" height="58.4" fill="#d6bde1" stroke="#111" stroke-width="1.5"/>
<circle cx="49.4" cy="308.9" r="2.5" fill="#000"/>
<circle cx="55.5" cy="310.6" r="2.5" fill="#000"/>
<circle cx="61.3" cy="308.9" r="2.5" fill="#000"/>
<circle cx="67.3" cy="308.9" r="2.5" fill="#000"/>
<clipPath id="cpmu"><rect x="110" y="455" width="40" height="14.5"/></clipPath>
<clipPath id="cpsal"><rect x="75" y="455" width="40" height="14.5"/></clipPath>
<g clip-path="url(#cpsal)">
<circle cx="84.3" cy="469.2" r="2.6" fill="#000"/>
<circle cx="90.4" cy="469" r="2.6" fill="#000"/>
<circle cx="96.5" cy="468.8" r="2.6" fill="#000"/>
<circle cx="102.4" cy="468" r="2.6" fill="#000"/>
</g>
<line x1="128.4" y1="459.4" x2="128.4" y2="464" stroke="#000" stroke-width="1.2"/>
<line x1="122.2" y1="459.4" x2="134.8" y2="459.4" stroke="#000" stroke-width="1.2"/>
<circle cx="128.4" cy="455.5" r="2.5" fill="#000"/>
<circle cx="120.2" cy="461.3" r="2.5" fill="#000"/>
<g clip-path="url(#cpmu)">
<circle cx="128.4" cy="466.8" r="2.5" fill="#000"/>
<circle cx="136.1" cy="466.6" r="2.5" fill="#000"/>
</g>
<line x1="122.2" y1="463.3" x2="134.8" y2="463.3" stroke="#9a5a66" stroke-width="1.1"/>
<line x1="163.4" y1="380.7" x2="163.4" y2="413.9" stroke="#000" stroke-width="1.3"/>
<line x1="157.2" y1="380.7" x2="169.6" y2="380.7" stroke="#000" stroke-width="1.4"/>
<line x1="157.2" y1="413.8" x2="169.6" y2="413.8" stroke="#0f4a45" stroke-width="1.6"/>
<circle cx="163.4" cy="363.4" r="2.5" fill="#000"/>
<circle cx="163.4" cy="381.6" r="2.5" fill="#000"/>
<circle cx="163.4" cy="402.6" r="2.5" fill="#000"/>
<circle cx="163.4" cy="441.1" r="2.5" fill="#000"/>
<line x1="198.5" y1="402.4" x2="198.5" y2="420.7" stroke="#000" stroke-width="1.3"/>
<line x1="192.2" y1="402.4" x2="204.7" y2="402.4" stroke="#000" stroke-width="1.4"/>
<line x1="192.2" y1="420.6" x2="204.7" y2="420.6" stroke="#3a2248" stroke-width="1.6"/>
<circle cx="198.5" cy="392.6" r="2.5" fill="#000"/>
<circle cx="198.5" cy="400.7" r="2.5" fill="#000"/>
<circle cx="198.5" cy="420.1" r="2.5" fill="#000"/>
<circle cx="198.5" cy="433" r="2.5" fill="#000"/>
<text x="254.4" y="306.6" font-size="11.8" font-weight="bold" fill="#111">c)</text>
<line x1="265.4" y1="324.46" x2="265.4" y2="470.2" stroke="#000" stroke-width="1.7"/>
<line x1="259.9" y1="469.4" x2="265.4" y2="469.4" stroke="#000" stroke-width="1.4"/>
<text transform="translate(258.4 473.02) scale(1.02 1)" font-size="8.4" text-anchor="end" fill="#111">0</text>
<line x1="259.9" y1="451.37" x2="265.4" y2="451.37" stroke="#000" stroke-width="1.4"/>
<text transform="translate(258.4 454.99) scale(1.02 1)" font-size="8.4" text-anchor="end" fill="#111">1000</text>
<line x1="259.9" y1="433.34" x2="265.4" y2="433.34" stroke="#000" stroke-width="1.4"/>
<text transform="translate(258.4 436.96) scale(1.02 1)" font-size="8.4" text-anchor="end" fill="#111">2000</text>
<line x1="259.9" y1="415.31" x2="265.4" y2="415.31" stroke="#000" stroke-width="1.4"/>
<text transform="translate(258.4 418.93) scale(1.02 1)" font-size="8.4" text-anchor="end" fill="#111">3000</text>
<line x1="259.9" y1="397.28" x2="265.4" y2="397.28" stroke="#000" stroke-width="1.4"/>
<text transform="translate(258.4 400.9) scale(1.02 1)" font-size="8.4" text-anchor="end" fill="#111">4000</text>
<line x1="259.9" y1="379.25" x2="265.4" y2="379.25" stroke="#000" stroke-width="1.4"/>
<text transform="translate(258.4 382.87) scale(1.02 1)" font-size="8.4" text-anchor="end" fill="#111">5000</text>
<line x1="259.9" y1="361.22" x2="265.4" y2="361.22" stroke="#000" stroke-width="1.4"/>
<text transform="translate(258.4 364.84) scale(1.02 1)" font-size="8.4" text-anchor="end" fill="#111">6000</text>
<line x1="259.9" y1="343.19" x2="265.4" y2="343.19" stroke="#000" stroke-width="1.4"/>
<text transform="translate(258.4 346.81) scale(1.02 1)" font-size="8.4" text-anchor="end" fill="#111">7000</text>
<line x1="259.9" y1="325.16" x2="265.4" y2="325.16" stroke="#000" stroke-width="1.4"/>
<text transform="translate(258.4 328.78) scale(1.02 1)" font-size="8.4" text-anchor="end" fill="#111">8000</text>
<line x1="259.9" y1="469.4" x2="452.2" y2="469.4" stroke="#000" stroke-width="1.7"/>
<line x1="288.7" y1="469.4" x2="288.7" y2="474.8" stroke="#000" stroke-width="1.4"/>
<text x="289.3" y="482.3" font-size="8.2" text-anchor="middle" fill="#111" >Wild</text>
<line x1="323.8" y1="469.4" x2="323.8" y2="474.8" stroke="#000" stroke-width="1.4"/>
<text x="322.9" y="482.3" font-size="8.2" text-anchor="middle" fill="#111" >saline</text>
<line x1="359" y1="469.4" x2="359" y2="474.8" stroke="#000" stroke-width="1.4"/>
<text x="359" y="482.3" font-size="8.2" text-anchor="middle" fill="#111" >µDys5</text>
<line x1="394.5" y1="469.4" x2="394.5" y2="474.8" stroke="#000" stroke-width="1.4"/>
<text x="394.5" y="482.3" font-size="8.2" text-anchor="middle" fill="#111" >mDys2</text>
<line x1="429.4" y1="469.4" x2="429.4" y2="474.8" stroke="#000" stroke-width="1.4"/>
<text x="429.1" y="482.3" font-size="8.2" text-anchor="middle" fill="#111" >fDys2</text>
<text x="289.3" y="490.8" font-size="8.2" text-anchor="middle" fill="#111" >type</text>
<line x1="342.3" y1="487.2" x2="446.5" y2="487.2" stroke="#000" stroke-width="1.2"/>
<line x1="312" y1="502" x2="447.2" y2="502" stroke="#000" stroke-width="1.2"/>
<text x="395.2" y="496.6" font-size="8.2" text-anchor="middle" fill="#111">AAV6 2x10<tspan font-size="4.76" dy="-3.2">14</tspan><tspan dy="3.2"> vg/kg</tspan></text>
<text x="382.45" y="511" font-size="8.2" text-anchor="middle" fill="#111">mdx<tspan font-size="4.51" dy="-3">4cv</tspan></text>
<text transform="translate(233.1 396.3) rotate(-90)" font-size="9.3" text-anchor="middle" textLength="77" lengthAdjust="spacingAndGlyphs" fill="#111">Fiber area (µm<tspan font-size="7" dy="-3.6">2</tspan><tspan dy="3.6">)</tspan></text>
<path d="M288.7 399 C288.83 399 288.85 401.83 289.09 403 C289.33 404.17 289.75 405 290.15 406 C290.55 407 290.91 407.95 291.5 409 C292.09 410.05 292.83 411.3 293.7 412.3 C294.57 413.3 295.88 414.1 296.7 415 C297.52 415.9 298.18 416.72 298.6 417.7 C299.02 418.68 299.25 419.72 299.2 420.9 C299.15 422.08 298.3 423.25 298.3 424.8 C298.3 426.35 299.07 428.52 299.2 430.2 C299.33 431.88 299.27 433.2 299.1 434.9 C298.93 436.6 298.27 438.45 298.2 440.4 C298.13 442.35 298.87 444.67 298.7 446.6 C298.53 448.53 298.03 450.18 297.2 452 C296.37 453.82 294.88 455.8 293.7 457.5 C292.52 459.2 290.98 460.87 290.15 462.2 C289.31 463.53 288.94 464.4 288.7 465.5 C288.46 466.6 288.7 468.8 288.7 468.8 C288.7 468.8 288.94 466.6 288.7 465.5 C288.46 464.4 288.09 463.53 287.25 462.2 C286.42 460.87 284.88 459.2 283.7 457.5 C282.52 455.8 281.03 453.82 280.2 452 C279.37 450.18 278.87 448.53 278.7 446.6 C278.53 444.67 279.27 442.35 279.2 440.4 C279.13 438.45 278.47 436.6 278.3 434.9 C278.13 433.2 278.07 431.88 278.2 430.2 C278.33 428.52 279.1 426.35 279.1 424.8 C279.1 423.25 278.25 422.08 278.2 420.9 C278.15 419.72 278.38 418.68 278.8 417.7 C279.22 416.72 279.88 415.9 280.7 415 C281.52 414.1 282.83 413.3 283.7 412.3 C284.57 411.3 285.31 410.05 285.9 409 C286.49 407.95 286.85 407 287.25 406 C287.65 405 288.07 404.17 288.31 403 C288.55 401.83 288.57 399 288.7 399Z" fill="#ffffff" stroke="#111" stroke-width="1.3" stroke-linejoin="round"/>
<line x1="279.7" y1="424.8" x2="297.7" y2="424.8" stroke="rgba(60,60,60,0.45)" stroke-width="0.9"/>
<line x1="278.9" y1="434.9" x2="298.5" y2="434.9" stroke="#111" stroke-width="1.4"/>
<line x1="279.3" y1="446.6" x2="298.1" y2="446.6" stroke="rgba(60,60,60,0.45)" stroke-width="0.9"/>
<path d="M323.7 339.4 C323.74 339.4 323.7 353.07 323.81 360 C323.92 366.93 324.15 376.45 324.38 381 C324.6 385.55 324.84 384.45 325.15 387.3 C325.45 390.15 325.84 394.32 326.2 398.1 C326.56 401.88 327.02 405.7 327.3 410 C327.58 414.3 327.55 419.87 327.9 423.9 C328.25 427.93 329.2 431.28 329.4 434.2 C329.6 437.12 329.2 439.53 329.1 441.4 C329 443.27 328.45 443.58 328.8 445.4 C329.15 447.22 330.23 449.75 331.2 452.3 C332.17 454.85 333.97 458.8 334.6 460.7 C335.23 462.6 335.22 462.73 335 463.7 C334.78 464.67 334.35 465.73 333.3 466.5 C332.25 467.27 330.3 467.95 328.7 468.3 C327.1 468.65 325.37 468.6 323.7 468.6 C322.03 468.6 320.3 468.65 318.7 468.3 C317.1 467.95 315.15 467.27 314.1 466.5 C313.05 465.73 312.62 464.67 312.4 463.7 C312.18 462.73 312.17 462.6 312.8 460.7 C313.43 458.8 315.23 454.85 316.2 452.3 C317.17 449.75 318.25 447.22 318.6 445.4 C318.95 443.58 318.4 443.27 318.3 441.4 C318.2 439.53 317.8 437.12 318 434.2 C318.2 431.28 319.15 427.93 319.5 423.9 C319.85 419.87 319.82 414.3 320.1 410 C320.38 405.7 320.84 401.88 321.2 398.1 C321.56 394.32 321.95 390.15 322.25 387.3 C322.56 384.45 322.8 385.55 323.02 381 C323.25 376.45 323.48 366.93 323.59 360 C323.7 353.07 323.66 339.4 323.7 339.4Z" fill="#cacaca" stroke="#111" stroke-width="1.3" stroke-linejoin="round"/>
<line x1="320.1" y1="423.9" x2="327.3" y2="423.9" stroke="rgba(60,60,60,0.45)" stroke-width="0.9"/>
<line x1="319.2" y1="445.4" x2="328.2" y2="445.4" stroke="#111" stroke-width="1.4"/>
<line x1="313.4" y1="460.7" x2="334" y2="460.7" stroke="rgba(60,60,60,0.45)" stroke-width="0.9"/>
<path d="M359 365.3 C359 365.3 358.96 379.55 359 385 C359.04 390.45 359.16 394.83 359.25 398 C359.34 401.17 359.21 402 359.54 404 C359.86 406 360.7 407.77 361.2 410 C361.69 412.23 362.12 414.92 362.5 417.4 C362.88 419.88 363.12 422.4 363.5 424.9 C363.88 427.4 364.43 430.28 364.8 432.4 C365.17 434.52 365.37 435.87 365.7 437.6 C366.03 439.33 366.52 441.07 366.8 442.8 C367.08 444.53 367.5 446.63 367.4 448 C367.3 449.37 366.47 449.87 366.2 451 C365.93 452.13 365.38 453.17 365.8 454.8 C366.22 456.43 367.93 459.18 368.7 460.8 C369.47 462.42 370.32 463.5 370.4 464.5 C370.48 465.5 370.27 466.17 369.2 466.8 C368.13 467.43 365.7 468 364 468.3 C362.3 468.6 360.67 468.6 359 468.6 C357.33 468.6 355.7 468.6 354 468.3 C352.3 468 349.87 467.43 348.8 466.8 C347.73 466.17 347.52 465.5 347.6 464.5 C347.68 463.5 348.53 462.42 349.3 460.8 C350.07 459.18 351.78 456.43 352.2 454.8 C352.62 453.17 352.07 452.13 351.8 451 C351.53 449.87 350.7 449.37 350.6 448 C350.5 446.63 350.92 444.53 351.2 442.8 C351.48 441.07 351.97 439.33 352.3 437.6 C352.63 435.87 352.83 434.52 353.2 432.4 C353.57 430.28 354.12 427.4 354.5 424.9 C354.88 422.4 355.12 419.88 355.5 417.4 C355.88 414.92 356.31 412.23 356.8 410 C357.3 407.77 358.14 406 358.46 404 C358.79 402 358.66 401.17 358.75 398 C358.84 394.83 358.96 390.45 359 385 C359.04 379.55 359 365.3 359 365.3Z" fill="#e5697f" stroke="#111" stroke-width="1.3" stroke-linejoin="round"/>
<line x1="352.9" y1="437.6" x2="365.1" y2="437.6" stroke="rgba(60,60,60,0.45)" stroke-width="0.9"/>
<line x1="351.2" y1="448" x2="366.8" y2="448" stroke="#111" stroke-width="1.4"/>
<line x1="349.9" y1="460.8" x2="368.1" y2="460.8" stroke="rgba(60,60,60,0.45)" stroke-width="0.9"/>
<path d="M394.6 364.2 C394.6 364.2 394.53 374.47 394.6 378 C394.67 381.53 394.63 383.28 394.99 385.4 C395.36 387.52 396.23 388.32 396.8 390.7 C397.36 393.08 397.87 396.42 398.4 399.7 C398.93 402.98 399.82 408.02 400 410.4 C400.18 412.78 399.38 412.52 399.5 414 C399.62 415.48 400.28 417.22 400.7 419.3 C401.12 421.38 401.57 423.75 402 426.5 C402.43 429.25 402.7 433.12 403.3 435.8 C403.9 438.48 405.33 440.82 405.6 442.6 C405.87 444.38 405.62 445.32 404.9 446.5 C404.18 447.68 402.42 448.57 401.3 449.7 C400.18 450.83 398.87 452.1 398.2 453.3 C397.53 454.5 397.35 455.42 397.3 456.9 C397.25 458.38 397.83 460.72 397.9 462.2 C397.97 463.68 398.01 464.87 397.7 465.8 C397.39 466.73 396.56 467.35 396.05 467.8 C395.53 468.25 395.08 468.5 394.6 468.5 C394.12 468.5 393.67 468.25 393.15 467.8 C392.64 467.35 391.81 466.73 391.5 465.8 C391.19 464.87 391.23 463.68 391.3 462.2 C391.37 460.72 391.95 458.38 391.9 456.9 C391.85 455.42 391.67 454.5 391 453.3 C390.33 452.1 389.02 450.83 387.9 449.7 C386.78 448.57 385.02 447.68 384.3 446.5 C383.58 445.32 383.33 444.38 383.6 442.6 C383.87 440.82 385.3 438.48 385.9 435.8 C386.5 433.12 386.77 429.25 387.2 426.5 C387.63 423.75 388.08 421.38 388.5 419.3 C388.92 417.22 389.58 415.48 389.7 414 C389.82 412.52 389.02 412.78 389.2 410.4 C389.38 408.02 390.27 402.98 390.8 399.7 C391.33 396.42 391.84 393.08 392.4 390.7 C392.97 388.32 393.84 387.52 394.21 385.4 C394.57 383.28 394.53 381.53 394.6 378 C394.67 374.47 394.6 364.2 394.6 364.2Z" fill="#6ed3c3" stroke="#111" stroke-width="1.3" stroke-linejoin="round"/>
<line x1="389.1" y1="419.3" x2="400.1" y2="419.3" stroke="rgba(60,60,60,0.45)" stroke-width="0.9"/>
<line x1="386.5" y1="435.8" x2="402.7" y2="435.8" stroke="#111" stroke-width="1.4"/>
<line x1="384.9" y1="446.5" x2="404.3" y2="446.5" stroke="rgba(60,60,60,0.45)" stroke-width="0.9"/>
<path d="M429.3 326.2 C429.34 326.2 429.32 340.03 429.41 345 C429.5 349.97 429.56 351.57 429.84 356 C430.11 360.43 430.74 366.42 431.08 371.6 C431.42 376.78 431.4 382.37 431.9 387.1 C432.4 391.83 433.65 396.45 434.1 400 C434.55 403.55 434.35 405.72 434.6 408.4 C434.85 411.08 435.2 414.23 435.6 416.1 C436 417.97 436.65 418.07 437 419.6 C437.35 421.13 437.85 423.18 437.7 425.3 C437.55 427.42 436.4 430.2 436.1 432.3 C435.8 434.4 435.63 435.57 435.9 437.9 C436.17 440.23 437.02 443.15 437.7 446.3 C438.38 449.45 439.58 453.98 440 456.8 C440.42 459.62 440.65 461.5 440.2 463.2 C439.75 464.9 438.62 466.12 437.3 467 C435.98 467.88 433.63 468.22 432.3 468.5 C430.97 468.78 430.3 468.7 429.3 468.7 C428.3 468.7 427.63 468.78 426.3 468.5 C424.97 468.22 422.62 467.88 421.3 467 C419.98 466.12 418.85 464.9 418.4 463.2 C417.95 461.5 418.18 459.62 418.6 456.8 C419.02 453.98 420.22 449.45 420.9 446.3 C421.58 443.15 422.43 440.23 422.7 437.9 C422.97 435.57 422.8 434.4 422.5 432.3 C422.2 430.2 421.05 427.42 420.9 425.3 C420.75 423.18 421.25 421.13 421.6 419.6 C421.95 418.07 422.6 417.97 423 416.1 C423.4 414.23 423.75 411.08 424 408.4 C424.25 405.72 424.05 403.55 424.5 400 C424.95 396.45 426.2 391.83 426.7 387.1 C427.2 382.37 427.18 376.78 427.52 371.6 C427.86 366.42 428.49 360.43 428.76 356 C429.04 351.57 429.1 349.97 429.19 345 C429.28 340.03 429.26 326.2 429.3 326.2Z" fill="#dbc3e6" stroke="#111" stroke-width="1.3" stroke-linejoin="round"/>
<line x1="423.6" y1="416.1" x2="435" y2="416.1" stroke="rgba(60,60,60,0.45)" stroke-width="0.9"/>
<line x1="423.3" y1="437.9" x2="435.3" y2="437.9" stroke="#111" stroke-width="1.4"/>
<line x1="419.2" y1="456.8" x2="439.4" y2="456.8" stroke="rgba(60,60,60,0.45)" stroke-width="0.9"/>
<text x="288.5" y="395.6" font-size="6.2" text-anchor="middle" fill="#111" stroke="#111" stroke-width="0.12">1832 µm<tspan font-size="3.8" dy="-2.2">2</tspan></text>
<text x="323.8" y="337.2" font-size="6.2" text-anchor="middle" fill="#111" stroke="#111" stroke-width="0.12">1352 µm<tspan font-size="3.8" dy="-2.2">2</tspan></text>
<text x="359.3" y="363.3" font-size="6.2" text-anchor="middle" fill="#111" stroke="#111" stroke-width="0.12">1070 µm<tspan font-size="3.8" dy="-2.2">2</tspan></text>
<text x="394.3" y="362.4" font-size="6.2" text-anchor="middle" fill="#111" stroke="#111" stroke-width="0.12">2251 µm<tspan font-size="3.8" dy="-2.2">2</tspan></text>
<text x="430" y="324.1" font-size="6.2" text-anchor="middle" fill="#111" stroke="#111" stroke-width="0.12">1720 µm<tspan font-size="3.8" dy="-2.2">2</tspan></text>
<text x="485.7" y="305.3" font-size="11.8" font-weight="bold" fill="#111">d)</text>
<line x1="496.2" y1="321.9" x2="496.2" y2="467.4" stroke="#000" stroke-width="1.7"/>
<line x1="490.2" y1="466.6" x2="496.2" y2="466.6" stroke="#000" stroke-width="1.4"/>
<text transform="translate(488.9 469.62) scale(1.0 1)" font-size="8.4" text-anchor="end" fill="#111">0</text>
<line x1="490.2" y1="442.6" x2="496.2" y2="442.6" stroke="#000" stroke-width="1.4"/>
<text transform="translate(488.9 445.62) scale(1.0 1)" font-size="8.4" text-anchor="end" fill="#111">20</text>
<line x1="490.2" y1="418.6" x2="496.2" y2="418.6" stroke="#000" stroke-width="1.4"/>
<text transform="translate(488.9 421.62) scale(1.0 1)" font-size="8.4" text-anchor="end" fill="#111">40</text>
<line x1="490.2" y1="394.6" x2="496.2" y2="394.6" stroke="#000" stroke-width="1.4"/>
<text transform="translate(488.9 397.62) scale(1.0 1)" font-size="8.4" text-anchor="end" fill="#111">60</text>
<line x1="490.2" y1="370.6" x2="496.2" y2="370.6" stroke="#000" stroke-width="1.4"/>
<text transform="translate(488.9 373.62) scale(1.0 1)" font-size="8.4" text-anchor="end" fill="#111">80</text>
<line x1="490.2" y1="346.6" x2="496.2" y2="346.6" stroke="#000" stroke-width="1.4"/>
<text transform="translate(488.9 349.62) scale(1.0 1)" font-size="8.4" text-anchor="end" fill="#111">100</text>
<line x1="490.2" y1="322.6" x2="496.2" y2="322.6" stroke="#000" stroke-width="1.4"/>
<text transform="translate(488.9 325.62) scale(1.0 1)" font-size="8.4" text-anchor="end" fill="#111">120</text>
<line x1="490.2" y1="466.6" x2="684.2" y2="466.6" stroke="#000" stroke-width="1.7"/>
<line x1="519.3" y1="466.6" x2="519.3" y2="472" stroke="#000" stroke-width="1.4"/>
<text x="519.3" y="479.7" font-size="8.2" text-anchor="middle" fill="#111" >Wild</text>
<line x1="554.4" y1="466.6" x2="554.4" y2="472" stroke="#000" stroke-width="1.4"/>
<text x="553.4" y="479.7" font-size="8.2" text-anchor="middle" fill="#111" >saline</text>
<line x1="589.5" y1="466.6" x2="589.5" y2="472" stroke="#000" stroke-width="1.4"/>
<text x="589.5" y="479.7" font-size="8.2" text-anchor="middle" fill="#111" >µDys5</text>
<line x1="624.9" y1="466.6" x2="624.9" y2="472" stroke="#000" stroke-width="1.4"/>
<text x="624.9" y="479.7" font-size="8.2" text-anchor="middle" fill="#111" >mDys2</text>
<line x1="660.1" y1="466.6" x2="660.1" y2="472" stroke="#000" stroke-width="1.4"/>
<text x="659.6" y="479.7" font-size="8.2" text-anchor="middle" fill="#111" >fDys2</text>
<text x="519.3" y="488.4" font-size="8.2" text-anchor="middle" fill="#111" >type</text>
<line x1="572" y1="484.3" x2="677.6" y2="484.3" stroke="#000" stroke-width="1.2"/>
<line x1="542" y1="499.5" x2="678.8" y2="499.5" stroke="#000" stroke-width="1.2"/>
<text x="625.8" y="493.9" font-size="8.2" text-anchor="middle" fill="#111">AAV6 2x10<tspan font-size="4.76" dy="-3.2">14</tspan><tspan dy="3.2"> vg/kg</tspan></text>
<text x="613.25" y="508.3" font-size="8.2" text-anchor="middle" fill="#111">mdx<tspan font-size="4.51" dy="-3">4cv</tspan></text>
<text transform="translate(470.8 388.65) rotate(-90)" font-size="8.9" text-anchor="middle" fill="#111">Minimal Feret’s diameter (µm)</text>
<path d="M519.2 384 C519.24 384 519.13 386.82 519.31 388 C519.49 389.18 519.87 389.78 520.28 391.1 C520.7 392.42 520.98 394.43 521.8 395.9 C522.62 397.37 524.13 398.57 525.2 399.9 C526.27 401.23 527.43 402.43 528.2 403.9 C528.97 405.37 529.42 407.63 529.8 408.7 C530.18 409.77 530.65 409.25 530.5 410.3 C530.35 411.35 529.55 412.62 528.9 415 C528.25 417.38 527.52 421.68 526.6 424.6 C525.68 427.52 524.37 430.12 523.4 432.5 C522.43 434.88 521.37 437.17 520.76 438.9 C520.15 440.63 519.97 441.55 519.74 442.9 C519.51 444.25 519.45 444.62 519.38 447 C519.31 449.38 519.34 455.43 519.31 457.2 C519.28 458.97 519.24 457.6 519.2 457.6 C519.16 457.6 519.12 458.97 519.09 457.2 C519.06 455.43 519.09 449.38 519.02 447 C518.95 444.62 518.89 444.25 518.66 442.9 C518.43 441.55 518.25 440.63 517.64 438.9 C517.03 437.17 515.97 434.88 515 432.5 C514.03 430.12 512.72 427.52 511.8 424.6 C510.88 421.68 510.15 417.38 509.5 415 C508.85 412.62 508.05 411.35 507.9 410.3 C507.75 409.25 508.22 409.77 508.6 408.7 C508.98 407.63 509.43 405.37 510.2 403.9 C510.97 402.43 512.13 401.23 513.2 399.9 C514.27 398.57 515.78 397.37 516.6 395.9 C517.42 394.43 517.7 392.42 518.12 391.1 C518.53 389.78 518.91 389.18 519.09 388 C519.27 386.82 519.16 384 519.2 384Z" fill="#ffffff" stroke="#111" stroke-width="1.3" stroke-linejoin="round"/>
<line x1="509.2" y1="408.7" x2="529.2" y2="408.7" stroke="rgba(60,60,60,0.45)" stroke-width="0.9"/>
<line x1="510.1" y1="415" x2="528.3" y2="415" stroke="#111" stroke-width="1.4"/>
<line x1="512.4" y1="424.6" x2="526" y2="424.6" stroke="rgba(60,60,60,0.45)" stroke-width="0.9"/>
<path d="M554.3 353.9 C554.38 353.9 554.42 366.02 554.55 370 C554.69 373.98 554.84 375.3 555.12 377.8 C555.39 380.3 555.66 383 556.19 385 C556.72 387 557.51 388.18 558.3 389.8 C559.09 391.42 560.22 393.08 560.9 394.7 C561.58 396.32 562.1 397.88 562.4 399.5 C562.7 401.12 562.48 402.78 562.7 404.4 C562.92 406.02 563.35 407.32 563.7 409.2 C564.05 411.08 564.75 413.53 564.8 415.7 C564.85 417.87 564.23 420.72 564 422.2 C563.77 423.68 563.45 423.53 563.4 424.6 C563.35 425.67 563.87 427.12 563.7 428.6 C563.53 430.08 562.4 431.88 562.4 433.5 C562.4 435.12 563.43 436.82 563.7 438.3 C563.97 439.78 563.95 440.52 564 442.4 C564.05 444.28 564.27 447.58 564 449.6 C563.73 451.62 563.35 452.88 562.4 454.5 C561.45 456.12 559.56 457.82 558.3 459.3 C557.04 460.78 555.5 462.45 554.84 463.4 C554.17 464.35 554.48 465 554.3 465 C554.12 465 554.43 464.35 553.76 463.4 C553.1 462.45 551.56 460.78 550.3 459.3 C549.04 457.82 547.15 456.12 546.2 454.5 C545.25 452.88 544.87 451.62 544.6 449.6 C544.33 447.58 544.55 444.28 544.6 442.4 C544.65 440.52 544.63 439.78 544.9 438.3 C545.17 436.82 546.2 435.12 546.2 433.5 C546.2 431.88 545.07 430.08 544.9 428.6 C544.73 427.12 545.25 425.67 545.2 424.6 C545.15 423.53 544.83 423.68 544.6 422.2 C544.37 420.72 543.75 417.87 543.8 415.7 C543.85 413.53 544.55 411.08 544.9 409.2 C545.25 407.32 545.68 406.02 545.9 404.4 C546.12 402.78 545.9 401.12 546.2 399.5 C546.5 397.88 547.02 396.32 547.7 394.7 C548.38 393.08 549.51 391.42 550.3 389.8 C551.09 388.18 551.88 387 552.41 385 C552.94 383 553.21 380.3 553.48 377.8 C553.76 375.3 553.91 373.98 554.05 370 C554.18 366.02 554.22 353.9 554.3 353.9Z" fill="#cacaca" stroke="#111" stroke-width="1.3" stroke-linejoin="round"/>
<line x1="545.5" y1="409.2" x2="563.1" y2="409.2" stroke="rgba(60,60,60,0.45)" stroke-width="0.9"/>
<line x1="545.8" y1="424.6" x2="562.8" y2="424.6" stroke="#111" stroke-width="1.4"/>
<line x1="545.2" y1="442.4" x2="563.4" y2="442.4" stroke="rgba(60,60,60,0.45)" stroke-width="0.9"/>
<path d="M589.5 371 C589.58 371 589.59 379.13 589.75 382 C589.91 384.87 590.09 386.08 590.45 388.2 C590.81 390.32 591.39 392.53 591.9 394.7 C592.41 396.87 592.9 398.78 593.5 401.2 C594.1 403.62 594.68 406.92 595.5 409.2 C596.32 411.48 597.73 413.42 598.4 414.9 C599.07 416.38 599.2 417.02 599.5 418.1 C599.8 419.18 600.4 420.18 600.2 421.4 C600 422.62 598.6 424.15 598.3 425.4 C598 426.65 598.62 427.55 598.4 428.9 C598.18 430.25 597.38 431.93 597 433.5 C596.62 435.07 596.18 436.63 596.1 438.3 C596.02 439.97 596.35 441.62 596.5 443.5 C596.65 445.38 597.07 447.77 597 449.6 C596.93 451.43 596.78 452.88 596.1 454.5 C595.42 456.12 593.86 457.97 592.9 459.3 C591.94 460.63 590.88 461.68 590.32 462.5 C589.75 463.32 589.77 464.2 589.5 464.2 C589.23 464.2 589.25 463.32 588.68 462.5 C588.12 461.68 587.06 460.63 586.1 459.3 C585.14 457.97 583.58 456.12 582.9 454.5 C582.22 452.88 582.07 451.43 582 449.6 C581.93 447.77 582.35 445.38 582.5 443.5 C582.65 441.62 582.98 439.97 582.9 438.3 C582.82 436.63 582.38 435.07 582 433.5 C581.62 431.93 580.82 430.25 580.6 428.9 C580.38 427.55 581 426.65 580.7 425.4 C580.4 424.15 579 422.62 578.8 421.4 C578.6 420.18 579.2 419.18 579.5 418.1 C579.8 417.02 579.93 416.38 580.6 414.9 C581.27 413.42 582.68 411.48 583.5 409.2 C584.32 406.92 584.9 403.62 585.5 401.2 C586.1 398.78 586.59 396.87 587.1 394.7 C587.61 392.53 588.19 390.32 588.55 388.2 C588.91 386.08 589.09 384.87 589.25 382 C589.41 379.13 589.42 371 589.5 371Z" fill="#e5697f" stroke="#111" stroke-width="1.3" stroke-linejoin="round"/>
<line x1="580.1" y1="418.1" x2="598.9" y2="418.1" stroke="rgba(60,60,60,0.45)" stroke-width="0.9"/>
<line x1="581.2" y1="428.9" x2="597.8" y2="428.9" stroke="#111" stroke-width="1.4"/>
<line x1="583.1" y1="443.5" x2="595.9" y2="443.5" stroke="rgba(60,60,60,0.45)" stroke-width="0.9"/>
<path d="M624.8 369.8 C624.88 369.8 624.87 376.93 625.05 380 C625.23 383.07 625.42 386.28 625.88 388.2 C626.34 390.12 627.06 390.15 627.8 391.5 C628.54 392.85 629.5 394.68 630.3 396.3 C631.1 397.92 632.02 399.58 632.6 401.2 C633.18 402.82 633.65 404.93 633.8 406 C633.95 407.07 633.52 406.78 633.5 407.6 C633.48 408.42 633.5 409.68 633.7 410.9 C633.9 412.12 634.33 413.7 634.7 414.9 C635.07 416.1 635.77 416.88 635.9 418.1 C636.03 419.32 635.8 420.85 635.5 422.2 C635.2 423.55 634.83 424.6 634.1 426.2 C633.37 427.8 632.13 430.05 631.1 431.8 C630.07 433.55 628.65 435.08 627.9 436.7 C627.15 438.32 626.8 439.88 626.58 441.5 C626.36 443.12 626.48 444.78 626.58 446.4 C626.68 448.02 627.25 449.58 627.2 451.2 C627.14 452.82 626.61 454.48 626.25 456.1 C625.89 457.72 625.29 459.42 625.05 460.9 C624.81 462.38 624.88 465 624.8 465 C624.72 465 624.79 462.38 624.55 460.9 C624.31 459.42 623.71 457.72 623.35 456.1 C622.99 454.48 622.46 452.82 622.4 451.2 C622.35 449.58 622.92 448.02 623.02 446.4 C623.12 444.78 623.24 443.12 623.02 441.5 C622.8 439.88 622.45 438.32 621.7 436.7 C620.95 435.08 619.53 433.55 618.5 431.8 C617.47 430.05 616.23 427.8 615.5 426.2 C614.77 424.6 614.4 423.55 614.1 422.2 C613.8 420.85 613.57 419.32 613.7 418.1 C613.83 416.88 614.53 416.1 614.9 414.9 C615.27 413.7 615.7 412.12 615.9 410.9 C616.1 409.68 616.12 408.42 616.1 407.6 C616.08 406.78 615.65 407.07 615.8 406 C615.95 404.93 616.42 402.82 617 401.2 C617.58 399.58 618.5 397.92 619.3 396.3 C620.1 394.68 621.06 392.85 621.8 391.5 C622.54 390.15 623.26 390.12 623.72 388.2 C624.18 386.28 624.37 383.07 624.55 380 C624.73 376.93 624.72 369.8 624.8 369.8Z" fill="#6ed3c3" stroke="#111" stroke-width="1.3" stroke-linejoin="round"/>
<line x1="616.7" y1="407.6" x2="632.9" y2="407.6" stroke="rgba(60,60,60,0.45)" stroke-width="0.9"/>
<line x1="614.3" y1="418.1" x2="635.3" y2="418.1" stroke="#111" stroke-width="1.4"/>
<line x1="616.1" y1="426.2" x2="633.5" y2="426.2" stroke="rgba(60,60,60,0.45)" stroke-width="0.9"/>
<path d="M660.2 337.5 C660.24 337.5 660.24 350.83 660.31 355 C660.38 359.17 660.37 360 660.59 362.5 C660.82 365 661.18 367.08 661.65 370 C662.12 372.92 662.69 376.67 663.4 380 C664.11 383.33 665.3 386.87 665.9 390 C666.5 393.13 666.42 396.22 667 398.8 C667.58 401.38 668.7 403.42 669.4 405.5 C670.1 407.58 671.07 408.8 671.2 411.3 C671.33 413.8 670.58 417.38 670.2 420.5 C669.82 423.62 669.32 427.37 668.9 430 C668.48 432.63 668.2 433.8 667.7 436.3 C667.2 438.8 666.53 441.88 665.9 445 C665.27 448.12 664.67 452.08 663.9 455 C663.13 457.92 661.9 460.92 661.28 462.5 C660.66 464.08 660.56 464.5 660.2 464.5 C659.84 464.5 659.74 464.08 659.12 462.5 C658.5 460.92 657.27 457.92 656.5 455 C655.73 452.08 655.13 448.12 654.5 445 C653.87 441.88 653.2 438.8 652.7 436.3 C652.2 433.8 651.92 432.63 651.5 430 C651.08 427.37 650.58 423.62 650.2 420.5 C649.82 417.38 649.07 413.8 649.2 411.3 C649.33 408.8 650.3 407.58 651 405.5 C651.7 403.42 652.82 401.38 653.4 398.8 C653.98 396.22 653.9 393.13 654.5 390 C655.1 386.87 656.29 383.33 657 380 C657.71 376.67 658.28 372.92 658.75 370 C659.22 367.08 659.58 365 659.81 362.5 C660.03 360 660.02 359.17 660.09 355 C660.16 350.83 660.16 337.5 660.2 337.5Z" fill="#dbc3e6" stroke="#111" stroke-width="1.3" stroke-linejoin="round"/>
<line x1="651.6" y1="405.5" x2="668.8" y2="405.5" stroke="rgba(60,60,60,0.45)" stroke-width="0.9"/>
<line x1="650.8" y1="420.5" x2="669.6" y2="420.5" stroke="#111" stroke-width="1.4"/>
<line x1="653.3" y1="436.3" x2="667.1" y2="436.3" stroke="rgba(60,60,60,0.45)" stroke-width="0.9"/>
<text x="519.2" y="382.2" font-size="6.1" text-anchor="middle" fill="#111" stroke="#111" stroke-width="0.12">41.10 µm</text>
<text x="554.5" y="351.8" font-size="6.1" text-anchor="middle" fill="#111" stroke="#111" stroke-width="0.12">31.10 µm</text>
<text x="589.8" y="368.2" font-size="6.1" text-anchor="middle" fill="#111" stroke="#111" stroke-width="0.12">28.16 µm</text>
<text x="625.2" y="367.6" font-size="6.1" text-anchor="middle" fill="#111" stroke="#111" stroke-width="0.12">42.08 µm</text>
<text x="660.3" y="334.8" font-size="6.1" text-anchor="middle" fill="#111" stroke="#111" stroke-width="0.12">36.12 µm</text>
</g>
</svg>
</body></html>
